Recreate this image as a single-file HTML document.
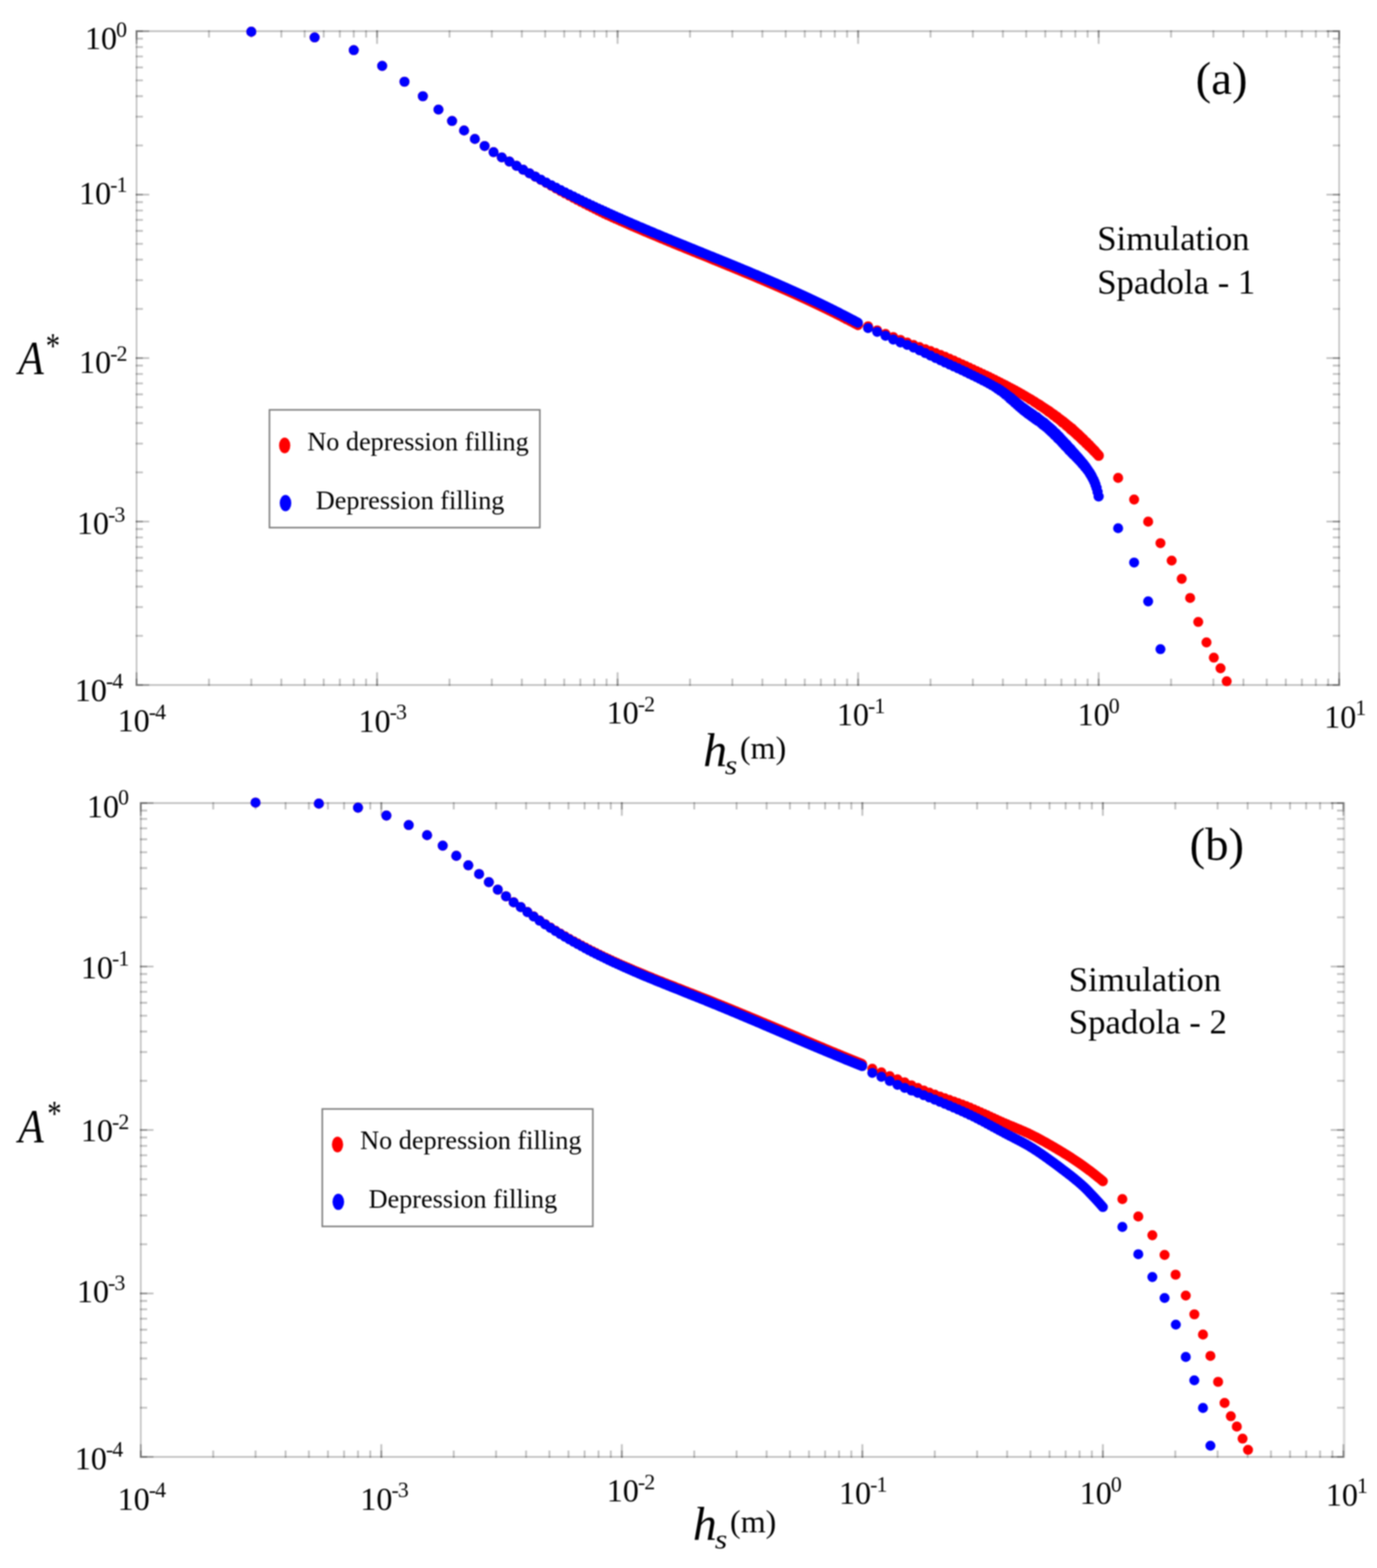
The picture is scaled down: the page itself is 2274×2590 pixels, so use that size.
<!DOCTYPE html>
<html><head><meta charset="utf-8"><title>A* vs hs</title>
<style>html,body{margin:0;padding:0;background:#fff;}svg{display:block;}</style>
</head><body>
<svg width="2274" height="2590" viewBox="0 0 2274 2590" font-family="Liberation Serif, Times New Roman, serif">
<rect width="2274" height="2590" fill="#fff"/>
<defs><filter id="soft" x="0" y="0" width="100%" height="100%" color-interpolation-filters="sRGB"><feGaussianBlur stdDeviation="0.9"/></filter></defs>
<g filter="url(#soft)">
<path d="M225.5,51.5H2211.5V1131.5H225.5Z" fill="none" stroke="#000" stroke-opacity="0.235" stroke-width="2.8"/>
<path d="M225.5,1132.9v-22.4M225.5,50.1v22.4M622.7,1132.9v-22.4M622.7,50.1v22.4M1019.9,1132.9v-22.4M1019.9,50.1v22.4M1417.1,1132.9v-22.4M1417.1,50.1v22.4M1814.3,1132.9v-22.4M1814.3,50.1v22.4M2211.5,1132.9v-22.4M2211.5,50.1v22.4M224.1,1131.5h22.4M2212.9,1131.5h-22.4M224.1,861.5h22.4M2212.9,861.5h-22.4M224.1,591.5h22.4M2212.9,591.5h-22.4M224.1,321.5h22.4M2212.9,321.5h-22.4M224.1,51.5h22.4M2212.9,51.5h-22.4" fill="none" stroke="#000" stroke-opacity="0.235" stroke-width="3.1"/>
<path d="M225.5,1132.9v-11.9M225.5,50.1v11.9M345.1,1132.9v-11.9M345.1,50.1v11.9M415.0,1132.9v-11.9M415.0,50.1v11.9M464.6,1132.9v-11.9M464.6,50.1v11.9M503.1,1132.9v-11.9M503.1,50.1v11.9M534.6,1132.9v-11.9M534.6,50.1v11.9M561.2,1132.9v-11.9M561.2,50.1v11.9M584.2,1132.9v-11.9M584.2,50.1v11.9M604.5,1132.9v-11.9M604.5,50.1v11.9M622.7,1132.9v-11.9M622.7,50.1v11.9M742.3,1132.9v-11.9M742.3,50.1v11.9M812.2,1132.9v-11.9M812.2,50.1v11.9M861.8,1132.9v-11.9M861.8,50.1v11.9M900.3,1132.9v-11.9M900.3,50.1v11.9M931.8,1132.9v-11.9M931.8,50.1v11.9M958.4,1132.9v-11.9M958.4,50.1v11.9M981.4,1132.9v-11.9M981.4,50.1v11.9M1001.7,1132.9v-11.9M1001.7,50.1v11.9M1019.9,1132.9v-11.9M1019.9,50.1v11.9M1139.5,1132.9v-11.9M1139.5,50.1v11.9M1209.4,1132.9v-11.9M1209.4,50.1v11.9M1259.0,1132.9v-11.9M1259.0,50.1v11.9M1297.5,1132.9v-11.9M1297.5,50.1v11.9M1329.0,1132.9v-11.9M1329.0,50.1v11.9M1355.6,1132.9v-11.9M1355.6,50.1v11.9M1378.6,1132.9v-11.9M1378.6,50.1v11.9M1398.9,1132.9v-11.9M1398.9,50.1v11.9M1417.1,1132.9v-11.9M1417.1,50.1v11.9M1536.7,1132.9v-11.9M1536.7,50.1v11.9M1606.6,1132.9v-11.9M1606.6,50.1v11.9M1656.2,1132.9v-11.9M1656.2,50.1v11.9M1694.7,1132.9v-11.9M1694.7,50.1v11.9M1726.2,1132.9v-11.9M1726.2,50.1v11.9M1752.8,1132.9v-11.9M1752.8,50.1v11.9M1775.8,1132.9v-11.9M1775.8,50.1v11.9M1796.1,1132.9v-11.9M1796.1,50.1v11.9M1814.3,1132.9v-11.9M1814.3,50.1v11.9M1933.9,1132.9v-11.9M1933.9,50.1v11.9M2003.8,1132.9v-11.9M2003.8,50.1v11.9M2053.4,1132.9v-11.9M2053.4,50.1v11.9M2091.9,1132.9v-11.9M2091.9,50.1v11.9M2123.4,1132.9v-11.9M2123.4,50.1v11.9M2150.0,1132.9v-11.9M2150.0,50.1v11.9M2173.0,1132.9v-11.9M2173.0,50.1v11.9M2193.3,1132.9v-11.9M2193.3,50.1v11.9M2211.5,1132.9v-11.9M2211.5,50.1v11.9M224.1,1131.5h11.9M2212.9,1131.5h-11.9M224.1,1050.2h11.9M2212.9,1050.2h-11.9M224.1,1002.7h11.9M2212.9,1002.7h-11.9M224.1,968.9h11.9M2212.9,968.9h-11.9M224.1,942.8h11.9M2212.9,942.8h-11.9M224.1,921.4h11.9M2212.9,921.4h-11.9M224.1,903.3h11.9M2212.9,903.3h-11.9M224.1,887.7h11.9M2212.9,887.7h-11.9M224.1,873.9h11.9M2212.9,873.9h-11.9M224.1,861.5h11.9M2212.9,861.5h-11.9M224.1,780.2h11.9M2212.9,780.2h-11.9M224.1,732.7h11.9M2212.9,732.7h-11.9M224.1,698.9h11.9M2212.9,698.9h-11.9M224.1,672.8h11.9M2212.9,672.8h-11.9M224.1,651.4h11.9M2212.9,651.4h-11.9M224.1,633.3h11.9M2212.9,633.3h-11.9M224.1,617.7h11.9M2212.9,617.7h-11.9M224.1,603.9h11.9M2212.9,603.9h-11.9M224.1,591.5h11.9M2212.9,591.5h-11.9M224.1,510.2h11.9M2212.9,510.2h-11.9M224.1,462.7h11.9M2212.9,462.7h-11.9M224.1,428.9h11.9M2212.9,428.9h-11.9M224.1,402.8h11.9M2212.9,402.8h-11.9M224.1,381.4h11.9M2212.9,381.4h-11.9M224.1,363.3h11.9M2212.9,363.3h-11.9M224.1,347.7h11.9M2212.9,347.7h-11.9M224.1,333.9h11.9M2212.9,333.9h-11.9M224.1,321.5h11.9M2212.9,321.5h-11.9M224.1,240.2h11.9M2212.9,240.2h-11.9M224.1,192.7h11.9M2212.9,192.7h-11.9M224.1,158.9h11.9M2212.9,158.9h-11.9M224.1,132.8h11.9M2212.9,132.8h-11.9M224.1,111.4h11.9M2212.9,111.4h-11.9M224.1,93.3h11.9M2212.9,93.3h-11.9M224.1,77.7h11.9M2212.9,77.7h-11.9M224.1,63.9h11.9M2212.9,63.9h-11.9M224.1,51.5h11.9M2212.9,51.5h-11.9" fill="none" stroke="#000" stroke-opacity="0.235" stroke-width="3.1"/>
<path d="M2219.7,1325.1V2407.9" fill="none" stroke="#000" stroke-opacity="0.14" stroke-width="4.2"/>
<path d="M2218.5,1326.5H232.5V2406.5H2218.5" fill="none" stroke="#000" stroke-opacity="0.235" stroke-width="2.8"/>
<path d="M232.5,2407.9v-22.4M232.5,1325.1v22.4M629.7,2407.9v-22.4M629.7,1325.1v22.4M1026.9,2407.9v-22.4M1026.9,1325.1v22.4M1424.1,2407.9v-22.4M1424.1,1325.1v22.4M1821.3,2407.9v-22.4M1821.3,1325.1v22.4M2218.5,2407.9v-22.4M2218.5,1325.1v22.4M231.1,2406.5h22.4M2219.9,2406.5h-22.4M231.1,2136.5h22.4M2219.9,2136.5h-22.4M231.1,1866.5h22.4M2219.9,1866.5h-22.4M231.1,1596.5h22.4M2219.9,1596.5h-22.4M231.1,1326.5h22.4M2219.9,1326.5h-22.4" fill="none" stroke="#000" stroke-opacity="0.235" stroke-width="3.1"/>
<path d="M232.5,2407.9v-11.9M232.5,1325.1v11.9M352.1,2407.9v-11.9M352.1,1325.1v11.9M422.0,2407.9v-11.9M422.0,1325.1v11.9M471.6,2407.9v-11.9M471.6,1325.1v11.9M510.1,2407.9v-11.9M510.1,1325.1v11.9M541.6,2407.9v-11.9M541.6,1325.1v11.9M568.2,2407.9v-11.9M568.2,1325.1v11.9M591.2,2407.9v-11.9M591.2,1325.1v11.9M611.5,2407.9v-11.9M611.5,1325.1v11.9M629.7,2407.9v-11.9M629.7,1325.1v11.9M749.3,2407.9v-11.9M749.3,1325.1v11.9M819.2,2407.9v-11.9M819.2,1325.1v11.9M868.8,2407.9v-11.9M868.8,1325.1v11.9M907.3,2407.9v-11.9M907.3,1325.1v11.9M938.8,2407.9v-11.9M938.8,1325.1v11.9M965.4,2407.9v-11.9M965.4,1325.1v11.9M988.4,2407.9v-11.9M988.4,1325.1v11.9M1008.7,2407.9v-11.9M1008.7,1325.1v11.9M1026.9,2407.9v-11.9M1026.9,1325.1v11.9M1146.5,2407.9v-11.9M1146.5,1325.1v11.9M1216.4,2407.9v-11.9M1216.4,1325.1v11.9M1266.0,2407.9v-11.9M1266.0,1325.1v11.9M1304.5,2407.9v-11.9M1304.5,1325.1v11.9M1336.0,2407.9v-11.9M1336.0,1325.1v11.9M1362.6,2407.9v-11.9M1362.6,1325.1v11.9M1385.6,2407.9v-11.9M1385.6,1325.1v11.9M1405.9,2407.9v-11.9M1405.9,1325.1v11.9M1424.1,2407.9v-11.9M1424.1,1325.1v11.9M1543.7,2407.9v-11.9M1543.7,1325.1v11.9M1613.6,2407.9v-11.9M1613.6,1325.1v11.9M1663.2,2407.9v-11.9M1663.2,1325.1v11.9M1701.7,2407.9v-11.9M1701.7,1325.1v11.9M1733.2,2407.9v-11.9M1733.2,1325.1v11.9M1759.8,2407.9v-11.9M1759.8,1325.1v11.9M1782.8,2407.9v-11.9M1782.8,1325.1v11.9M1803.1,2407.9v-11.9M1803.1,1325.1v11.9M1821.3,2407.9v-11.9M1821.3,1325.1v11.9M1940.9,2407.9v-11.9M1940.9,1325.1v11.9M2010.8,2407.9v-11.9M2010.8,1325.1v11.9M2060.4,2407.9v-11.9M2060.4,1325.1v11.9M2098.9,2407.9v-11.9M2098.9,1325.1v11.9M2130.4,2407.9v-11.9M2130.4,1325.1v11.9M2157.0,2407.9v-11.9M2157.0,1325.1v11.9M2180.0,2407.9v-11.9M2180.0,1325.1v11.9M2200.3,2407.9v-11.9M2200.3,1325.1v11.9M2218.5,2407.9v-11.9M2218.5,1325.1v11.9M231.1,2406.5h11.9M2219.9,2406.5h-11.9M231.1,2325.2h11.9M2219.9,2325.2h-11.9M231.1,2277.7h11.9M2219.9,2277.7h-11.9M231.1,2243.9h11.9M2219.9,2243.9h-11.9M231.1,2217.8h11.9M2219.9,2217.8h-11.9M231.1,2196.4h11.9M2219.9,2196.4h-11.9M231.1,2178.3h11.9M2219.9,2178.3h-11.9M231.1,2162.7h11.9M2219.9,2162.7h-11.9M231.1,2148.9h11.9M2219.9,2148.9h-11.9M231.1,2136.5h11.9M2219.9,2136.5h-11.9M231.1,2055.2h11.9M2219.9,2055.2h-11.9M231.1,2007.7h11.9M2219.9,2007.7h-11.9M231.1,1973.9h11.9M2219.9,1973.9h-11.9M231.1,1947.8h11.9M2219.9,1947.8h-11.9M231.1,1926.4h11.9M2219.9,1926.4h-11.9M231.1,1908.3h11.9M2219.9,1908.3h-11.9M231.1,1892.7h11.9M2219.9,1892.7h-11.9M231.1,1878.9h11.9M2219.9,1878.9h-11.9M231.1,1866.5h11.9M2219.9,1866.5h-11.9M231.1,1785.2h11.9M2219.9,1785.2h-11.9M231.1,1737.7h11.9M2219.9,1737.7h-11.9M231.1,1703.9h11.9M2219.9,1703.9h-11.9M231.1,1677.8h11.9M2219.9,1677.8h-11.9M231.1,1656.4h11.9M2219.9,1656.4h-11.9M231.1,1638.3h11.9M2219.9,1638.3h-11.9M231.1,1622.7h11.9M2219.9,1622.7h-11.9M231.1,1608.9h11.9M2219.9,1608.9h-11.9M231.1,1596.5h11.9M2219.9,1596.5h-11.9M231.1,1515.2h11.9M2219.9,1515.2h-11.9M231.1,1467.7h11.9M2219.9,1467.7h-11.9M231.1,1433.9h11.9M2219.9,1433.9h-11.9M231.1,1407.8h11.9M2219.9,1407.8h-11.9M231.1,1386.4h11.9M2219.9,1386.4h-11.9M231.1,1368.3h11.9M2219.9,1368.3h-11.9M231.1,1352.7h11.9M2219.9,1352.7h-11.9M231.1,1338.9h11.9M2219.9,1338.9h-11.9M231.1,1326.5h11.9M2219.9,1326.5h-11.9" fill="none" stroke="#000" stroke-opacity="0.235" stroke-width="3.1"/>
<path d="M406.71,52.40a8.30,8.30 0 1,0 16.60,0a8.30,8.30 0 1,0 -16.60,0M511.27,61.80a8.30,8.30 0 1,0 16.60,0a8.30,8.30 0 1,0 -16.60,0M575.91,82.80a8.30,8.30 0 1,0 16.60,0a8.30,8.30 0 1,0 -16.60,0M622.82,108.90a8.30,8.30 0 1,0 16.60,0a8.30,8.30 0 1,0 -16.60,0M659.66,135.00a8.30,8.30 0 1,0 16.60,0a8.30,8.30 0 1,0 -16.60,0M690.00,159.00a8.30,8.30 0 1,0 16.60,0a8.30,8.30 0 1,0 -16.60,0M715.79,181.00a8.30,8.30 0 1,0 16.60,0a8.30,8.30 0 1,0 -16.60,0M738.23,199.80a8.30,8.30 0 1,0 16.60,0a8.30,8.30 0 1,0 -16.60,0M758.08,215.50a8.30,8.30 0 1,0 16.60,0a8.30,8.30 0 1,0 -16.60,0M775.88,229.50a8.30,8.30 0 1,0 16.60,0a8.30,8.30 0 1,0 -16.60,0M792.01,241.20a8.30,8.30 0 1,0 16.60,0a8.30,8.30 0 1,0 -16.60,0M806.76,251.30a8.30,8.30 0 1,0 16.60,0a8.30,8.30 0 1,0 -16.60,0M820.35,260.00a8.30,8.30 0 1,0 16.60,0a8.30,8.30 0 1,0 -16.60,0M832.95,266.83a8.30,8.30 0 1,0 16.60,0a8.30,8.30 0 1,0 -16.60,0M844.69,273.86a8.30,8.30 0 1,0 16.60,0a8.30,8.30 0 1,0 -16.60,0M855.68,280.29a8.30,8.30 0 1,0 16.60,0a8.30,8.30 0 1,0 -16.60,0M866.01,286.21a8.30,8.30 0 1,0 16.60,0a8.30,8.30 0 1,0 -16.60,0M875.76,291.82a8.30,8.30 0 1,0 16.60,0a8.30,8.30 0 1,0 -16.60,0M884.99,297.21a8.30,8.30 0 1,0 16.60,0a8.30,8.30 0 1,0 -16.60,0M893.75,302.25a8.30,8.30 0 1,0 16.60,0a8.30,8.30 0 1,0 -16.60,0M902.08,306.97a8.30,8.30 0 1,0 16.60,0a8.30,8.30 0 1,0 -16.60,0M910.03,311.41a8.30,8.30 0 1,0 16.60,0a8.30,8.30 0 1,0 -16.60,0M917.63,315.60a8.30,8.30 0 1,0 16.60,0a8.30,8.30 0 1,0 -16.60,0M924.91,319.56a8.30,8.30 0 1,0 16.60,0a8.30,8.30 0 1,0 -16.60,0M931.90,323.31a8.30,8.30 0 1,0 16.60,0a8.30,8.30 0 1,0 -16.60,0M938.61,326.88a8.30,8.30 0 1,0 16.60,0a8.30,8.30 0 1,0 -16.60,0M945.07,330.29a8.30,8.30 0 1,0 16.60,0a8.30,8.30 0 1,0 -16.60,0M951.30,333.53a8.30,8.30 0 1,0 16.60,0a8.30,8.30 0 1,0 -16.60,0M957.31,336.64a8.30,8.30 0 1,0 16.60,0a8.30,8.30 0 1,0 -16.60,0M963.12,339.61a8.30,8.30 0 1,0 16.60,0a8.30,8.30 0 1,0 -16.60,0M968.74,342.46a8.30,8.30 0 1,0 16.60,0a8.30,8.30 0 1,0 -16.60,0M974.18,345.20a8.30,8.30 0 1,0 16.60,0a8.30,8.30 0 1,0 -16.60,0M979.46,347.84a8.30,8.30 0 1,0 16.60,0a8.30,8.30 0 1,0 -16.60,0M984.58,350.38a8.30,8.30 0 1,0 16.60,0a8.30,8.30 0 1,0 -16.60,0M989.55,352.83a8.30,8.30 0 1,0 16.60,0a8.30,8.30 0 1,0 -16.60,0M994.38,355.11a8.30,8.30 0 1,0 16.60,0a8.30,8.30 0 1,0 -16.60,0M999.08,357.24a8.30,8.30 0 1,0 16.60,0a8.30,8.30 0 1,0 -16.60,0M1003.66,359.31a8.30,8.30 0 1,0 16.60,0a8.30,8.30 0 1,0 -16.60,0M1008.11,361.31a8.30,8.30 0 1,0 16.60,0a8.30,8.30 0 1,0 -16.60,0M1012.46,363.24a8.30,8.30 0 1,0 16.60,0a8.30,8.30 0 1,0 -16.60,0M1016.70,365.12a8.30,8.30 0 1,0 16.60,0a8.30,8.30 0 1,0 -16.60,0M1020.84,366.95a8.30,8.30 0 1,0 16.60,0a8.30,8.30 0 1,0 -16.60,0M1024.88,368.72a8.30,8.30 0 1,0 16.60,0a8.30,8.30 0 1,0 -16.60,0M1028.82,370.45a8.30,8.30 0 1,0 16.60,0a8.30,8.30 0 1,0 -16.60,0M1032.68,372.13a8.30,8.30 0 1,0 16.60,0a8.30,8.30 0 1,0 -16.60,0M1036.46,373.77a8.30,8.30 0 1,0 16.60,0a8.30,8.30 0 1,0 -16.60,0M1040.15,375.36a8.30,8.30 0 1,0 16.60,0a8.30,8.30 0 1,0 -16.60,0M1043.77,376.92a8.30,8.30 0 1,0 16.60,0a8.30,8.30 0 1,0 -16.60,0M1047.31,378.44a8.30,8.30 0 1,0 16.60,0a8.30,8.30 0 1,0 -16.60,0M1050.78,379.92a8.30,8.30 0 1,0 16.60,0a8.30,8.30 0 1,0 -16.60,0M1054.18,381.37a8.30,8.30 0 1,0 16.60,0a8.30,8.30 0 1,0 -16.60,0M1057.52,382.78a8.30,8.30 0 1,0 16.60,0a8.30,8.30 0 1,0 -16.60,0M1060.79,384.17a8.30,8.30 0 1,0 16.60,0a8.30,8.30 0 1,0 -16.60,0M1064.01,385.53a8.30,8.30 0 1,0 16.60,0a8.30,8.30 0 1,0 -16.60,0M1067.16,386.85a8.30,8.30 0 1,0 16.60,0a8.30,8.30 0 1,0 -16.60,0M1070.26,388.16a8.30,8.30 0 1,0 16.60,0a8.30,8.30 0 1,0 -16.60,0M1073.30,389.43a8.30,8.30 0 1,0 16.60,0a8.30,8.30 0 1,0 -16.60,0M1076.29,390.68a8.30,8.30 0 1,0 16.60,0a8.30,8.30 0 1,0 -16.60,0M1079.23,391.91a8.30,8.30 0 1,0 16.60,0a8.30,8.30 0 1,0 -16.60,0M1082.12,393.11a8.30,8.30 0 1,0 16.60,0a8.30,8.30 0 1,0 -16.60,0M1084.96,394.29a8.30,8.30 0 1,0 16.60,0a8.30,8.30 0 1,0 -16.60,0M1087.76,395.45a8.30,8.30 0 1,0 16.60,0a8.30,8.30 0 1,0 -16.60,0M1090.51,396.59a8.30,8.30 0 1,0 16.60,0a8.30,8.30 0 1,0 -16.60,0M1093.21,397.71a8.30,8.30 0 1,0 16.60,0a8.30,8.30 0 1,0 -16.60,0M1095.88,398.81a8.30,8.30 0 1,0 16.60,0a8.30,8.30 0 1,0 -16.60,0M1098.51,399.90a8.30,8.30 0 1,0 16.60,0a8.30,8.30 0 1,0 -16.60,0M1101.09,400.96a8.30,8.30 0 1,0 16.60,0a8.30,8.30 0 1,0 -16.60,0M1103.64,402.01a8.30,8.30 0 1,0 16.60,0a8.30,8.30 0 1,0 -16.60,0M1106.15,403.04a8.30,8.30 0 1,0 16.60,0a8.30,8.30 0 1,0 -16.60,0M1108.63,404.06a8.30,8.30 0 1,0 16.60,0a8.30,8.30 0 1,0 -16.60,0M1111.07,405.06a8.30,8.30 0 1,0 16.60,0a8.30,8.30 0 1,0 -16.60,0M1113.47,406.04a8.30,8.30 0 1,0 16.60,0a8.30,8.30 0 1,0 -16.60,0M1115.85,407.01a8.30,8.30 0 1,0 16.60,0a8.30,8.30 0 1,0 -16.60,0M1118.19,407.97a8.30,8.30 0 1,0 16.60,0a8.30,8.30 0 1,0 -16.60,0M1120.50,408.92a8.30,8.30 0 1,0 16.60,0a8.30,8.30 0 1,0 -16.60,0M1122.77,409.85a8.30,8.30 0 1,0 16.60,0a8.30,8.30 0 1,0 -16.60,0M1125.02,410.76a8.30,8.30 0 1,0 16.60,0a8.30,8.30 0 1,0 -16.60,0M1127.24,411.67a8.30,8.30 0 1,0 16.60,0a8.30,8.30 0 1,0 -16.60,0M1129.44,412.56a8.30,8.30 0 1,0 16.60,0a8.30,8.30 0 1,0 -16.60,0M1131.60,413.45a8.30,8.30 0 1,0 16.60,0a8.30,8.30 0 1,0 -16.60,0M1133.74,414.32a8.30,8.30 0 1,0 16.60,0a8.30,8.30 0 1,0 -16.60,0M1135.85,415.18a8.30,8.30 0 1,0 16.60,0a8.30,8.30 0 1,0 -16.60,0M1137.93,416.02a8.30,8.30 0 1,0 16.60,0a8.30,8.30 0 1,0 -16.60,0M1140.00,416.86a8.30,8.30 0 1,0 16.60,0a8.30,8.30 0 1,0 -16.60,0M1142.03,417.69a8.30,8.30 0 1,0 16.60,0a8.30,8.30 0 1,0 -16.60,0M1144.05,418.51a8.30,8.30 0 1,0 16.60,0a8.30,8.30 0 1,0 -16.60,0M1146.03,419.32a8.30,8.30 0 1,0 16.60,0a8.30,8.30 0 1,0 -16.60,0M1148.00,420.12a8.30,8.30 0 1,0 16.60,0a8.30,8.30 0 1,0 -16.60,0M1149.95,420.91a8.30,8.30 0 1,0 16.60,0a8.30,8.30 0 1,0 -16.60,0M1151.87,421.69a8.30,8.30 0 1,0 16.60,0a8.30,8.30 0 1,0 -16.60,0M1153.77,422.47a8.30,8.30 0 1,0 16.60,0a8.30,8.30 0 1,0 -16.60,0M1155.65,423.23a8.30,8.30 0 1,0 16.60,0a8.30,8.30 0 1,0 -16.60,0M1157.51,423.99a8.30,8.30 0 1,0 16.60,0a8.30,8.30 0 1,0 -16.60,0M1159.35,424.74a8.30,8.30 0 1,0 16.60,0a8.30,8.30 0 1,0 -16.60,0M1161.18,425.48a8.30,8.30 0 1,0 16.60,0a8.30,8.30 0 1,0 -16.60,0M1162.98,426.21a8.30,8.30 0 1,0 16.60,0a8.30,8.30 0 1,0 -16.60,0M1164.76,426.94a8.30,8.30 0 1,0 16.60,0a8.30,8.30 0 1,0 -16.60,0M1166.53,427.66a8.30,8.30 0 1,0 16.60,0a8.30,8.30 0 1,0 -16.60,0M1168.28,428.37a8.30,8.30 0 1,0 16.60,0a8.30,8.30 0 1,0 -16.60,0M1170.01,429.07a8.30,8.30 0 1,0 16.60,0a8.30,8.30 0 1,0 -16.60,0M1171.72,429.77a8.30,8.30 0 1,0 16.60,0a8.30,8.30 0 1,0 -16.60,0M1173.42,430.46a8.30,8.30 0 1,0 16.60,0a8.30,8.30 0 1,0 -16.60,0M1175.10,431.15a8.30,8.30 0 1,0 16.60,0a8.30,8.30 0 1,0 -16.60,0M1176.76,431.82a8.30,8.30 0 1,0 16.60,0a8.30,8.30 0 1,0 -16.60,0M1178.41,432.50a8.30,8.30 0 1,0 16.60,0a8.30,8.30 0 1,0 -16.60,0M1180.04,433.16a8.30,8.30 0 1,0 16.60,0a8.30,8.30 0 1,0 -16.60,0M1181.66,433.82a8.30,8.30 0 1,0 16.60,0a8.30,8.30 0 1,0 -16.60,0M1183.26,434.48a8.30,8.30 0 1,0 16.60,0a8.30,8.30 0 1,0 -16.60,0M1184.84,435.13a8.30,8.30 0 1,0 16.60,0a8.30,8.30 0 1,0 -16.60,0M1186.42,435.77a8.30,8.30 0 1,0 16.60,0a8.30,8.30 0 1,0 -16.60,0M1187.97,436.41a8.30,8.30 0 1,0 16.60,0a8.30,8.30 0 1,0 -16.60,0M1189.52,437.04a8.30,8.30 0 1,0 16.60,0a8.30,8.30 0 1,0 -16.60,0M1191.05,437.66a8.30,8.30 0 1,0 16.60,0a8.30,8.30 0 1,0 -16.60,0M1192.57,438.29a8.30,8.30 0 1,0 16.60,0a8.30,8.30 0 1,0 -16.60,0M1194.07,438.90a8.30,8.30 0 1,0 16.60,0a8.30,8.30 0 1,0 -16.60,0M1195.56,439.52a8.30,8.30 0 1,0 16.60,0a8.30,8.30 0 1,0 -16.60,0M1197.04,440.12a8.30,8.30 0 1,0 16.60,0a8.30,8.30 0 1,0 -16.60,0M1198.51,440.72a8.30,8.30 0 1,0 16.60,0a8.30,8.30 0 1,0 -16.60,0M1199.96,441.32a8.30,8.30 0 1,0 16.60,0a8.30,8.30 0 1,0 -16.60,0M1201.40,441.91a8.30,8.30 0 1,0 16.60,0a8.30,8.30 0 1,0 -16.60,0M1202.83,442.50a8.30,8.30 0 1,0 16.60,0a8.30,8.30 0 1,0 -16.60,0M1204.25,443.09a8.30,8.30 0 1,0 16.60,0a8.30,8.30 0 1,0 -16.60,0M1205.65,443.67a8.30,8.30 0 1,0 16.60,0a8.30,8.30 0 1,0 -16.60,0M1207.05,444.24a8.30,8.30 0 1,0 16.60,0a8.30,8.30 0 1,0 -16.60,0M1208.43,444.81a8.30,8.30 0 1,0 16.60,0a8.30,8.30 0 1,0 -16.60,0M1209.80,445.38a8.30,8.30 0 1,0 16.60,0a8.30,8.30 0 1,0 -16.60,0M1211.16,445.94a8.30,8.30 0 1,0 16.60,0a8.30,8.30 0 1,0 -16.60,0M1212.51,446.50a8.30,8.30 0 1,0 16.60,0a8.30,8.30 0 1,0 -16.60,0M1213.86,447.06a8.30,8.30 0 1,0 16.60,0a8.30,8.30 0 1,0 -16.60,0M1215.19,447.61a8.30,8.30 0 1,0 16.60,0a8.30,8.30 0 1,0 -16.60,0M1216.51,448.16a8.30,8.30 0 1,0 16.60,0a8.30,8.30 0 1,0 -16.60,0M1217.81,448.70a8.30,8.30 0 1,0 16.60,0a8.30,8.30 0 1,0 -16.60,0M1219.11,449.24a8.30,8.30 0 1,0 16.60,0a8.30,8.30 0 1,0 -16.60,0M1220.41,449.78a8.30,8.30 0 1,0 16.60,0a8.30,8.30 0 1,0 -16.60,0M1221.69,450.31a8.30,8.30 0 1,0 16.60,0a8.30,8.30 0 1,0 -16.60,0M1222.96,450.84a8.30,8.30 0 1,0 16.60,0a8.30,8.30 0 1,0 -16.60,0M1224.22,451.36a8.30,8.30 0 1,0 16.60,0a8.30,8.30 0 1,0 -16.60,0M1225.47,451.89a8.30,8.30 0 1,0 16.60,0a8.30,8.30 0 1,0 -16.60,0M1226.72,452.41a8.30,8.30 0 1,0 16.60,0a8.30,8.30 0 1,0 -16.60,0M1227.95,452.92a8.30,8.30 0 1,0 16.60,0a8.30,8.30 0 1,0 -16.60,0M1229.18,453.43a8.30,8.30 0 1,0 16.60,0a8.30,8.30 0 1,0 -16.60,0M1230.39,453.94a8.30,8.30 0 1,0 16.60,0a8.30,8.30 0 1,0 -16.60,0M1231.60,454.45a8.30,8.30 0 1,0 16.60,0a8.30,8.30 0 1,0 -16.60,0M1232.80,454.95a8.30,8.30 0 1,0 16.60,0a8.30,8.30 0 1,0 -16.60,0M1233.99,455.46a8.30,8.30 0 1,0 16.60,0a8.30,8.30 0 1,0 -16.60,0M1235.18,455.95a8.30,8.30 0 1,0 16.60,0a8.30,8.30 0 1,0 -16.60,0M1236.35,456.45a8.30,8.30 0 1,0 16.60,0a8.30,8.30 0 1,0 -16.60,0M1237.52,456.94a8.30,8.30 0 1,0 16.60,0a8.30,8.30 0 1,0 -16.60,0M1238.68,457.43a8.30,8.30 0 1,0 16.60,0a8.30,8.30 0 1,0 -16.60,0M1239.84,457.91a8.30,8.30 0 1,0 16.60,0a8.30,8.30 0 1,0 -16.60,0M1240.98,458.40a8.30,8.30 0 1,0 16.60,0a8.30,8.30 0 1,0 -16.60,0M1242.12,458.88a8.30,8.30 0 1,0 16.60,0a8.30,8.30 0 1,0 -16.60,0M1243.25,459.36a8.30,8.30 0 1,0 16.60,0a8.30,8.30 0 1,0 -16.60,0M1244.37,459.83a8.30,8.30 0 1,0 16.60,0a8.30,8.30 0 1,0 -16.60,0M1245.48,460.30a8.30,8.30 0 1,0 16.60,0a8.30,8.30 0 1,0 -16.60,0M1246.59,460.77a8.30,8.30 0 1,0 16.60,0a8.30,8.30 0 1,0 -16.60,0M1247.69,461.24a8.30,8.30 0 1,0 16.60,0a8.30,8.30 0 1,0 -16.60,0M1248.79,461.71a8.30,8.30 0 1,0 16.60,0a8.30,8.30 0 1,0 -16.60,0M1249.87,462.17a8.30,8.30 0 1,0 16.60,0a8.30,8.30 0 1,0 -16.60,0M1250.95,462.63a8.30,8.30 0 1,0 16.60,0a8.30,8.30 0 1,0 -16.60,0M1252.03,463.09a8.30,8.30 0 1,0 16.60,0a8.30,8.30 0 1,0 -16.60,0M1253.09,463.54a8.30,8.30 0 1,0 16.60,0a8.30,8.30 0 1,0 -16.60,0M1254.15,463.99a8.30,8.30 0 1,0 16.60,0a8.30,8.30 0 1,0 -16.60,0M1255.21,464.44a8.30,8.30 0 1,0 16.60,0a8.30,8.30 0 1,0 -16.60,0M1256.26,464.89a8.30,8.30 0 1,0 16.60,0a8.30,8.30 0 1,0 -16.60,0M1257.30,465.34a8.30,8.30 0 1,0 16.60,0a8.30,8.30 0 1,0 -16.60,0M1258.33,465.78a8.30,8.30 0 1,0 16.60,0a8.30,8.30 0 1,0 -16.60,0M1259.36,466.22a8.30,8.30 0 1,0 16.60,0a8.30,8.30 0 1,0 -16.60,0M1260.38,466.66a8.30,8.30 0 1,0 16.60,0a8.30,8.30 0 1,0 -16.60,0M1261.40,467.10a8.30,8.30 0 1,0 16.60,0a8.30,8.30 0 1,0 -16.60,0M1262.41,467.54a8.30,8.30 0 1,0 16.60,0a8.30,8.30 0 1,0 -16.60,0M1263.41,467.97a8.30,8.30 0 1,0 16.60,0a8.30,8.30 0 1,0 -16.60,0M1264.41,468.40a8.30,8.30 0 1,0 16.60,0a8.30,8.30 0 1,0 -16.60,0M1265.41,468.83a8.30,8.30 0 1,0 16.60,0a8.30,8.30 0 1,0 -16.60,0M1266.39,469.26a8.30,8.30 0 1,0 16.60,0a8.30,8.30 0 1,0 -16.60,0M1267.38,469.68a8.30,8.30 0 1,0 16.60,0a8.30,8.30 0 1,0 -16.60,0M1268.35,470.10a8.30,8.30 0 1,0 16.60,0a8.30,8.30 0 1,0 -16.60,0M1269.32,470.52a8.30,8.30 0 1,0 16.60,0a8.30,8.30 0 1,0 -16.60,0M1270.29,470.94a8.30,8.30 0 1,0 16.60,0a8.30,8.30 0 1,0 -16.60,0M1271.25,471.36a8.30,8.30 0 1,0 16.60,0a8.30,8.30 0 1,0 -16.60,0M1272.20,471.78a8.30,8.30 0 1,0 16.60,0a8.30,8.30 0 1,0 -16.60,0M1273.15,472.19a8.30,8.30 0 1,0 16.60,0a8.30,8.30 0 1,0 -16.60,0M1274.10,472.60a8.30,8.30 0 1,0 16.60,0a8.30,8.30 0 1,0 -16.60,0M1275.03,473.01a8.30,8.30 0 1,0 16.60,0a8.30,8.30 0 1,0 -16.60,0M1275.97,473.42a8.30,8.30 0 1,0 16.60,0a8.30,8.30 0 1,0 -16.60,0M1276.90,473.82a8.30,8.30 0 1,0 16.60,0a8.30,8.30 0 1,0 -16.60,0M1277.82,474.23a8.30,8.30 0 1,0 16.60,0a8.30,8.30 0 1,0 -16.60,0M1278.74,474.63a8.30,8.30 0 1,0 16.60,0a8.30,8.30 0 1,0 -16.60,0M1279.65,475.03a8.30,8.30 0 1,0 16.60,0a8.30,8.30 0 1,0 -16.60,0M1280.56,475.43a8.30,8.30 0 1,0 16.60,0a8.30,8.30 0 1,0 -16.60,0M1281.47,475.83a8.30,8.30 0 1,0 16.60,0a8.30,8.30 0 1,0 -16.60,0M1282.37,476.23a8.30,8.30 0 1,0 16.60,0a8.30,8.30 0 1,0 -16.60,0M1283.26,476.62a8.30,8.30 0 1,0 16.60,0a8.30,8.30 0 1,0 -16.60,0M1284.15,477.01a8.30,8.30 0 1,0 16.60,0a8.30,8.30 0 1,0 -16.60,0M1285.04,477.40a8.30,8.30 0 1,0 16.60,0a8.30,8.30 0 1,0 -16.60,0M1285.92,477.79a8.30,8.30 0 1,0 16.60,0a8.30,8.30 0 1,0 -16.60,0M1286.80,478.18a8.30,8.30 0 1,0 16.60,0a8.30,8.30 0 1,0 -16.60,0M1287.67,478.57a8.30,8.30 0 1,0 16.60,0a8.30,8.30 0 1,0 -16.60,0M1288.54,478.95a8.30,8.30 0 1,0 16.60,0a8.30,8.30 0 1,0 -16.60,0M1289.40,479.34a8.30,8.30 0 1,0 16.60,0a8.30,8.30 0 1,0 -16.60,0M1290.26,479.72a8.30,8.30 0 1,0 16.60,0a8.30,8.30 0 1,0 -16.60,0M1291.12,480.10a8.30,8.30 0 1,0 16.60,0a8.30,8.30 0 1,0 -16.60,0M1291.97,480.48a8.30,8.30 0 1,0 16.60,0a8.30,8.30 0 1,0 -16.60,0M1292.82,480.85a8.30,8.30 0 1,0 16.60,0a8.30,8.30 0 1,0 -16.60,0M1293.66,481.23a8.30,8.30 0 1,0 16.60,0a8.30,8.30 0 1,0 -16.60,0M1294.50,481.60a8.30,8.30 0 1,0 16.60,0a8.30,8.30 0 1,0 -16.60,0M1295.33,481.98a8.30,8.30 0 1,0 16.60,0a8.30,8.30 0 1,0 -16.60,0M1296.16,482.35a8.30,8.30 0 1,0 16.60,0a8.30,8.30 0 1,0 -16.60,0M1296.99,482.72a8.30,8.30 0 1,0 16.60,0a8.30,8.30 0 1,0 -16.60,0M1297.81,483.09a8.30,8.30 0 1,0 16.60,0a8.30,8.30 0 1,0 -16.60,0M1298.63,483.46a8.30,8.30 0 1,0 16.60,0a8.30,8.30 0 1,0 -16.60,0M1299.45,483.82a8.30,8.30 0 1,0 16.60,0a8.30,8.30 0 1,0 -16.60,0M1300.26,484.19a8.30,8.30 0 1,0 16.60,0a8.30,8.30 0 1,0 -16.60,0M1301.06,484.55a8.30,8.30 0 1,0 16.60,0a8.30,8.30 0 1,0 -16.60,0M1301.87,484.91a8.30,8.30 0 1,0 16.60,0a8.30,8.30 0 1,0 -16.60,0M1302.67,485.27a8.30,8.30 0 1,0 16.60,0a8.30,8.30 0 1,0 -16.60,0M1303.46,485.63a8.30,8.30 0 1,0 16.60,0a8.30,8.30 0 1,0 -16.60,0M1304.25,485.99a8.30,8.30 0 1,0 16.60,0a8.30,8.30 0 1,0 -16.60,0M1305.04,486.35a8.30,8.30 0 1,0 16.60,0a8.30,8.30 0 1,0 -16.60,0M1305.83,486.71a8.30,8.30 0 1,0 16.60,0a8.30,8.30 0 1,0 -16.60,0M1306.61,487.06a8.30,8.30 0 1,0 16.60,0a8.30,8.30 0 1,0 -16.60,0M1307.39,487.41a8.30,8.30 0 1,0 16.60,0a8.30,8.30 0 1,0 -16.60,0M1308.16,487.77a8.30,8.30 0 1,0 16.60,0a8.30,8.30 0 1,0 -16.60,0M1308.93,488.12a8.30,8.30 0 1,0 16.60,0a8.30,8.30 0 1,0 -16.60,0M1309.70,488.47a8.30,8.30 0 1,0 16.60,0a8.30,8.30 0 1,0 -16.60,0M1310.47,488.81a8.30,8.30 0 1,0 16.60,0a8.30,8.30 0 1,0 -16.60,0M1311.23,489.16a8.30,8.30 0 1,0 16.60,0a8.30,8.30 0 1,0 -16.60,0M1311.98,489.51a8.30,8.30 0 1,0 16.60,0a8.30,8.30 0 1,0 -16.60,0M1312.74,489.85a8.30,8.30 0 1,0 16.60,0a8.30,8.30 0 1,0 -16.60,0M1313.49,490.20a8.30,8.30 0 1,0 16.60,0a8.30,8.30 0 1,0 -16.60,0M1314.24,490.54a8.30,8.30 0 1,0 16.60,0a8.30,8.30 0 1,0 -16.60,0M1314.98,490.88a8.30,8.30 0 1,0 16.60,0a8.30,8.30 0 1,0 -16.60,0M1315.72,491.22a8.30,8.30 0 1,0 16.60,0a8.30,8.30 0 1,0 -16.60,0M1316.46,491.56a8.30,8.30 0 1,0 16.60,0a8.30,8.30 0 1,0 -16.60,0M1317.20,491.90a8.30,8.30 0 1,0 16.60,0a8.30,8.30 0 1,0 -16.60,0M1317.93,492.24a8.30,8.30 0 1,0 16.60,0a8.30,8.30 0 1,0 -16.60,0M1318.66,492.57a8.30,8.30 0 1,0 16.60,0a8.30,8.30 0 1,0 -16.60,0M1319.38,492.91a8.30,8.30 0 1,0 16.60,0a8.30,8.30 0 1,0 -16.60,0M1320.11,493.24a8.30,8.30 0 1,0 16.60,0a8.30,8.30 0 1,0 -16.60,0M1320.83,493.58a8.30,8.30 0 1,0 16.60,0a8.30,8.30 0 1,0 -16.60,0M1321.54,493.91a8.30,8.30 0 1,0 16.60,0a8.30,8.30 0 1,0 -16.60,0M1322.26,494.24a8.30,8.30 0 1,0 16.60,0a8.30,8.30 0 1,0 -16.60,0M1322.97,494.57a8.30,8.30 0 1,0 16.60,0a8.30,8.30 0 1,0 -16.60,0M1323.67,494.90a8.30,8.30 0 1,0 16.60,0a8.30,8.30 0 1,0 -16.60,0M1324.38,495.23a8.30,8.30 0 1,0 16.60,0a8.30,8.30 0 1,0 -16.60,0M1325.08,495.55a8.30,8.30 0 1,0 16.60,0a8.30,8.30 0 1,0 -16.60,0M1325.78,495.88a8.30,8.30 0 1,0 16.60,0a8.30,8.30 0 1,0 -16.60,0M1326.48,496.20a8.30,8.30 0 1,0 16.60,0a8.30,8.30 0 1,0 -16.60,0M1327.17,496.53a8.30,8.30 0 1,0 16.60,0a8.30,8.30 0 1,0 -16.60,0M1327.86,496.85a8.30,8.30 0 1,0 16.60,0a8.30,8.30 0 1,0 -16.60,0M1328.55,497.17a8.30,8.30 0 1,0 16.60,0a8.30,8.30 0 1,0 -16.60,0M1329.23,497.49a8.30,8.30 0 1,0 16.60,0a8.30,8.30 0 1,0 -16.60,0M1329.92,497.81a8.30,8.30 0 1,0 16.60,0a8.30,8.30 0 1,0 -16.60,0M1330.60,498.13a8.30,8.30 0 1,0 16.60,0a8.30,8.30 0 1,0 -16.60,0M1331.27,498.45a8.30,8.30 0 1,0 16.60,0a8.30,8.30 0 1,0 -16.60,0M1331.95,498.77a8.30,8.30 0 1,0 16.60,0a8.30,8.30 0 1,0 -16.60,0M1332.62,499.08a8.30,8.30 0 1,0 16.60,0a8.30,8.30 0 1,0 -16.60,0M1333.29,499.40a8.30,8.30 0 1,0 16.60,0a8.30,8.30 0 1,0 -16.60,0M1333.96,499.71a8.30,8.30 0 1,0 16.60,0a8.30,8.30 0 1,0 -16.60,0M1334.62,500.03a8.30,8.30 0 1,0 16.60,0a8.30,8.30 0 1,0 -16.60,0M1335.28,500.34a8.30,8.30 0 1,0 16.60,0a8.30,8.30 0 1,0 -16.60,0M1335.94,500.65a8.30,8.30 0 1,0 16.60,0a8.30,8.30 0 1,0 -16.60,0M1336.60,500.96a8.30,8.30 0 1,0 16.60,0a8.30,8.30 0 1,0 -16.60,0M1337.25,501.27a8.30,8.30 0 1,0 16.60,0a8.30,8.30 0 1,0 -16.60,0M1337.91,501.58a8.30,8.30 0 1,0 16.60,0a8.30,8.30 0 1,0 -16.60,0M1338.55,501.89a8.30,8.30 0 1,0 16.60,0a8.30,8.30 0 1,0 -16.60,0M1339.20,502.20a8.30,8.30 0 1,0 16.60,0a8.30,8.30 0 1,0 -16.60,0M1339.85,502.51a8.30,8.30 0 1,0 16.60,0a8.30,8.30 0 1,0 -16.60,0M1340.49,502.81a8.30,8.30 0 1,0 16.60,0a8.30,8.30 0 1,0 -16.60,0M1341.13,503.12a8.30,8.30 0 1,0 16.60,0a8.30,8.30 0 1,0 -16.60,0M1341.76,503.42a8.30,8.30 0 1,0 16.60,0a8.30,8.30 0 1,0 -16.60,0M1342.40,503.73a8.30,8.30 0 1,0 16.60,0a8.30,8.30 0 1,0 -16.60,0M1343.03,504.03a8.30,8.30 0 1,0 16.60,0a8.30,8.30 0 1,0 -16.60,0M1343.66,504.33a8.30,8.30 0 1,0 16.60,0a8.30,8.30 0 1,0 -16.60,0M1344.29,504.63a8.30,8.30 0 1,0 16.60,0a8.30,8.30 0 1,0 -16.60,0M1344.92,504.93a8.30,8.30 0 1,0 16.60,0a8.30,8.30 0 1,0 -16.60,0M1345.54,505.23a8.30,8.30 0 1,0 16.60,0a8.30,8.30 0 1,0 -16.60,0M1346.16,505.53a8.30,8.30 0 1,0 16.60,0a8.30,8.30 0 1,0 -16.60,0M1346.78,505.83a8.30,8.30 0 1,0 16.60,0a8.30,8.30 0 1,0 -16.60,0M1347.40,506.12a8.30,8.30 0 1,0 16.60,0a8.30,8.30 0 1,0 -16.60,0M1348.01,506.42a8.30,8.30 0 1,0 16.60,0a8.30,8.30 0 1,0 -16.60,0M1348.62,506.72a8.30,8.30 0 1,0 16.60,0a8.30,8.30 0 1,0 -16.60,0M1349.23,507.01a8.30,8.30 0 1,0 16.60,0a8.30,8.30 0 1,0 -16.60,0M1349.84,507.31a8.30,8.30 0 1,0 16.60,0a8.30,8.30 0 1,0 -16.60,0M1350.45,507.60a8.30,8.30 0 1,0 16.60,0a8.30,8.30 0 1,0 -16.60,0M1351.05,507.89a8.30,8.30 0 1,0 16.60,0a8.30,8.30 0 1,0 -16.60,0M1351.65,508.18a8.30,8.30 0 1,0 16.60,0a8.30,8.30 0 1,0 -16.60,0M1352.25,508.47a8.30,8.30 0 1,0 16.60,0a8.30,8.30 0 1,0 -16.60,0M1352.85,508.77a8.30,8.30 0 1,0 16.60,0a8.30,8.30 0 1,0 -16.60,0M1353.45,509.06a8.30,8.30 0 1,0 16.60,0a8.30,8.30 0 1,0 -16.60,0M1354.04,509.34a8.30,8.30 0 1,0 16.60,0a8.30,8.30 0 1,0 -16.60,0M1354.63,509.63a8.30,8.30 0 1,0 16.60,0a8.30,8.30 0 1,0 -16.60,0M1355.22,509.92a8.30,8.30 0 1,0 16.60,0a8.30,8.30 0 1,0 -16.60,0M1355.81,510.21a8.30,8.30 0 1,0 16.60,0a8.30,8.30 0 1,0 -16.60,0M1356.39,510.49a8.30,8.30 0 1,0 16.60,0a8.30,8.30 0 1,0 -16.60,0M1356.98,510.78a8.30,8.30 0 1,0 16.60,0a8.30,8.30 0 1,0 -16.60,0M1357.56,511.06a8.30,8.30 0 1,0 16.60,0a8.30,8.30 0 1,0 -16.60,0M1358.14,511.35a8.30,8.30 0 1,0 16.60,0a8.30,8.30 0 1,0 -16.60,0M1358.71,511.63a8.30,8.30 0 1,0 16.60,0a8.30,8.30 0 1,0 -16.60,0M1359.29,511.91a8.30,8.30 0 1,0 16.60,0a8.30,8.30 0 1,0 -16.60,0M1359.86,512.20a8.30,8.30 0 1,0 16.60,0a8.30,8.30 0 1,0 -16.60,0M1360.43,512.48a8.30,8.30 0 1,0 16.60,0a8.30,8.30 0 1,0 -16.60,0M1361.00,512.76a8.30,8.30 0 1,0 16.60,0a8.30,8.30 0 1,0 -16.60,0M1361.57,513.04a8.30,8.30 0 1,0 16.60,0a8.30,8.30 0 1,0 -16.60,0M1362.14,513.32a8.30,8.30 0 1,0 16.60,0a8.30,8.30 0 1,0 -16.60,0M1362.70,513.60a8.30,8.30 0 1,0 16.60,0a8.30,8.30 0 1,0 -16.60,0M1363.27,513.87a8.30,8.30 0 1,0 16.60,0a8.30,8.30 0 1,0 -16.60,0M1363.83,514.15a8.30,8.30 0 1,0 16.60,0a8.30,8.30 0 1,0 -16.60,0M1364.38,514.43a8.30,8.30 0 1,0 16.60,0a8.30,8.30 0 1,0 -16.60,0M1364.94,514.70a8.30,8.30 0 1,0 16.60,0a8.30,8.30 0 1,0 -16.60,0M1365.50,514.98a8.30,8.30 0 1,0 16.60,0a8.30,8.30 0 1,0 -16.60,0M1366.05,515.26a8.30,8.30 0 1,0 16.60,0a8.30,8.30 0 1,0 -16.60,0M1366.60,515.53a8.30,8.30 0 1,0 16.60,0a8.30,8.30 0 1,0 -16.60,0M1367.15,515.80a8.30,8.30 0 1,0 16.60,0a8.30,8.30 0 1,0 -16.60,0M1367.70,516.08a8.30,8.30 0 1,0 16.60,0a8.30,8.30 0 1,0 -16.60,0M1368.25,516.35a8.30,8.30 0 1,0 16.60,0a8.30,8.30 0 1,0 -16.60,0M1368.79,516.62a8.30,8.30 0 1,0 16.60,0a8.30,8.30 0 1,0 -16.60,0M1369.33,516.89a8.30,8.30 0 1,0 16.60,0a8.30,8.30 0 1,0 -16.60,0M1369.88,517.16a8.30,8.30 0 1,0 16.60,0a8.30,8.30 0 1,0 -16.60,0M1370.42,517.43a8.30,8.30 0 1,0 16.60,0a8.30,8.30 0 1,0 -16.60,0M1370.95,517.70a8.30,8.30 0 1,0 16.60,0a8.30,8.30 0 1,0 -16.60,0M1371.49,517.97a8.30,8.30 0 1,0 16.60,0a8.30,8.30 0 1,0 -16.60,0M1372.02,518.24a8.30,8.30 0 1,0 16.60,0a8.30,8.30 0 1,0 -16.60,0M1372.56,518.51a8.30,8.30 0 1,0 16.60,0a8.30,8.30 0 1,0 -16.60,0M1373.09,518.78a8.30,8.30 0 1,0 16.60,0a8.30,8.30 0 1,0 -16.60,0M1373.62,519.04a8.30,8.30 0 1,0 16.60,0a8.30,8.30 0 1,0 -16.60,0M1374.15,519.31a8.30,8.30 0 1,0 16.60,0a8.30,8.30 0 1,0 -16.60,0M1374.67,519.57a8.30,8.30 0 1,0 16.60,0a8.30,8.30 0 1,0 -16.60,0M1375.20,519.84a8.30,8.30 0 1,0 16.60,0a8.30,8.30 0 1,0 -16.60,0M1375.72,520.10a8.30,8.30 0 1,0 16.60,0a8.30,8.30 0 1,0 -16.60,0M1376.24,520.37a8.30,8.30 0 1,0 16.60,0a8.30,8.30 0 1,0 -16.60,0M1376.76,520.63a8.30,8.30 0 1,0 16.60,0a8.30,8.30 0 1,0 -16.60,0M1377.28,520.89a8.30,8.30 0 1,0 16.60,0a8.30,8.30 0 1,0 -16.60,0M1377.80,521.15a8.30,8.30 0 1,0 16.60,0a8.30,8.30 0 1,0 -16.60,0M1378.31,521.42a8.30,8.30 0 1,0 16.60,0a8.30,8.30 0 1,0 -16.60,0M1378.83,521.68a8.30,8.30 0 1,0 16.60,0a8.30,8.30 0 1,0 -16.60,0M1379.34,521.94a8.30,8.30 0 1,0 16.60,0a8.30,8.30 0 1,0 -16.60,0M1379.85,522.20a8.30,8.30 0 1,0 16.60,0a8.30,8.30 0 1,0 -16.60,0M1380.36,522.46a8.30,8.30 0 1,0 16.60,0a8.30,8.30 0 1,0 -16.60,0M1380.87,522.72a8.30,8.30 0 1,0 16.60,0a8.30,8.30 0 1,0 -16.60,0M1381.37,522.97a8.30,8.30 0 1,0 16.60,0a8.30,8.30 0 1,0 -16.60,0M1381.88,523.23a8.30,8.30 0 1,0 16.60,0a8.30,8.30 0 1,0 -16.60,0M1382.38,523.49a8.30,8.30 0 1,0 16.60,0a8.30,8.30 0 1,0 -16.60,0M1382.88,523.75a8.30,8.30 0 1,0 16.60,0a8.30,8.30 0 1,0 -16.60,0M1383.38,524.00a8.30,8.30 0 1,0 16.60,0a8.30,8.30 0 1,0 -16.60,0M1383.88,524.26a8.30,8.30 0 1,0 16.60,0a8.30,8.30 0 1,0 -16.60,0M1384.38,524.51a8.30,8.30 0 1,0 16.60,0a8.30,8.30 0 1,0 -16.60,0M1384.88,524.77a8.30,8.30 0 1,0 16.60,0a8.30,8.30 0 1,0 -16.60,0M1385.37,525.02a8.30,8.30 0 1,0 16.60,0a8.30,8.30 0 1,0 -16.60,0M1385.86,525.28a8.30,8.30 0 1,0 16.60,0a8.30,8.30 0 1,0 -16.60,0M1386.36,525.53a8.30,8.30 0 1,0 16.60,0a8.30,8.30 0 1,0 -16.60,0M1386.85,525.78a8.30,8.30 0 1,0 16.60,0a8.30,8.30 0 1,0 -16.60,0M1387.34,526.03a8.30,8.30 0 1,0 16.60,0a8.30,8.30 0 1,0 -16.60,0M1387.82,526.29a8.30,8.30 0 1,0 16.60,0a8.30,8.30 0 1,0 -16.60,0M1388.31,526.54a8.30,8.30 0 1,0 16.60,0a8.30,8.30 0 1,0 -16.60,0M1388.79,526.79a8.30,8.30 0 1,0 16.60,0a8.30,8.30 0 1,0 -16.60,0M1389.28,527.04a8.30,8.30 0 1,0 16.60,0a8.30,8.30 0 1,0 -16.60,0M1389.76,527.29a8.30,8.30 0 1,0 16.60,0a8.30,8.30 0 1,0 -16.60,0M1390.24,527.54a8.30,8.30 0 1,0 16.60,0a8.30,8.30 0 1,0 -16.60,0M1390.72,527.79a8.30,8.30 0 1,0 16.60,0a8.30,8.30 0 1,0 -16.60,0M1391.20,528.03a8.30,8.30 0 1,0 16.60,0a8.30,8.30 0 1,0 -16.60,0M1391.68,528.28a8.30,8.30 0 1,0 16.60,0a8.30,8.30 0 1,0 -16.60,0M1392.15,528.53a8.30,8.30 0 1,0 16.60,0a8.30,8.30 0 1,0 -16.60,0M1392.63,528.78a8.30,8.30 0 1,0 16.60,0a8.30,8.30 0 1,0 -16.60,0M1393.10,529.02a8.30,8.30 0 1,0 16.60,0a8.30,8.30 0 1,0 -16.60,0M1393.57,529.27a8.30,8.30 0 1,0 16.60,0a8.30,8.30 0 1,0 -16.60,0M1394.04,529.51a8.30,8.30 0 1,0 16.60,0a8.30,8.30 0 1,0 -16.60,0M1394.51,529.76a8.30,8.30 0 1,0 16.60,0a8.30,8.30 0 1,0 -16.60,0M1394.98,530.00a8.30,8.30 0 1,0 16.60,0a8.30,8.30 0 1,0 -16.60,0M1395.44,530.25a8.30,8.30 0 1,0 16.60,0a8.30,8.30 0 1,0 -16.60,0M1395.91,530.49a8.30,8.30 0 1,0 16.60,0a8.30,8.30 0 1,0 -16.60,0M1396.37,530.74a8.30,8.30 0 1,0 16.60,0a8.30,8.30 0 1,0 -16.60,0M1396.84,530.98a8.30,8.30 0 1,0 16.60,0a8.30,8.30 0 1,0 -16.60,0M1397.30,531.22a8.30,8.30 0 1,0 16.60,0a8.30,8.30 0 1,0 -16.60,0M1397.76,531.46a8.30,8.30 0 1,0 16.60,0a8.30,8.30 0 1,0 -16.60,0M1398.22,531.70a8.30,8.30 0 1,0 16.60,0a8.30,8.30 0 1,0 -16.60,0M1398.68,531.95a8.30,8.30 0 1,0 16.60,0a8.30,8.30 0 1,0 -16.60,0M1399.13,532.19a8.30,8.30 0 1,0 16.60,0a8.30,8.30 0 1,0 -16.60,0M1399.59,532.43a8.30,8.30 0 1,0 16.60,0a8.30,8.30 0 1,0 -16.60,0M1400.04,532.67a8.30,8.30 0 1,0 16.60,0a8.30,8.30 0 1,0 -16.60,0M1400.50,532.91a8.30,8.30 0 1,0 16.60,0a8.30,8.30 0 1,0 -16.60,0M1400.95,533.14a8.30,8.30 0 1,0 16.60,0a8.30,8.30 0 1,0 -16.60,0M1401.40,533.38a8.30,8.30 0 1,0 16.60,0a8.30,8.30 0 1,0 -16.60,0M1401.85,533.62a8.30,8.30 0 1,0 16.60,0a8.30,8.30 0 1,0 -16.60,0M1402.30,533.86a8.30,8.30 0 1,0 16.60,0a8.30,8.30 0 1,0 -16.60,0M1402.74,534.10a8.30,8.30 0 1,0 16.60,0a8.30,8.30 0 1,0 -16.60,0M1403.19,534.33a8.30,8.30 0 1,0 16.60,0a8.30,8.30 0 1,0 -16.60,0M1403.63,534.57a8.30,8.30 0 1,0 16.60,0a8.30,8.30 0 1,0 -16.60,0M1404.08,534.81a8.30,8.30 0 1,0 16.60,0a8.30,8.30 0 1,0 -16.60,0M1404.52,535.04a8.30,8.30 0 1,0 16.60,0a8.30,8.30 0 1,0 -16.60,0M1404.96,535.28a8.30,8.30 0 1,0 16.60,0a8.30,8.30 0 1,0 -16.60,0M1405.40,535.51a8.30,8.30 0 1,0 16.60,0a8.30,8.30 0 1,0 -16.60,0M1405.84,535.75a8.30,8.30 0 1,0 16.60,0a8.30,8.30 0 1,0 -16.60,0M1406.28,535.98a8.30,8.30 0 1,0 16.60,0a8.30,8.30 0 1,0 -16.60,0M1406.72,536.21a8.30,8.30 0 1,0 16.60,0a8.30,8.30 0 1,0 -16.60,0M1407.15,536.45a8.30,8.30 0 1,0 16.60,0a8.30,8.30 0 1,0 -16.60,0M1407.59,536.68a8.30,8.30 0 1,0 16.60,0a8.30,8.30 0 1,0 -16.60,0M1408.02,536.91a8.30,8.30 0 1,0 16.60,0a8.30,8.30 0 1,0 -16.60,0M1408.45,537.14a8.30,8.30 0 1,0 16.60,0a8.30,8.30 0 1,0 -16.60,0M1425.24,538.97a8.30,8.30 0 1,0 16.60,0a8.30,8.30 0 1,0 -16.60,0M1440.25,545.72a8.30,8.30 0 1,0 16.60,0a8.30,8.30 0 1,0 -16.60,0M1454.06,551.54a8.30,8.30 0 1,0 16.60,0a8.30,8.30 0 1,0 -16.60,0M1466.84,556.74a8.30,8.30 0 1,0 16.60,0a8.30,8.30 0 1,0 -16.60,0M1478.74,561.46a8.30,8.30 0 1,0 16.60,0a8.30,8.30 0 1,0 -16.60,0M1489.88,565.79a8.30,8.30 0 1,0 16.60,0a8.30,8.30 0 1,0 -16.60,0M1500.33,569.76a8.30,8.30 0 1,0 16.60,0a8.30,8.30 0 1,0 -16.60,0M1510.19,573.34a8.30,8.30 0 1,0 16.60,0a8.30,8.30 0 1,0 -16.60,0M1519.52,576.68a8.30,8.30 0 1,0 16.60,0a8.30,8.30 0 1,0 -16.60,0M1528.37,579.89a8.30,8.30 0 1,0 16.60,0a8.30,8.30 0 1,0 -16.60,0M1536.79,583.04a8.30,8.30 0 1,0 16.60,0a8.30,8.30 0 1,0 -16.60,0M1544.81,586.21a8.30,8.30 0 1,0 16.60,0a8.30,8.30 0 1,0 -16.60,0M1552.48,589.39a8.30,8.30 0 1,0 16.60,0a8.30,8.30 0 1,0 -16.60,0M1559.82,592.54a8.30,8.30 0 1,0 16.60,0a8.30,8.30 0 1,0 -16.60,0M1566.86,595.66a8.30,8.30 0 1,0 16.60,0a8.30,8.30 0 1,0 -16.60,0M1573.63,598.71a8.30,8.30 0 1,0 16.60,0a8.30,8.30 0 1,0 -16.60,0M1580.14,601.68a8.30,8.30 0 1,0 16.60,0a8.30,8.30 0 1,0 -16.60,0M1586.41,604.56a8.30,8.30 0 1,0 16.60,0a8.30,8.30 0 1,0 -16.60,0M1592.46,607.35a8.30,8.30 0 1,0 16.60,0a8.30,8.30 0 1,0 -16.60,0M1598.31,610.06a8.30,8.30 0 1,0 16.60,0a8.30,8.30 0 1,0 -16.60,0M1603.97,612.69a8.30,8.30 0 1,0 16.60,0a8.30,8.30 0 1,0 -16.60,0M1609.45,615.26a8.30,8.30 0 1,0 16.60,0a8.30,8.30 0 1,0 -16.60,0M1614.75,617.77a8.30,8.30 0 1,0 16.60,0a8.30,8.30 0 1,0 -16.60,0M1619.90,620.24a8.30,8.30 0 1,0 16.60,0a8.30,8.30 0 1,0 -16.60,0M1624.90,622.66a8.30,8.30 0 1,0 16.60,0a8.30,8.30 0 1,0 -16.60,0M1629.76,625.03a8.30,8.30 0 1,0 16.60,0a8.30,8.30 0 1,0 -16.60,0M1634.49,627.37a8.30,8.30 0 1,0 16.60,0a8.30,8.30 0 1,0 -16.60,0M1639.09,629.68a8.30,8.30 0 1,0 16.60,0a8.30,8.30 0 1,0 -16.60,0M1643.57,631.95a8.30,8.30 0 1,0 16.60,0a8.30,8.30 0 1,0 -16.60,0M1647.94,634.19a8.30,8.30 0 1,0 16.60,0a8.30,8.30 0 1,0 -16.60,0M1652.20,636.38a8.30,8.30 0 1,0 16.60,0a8.30,8.30 0 1,0 -16.60,0M1656.35,638.55a8.30,8.30 0 1,0 16.60,0a8.30,8.30 0 1,0 -16.60,0M1660.41,640.69a8.30,8.30 0 1,0 16.60,0a8.30,8.30 0 1,0 -16.60,0M1664.38,642.81a8.30,8.30 0 1,0 16.60,0a8.30,8.30 0 1,0 -16.60,0M1668.26,644.91a8.30,8.30 0 1,0 16.60,0a8.30,8.30 0 1,0 -16.60,0M1672.05,647.01a8.30,8.30 0 1,0 16.60,0a8.30,8.30 0 1,0 -16.60,0M1675.76,649.09a8.30,8.30 0 1,0 16.60,0a8.30,8.30 0 1,0 -16.60,0M1679.39,651.16a8.30,8.30 0 1,0 16.60,0a8.30,8.30 0 1,0 -16.60,0M1682.95,653.23a8.30,8.30 0 1,0 16.60,0a8.30,8.30 0 1,0 -16.60,0M1686.43,655.28a8.30,8.30 0 1,0 16.60,0a8.30,8.30 0 1,0 -16.60,0M1689.85,657.33a8.30,8.30 0 1,0 16.60,0a8.30,8.30 0 1,0 -16.60,0M1693.17,659.36a8.33,8.33 0 1,0 16.65,0a8.33,8.33 0 1,0 -16.65,0M1696.40,661.38a8.38,8.38 0 1,0 16.76,0a8.38,8.38 0 1,0 -16.76,0M1699.57,663.40a8.44,8.44 0 1,0 16.87,0a8.44,8.44 0 1,0 -16.87,0M1702.68,665.40a8.49,8.49 0 1,0 16.98,0a8.49,8.49 0 1,0 -16.98,0M1705.74,667.40a8.54,8.54 0 1,0 17.09,0a8.54,8.54 0 1,0 -17.09,0M1708.74,669.40a8.60,8.60 0 1,0 17.19,0a8.60,8.60 0 1,0 -17.19,0M1711.69,671.39a8.65,8.65 0 1,0 17.30,0a8.65,8.65 0 1,0 -17.30,0M1714.58,673.37a8.70,8.70 0 1,0 17.40,0a8.70,8.70 0 1,0 -17.40,0M1717.43,675.35a8.75,8.75 0 1,0 17.50,0a8.75,8.75 0 1,0 -17.50,0M1720.24,677.32a8.80,8.80 0 1,0 17.60,0a8.80,8.80 0 1,0 -17.60,0M1722.99,679.30a8.85,8.85 0 1,0 17.69,0a8.85,8.85 0 1,0 -17.69,0M1725.70,681.27a8.89,8.89 0 1,0 17.79,0a8.89,8.89 0 1,0 -17.79,0M1728.38,683.24a8.94,8.94 0 1,0 17.88,0a8.94,8.94 0 1,0 -17.88,0M1731.00,685.21a8.99,8.99 0 1,0 17.97,0a8.99,8.99 0 1,0 -17.97,0M1733.59,687.18a9.03,9.03 0 1,0 18.06,0a9.03,9.03 0 1,0 -18.06,0M1736.14,689.14a9.08,9.08 0 1,0 18.15,0a9.08,9.08 0 1,0 -18.15,0M1738.65,691.10a9.12,9.12 0 1,0 18.24,0a9.12,9.12 0 1,0 -18.24,0M1741.13,693.06a9.16,9.16 0 1,0 18.32,0a9.16,9.16 0 1,0 -18.32,0M1743.57,695.01a9.20,9.20 0 1,0 18.41,0a9.20,9.20 0 1,0 -18.41,0M1745.97,696.96a9.25,9.25 0 1,0 18.49,0a9.25,9.25 0 1,0 -18.49,0M1748.34,698.90a9.29,9.29 0 1,0 18.58,0a9.29,9.29 0 1,0 -18.58,0M1750.68,700.84a9.33,9.33 0 1,0 18.66,0a9.33,9.33 0 1,0 -18.66,0M1752.99,702.77a9.37,9.37 0 1,0 18.74,0a9.37,9.37 0 1,0 -18.74,0M1755.27,704.69a9.41,9.41 0 1,0 18.82,0a9.41,9.41 0 1,0 -18.82,0M1757.51,706.61a9.45,9.45 0 1,0 18.90,0a9.45,9.45 0 1,0 -18.90,0M1759.73,708.53a9.49,9.49 0 1,0 18.97,0a9.49,9.49 0 1,0 -18.97,0M1761.96,710.44a9.48,9.48 0 1,0 18.96,0a9.48,9.48 0 1,0 -18.96,0M1764.19,712.37a9.45,9.45 0 1,0 18.90,0a9.45,9.45 0 1,0 -18.90,0M1766.38,714.31a9.42,9.42 0 1,0 18.85,0a9.42,9.42 0 1,0 -18.85,0M1768.56,716.27a9.39,9.39 0 1,0 18.79,0a9.39,9.39 0 1,0 -18.79,0M1770.70,718.22a9.37,9.37 0 1,0 18.73,0a9.37,9.37 0 1,0 -18.73,0M1772.82,720.18a9.34,9.34 0 1,0 18.68,0a9.34,9.34 0 1,0 -18.68,0M1774.91,722.13a9.31,9.31 0 1,0 18.62,0a9.31,9.31 0 1,0 -18.62,0M1776.98,724.08a9.28,9.28 0 1,0 18.57,0a9.28,9.28 0 1,0 -18.57,0M1779.03,726.02a9.26,9.26 0 1,0 18.51,0a9.26,9.26 0 1,0 -18.51,0M1781.05,727.95a9.23,9.23 0 1,0 18.46,0a9.23,9.23 0 1,0 -18.46,0M1783.05,729.86a9.20,9.20 0 1,0 18.41,0a9.20,9.20 0 1,0 -18.41,0M1785.02,731.75a9.18,9.18 0 1,0 18.35,0a9.18,9.18 0 1,0 -18.35,0M1786.97,733.62a9.15,9.15 0 1,0 18.30,0a9.15,9.15 0 1,0 -18.30,0M1788.90,735.48a9.13,9.13 0 1,0 18.25,0a9.13,9.13 0 1,0 -18.25,0M1790.82,737.34a9.10,9.10 0 1,0 18.20,0a9.10,9.10 0 1,0 -18.20,0M1792.73,739.20a9.05,9.05 0 1,0 18.10,0a9.05,9.05 0 1,0 -18.10,0M1794.62,741.07a9.00,9.00 0 1,0 18.01,0a9.00,9.00 0 1,0 -18.01,0M1796.50,742.95a8.95,8.95 0 1,0 17.91,0a8.95,8.95 0 1,0 -17.91,0M1798.35,744.84a8.91,8.91 0 1,0 17.81,0a8.91,8.91 0 1,0 -17.81,0M1800.19,746.74a8.86,8.86 0 1,0 17.72,0a8.86,8.86 0 1,0 -17.72,0M1802.00,748.66a8.81,8.81 0 1,0 17.62,0a8.81,8.81 0 1,0 -17.62,0M1803.80,750.57a8.76,8.76 0 1,0 17.53,0a8.76,8.76 0 1,0 -17.53,0M1805.58,752.50a8.72,8.72 0 1,0 17.44,0a8.72,8.72 0 1,0 -17.44,0M1838.20,789.40a8.30,8.30 0 1,0 16.60,0a8.30,8.30 0 1,0 -16.60,0M1864.60,825.10a8.30,8.30 0 1,0 16.60,0a8.30,8.30 0 1,0 -16.60,0M1887.80,861.70a8.30,8.30 0 1,0 16.60,0a8.30,8.30 0 1,0 -16.60,0M1908.10,897.20a8.30,8.30 0 1,0 16.60,0a8.30,8.30 0 1,0 -16.60,0M1926.60,926.00a8.30,8.30 0 1,0 16.60,0a8.30,8.30 0 1,0 -16.60,0M1943.20,956.10a8.30,8.30 0 1,0 16.60,0a8.30,8.30 0 1,0 -16.60,0M1957.10,987.70a8.30,8.30 0 1,0 16.60,0a8.30,8.30 0 1,0 -16.60,0M1970.50,1027.30a8.30,8.30 0 1,0 16.60,0a8.30,8.30 0 1,0 -16.60,0M1984.10,1061.20a8.30,8.30 0 1,0 16.60,0a8.30,8.30 0 1,0 -16.60,0M1996.20,1086.30a8.30,8.30 0 1,0 16.60,0a8.30,8.30 0 1,0 -16.60,0M2007.30,1103.90a8.30,8.30 0 1,0 16.60,0a8.30,8.30 0 1,0 -16.60,0M2017.50,1125.30a8.30,8.30 0 1,0 16.60,0a8.30,8.30 0 1,0 -16.60,0" fill="#ff0000"/>
<path d="M406.71,52.40a8.30,8.30 0 1,0 16.60,0a8.30,8.30 0 1,0 -16.60,0M511.27,61.80a8.30,8.30 0 1,0 16.60,0a8.30,8.30 0 1,0 -16.60,0M575.91,82.80a8.30,8.30 0 1,0 16.60,0a8.30,8.30 0 1,0 -16.60,0M622.82,108.90a8.30,8.30 0 1,0 16.60,0a8.30,8.30 0 1,0 -16.60,0M659.66,135.00a8.30,8.30 0 1,0 16.60,0a8.30,8.30 0 1,0 -16.60,0M690.00,159.00a8.30,8.30 0 1,0 16.60,0a8.30,8.30 0 1,0 -16.60,0M715.79,181.00a8.30,8.30 0 1,0 16.60,0a8.30,8.30 0 1,0 -16.60,0M738.23,199.80a8.30,8.30 0 1,0 16.60,0a8.30,8.30 0 1,0 -16.60,0M758.08,215.50a8.30,8.30 0 1,0 16.60,0a8.30,8.30 0 1,0 -16.60,0M775.88,229.50a8.30,8.30 0 1,0 16.60,0a8.30,8.30 0 1,0 -16.60,0M792.01,241.20a8.30,8.30 0 1,0 16.60,0a8.30,8.30 0 1,0 -16.60,0M806.76,251.30a8.30,8.30 0 1,0 16.60,0a8.30,8.30 0 1,0 -16.60,0M820.35,260.00a8.30,8.30 0 1,0 16.60,0a8.30,8.30 0 1,0 -16.60,0M832.95,266.83a8.30,8.30 0 1,0 16.60,0a8.30,8.30 0 1,0 -16.60,0M844.69,273.86a8.30,8.30 0 1,0 16.60,0a8.30,8.30 0 1,0 -16.60,0M855.68,280.29a8.30,8.30 0 1,0 16.60,0a8.30,8.30 0 1,0 -16.60,0M866.01,286.21a8.30,8.30 0 1,0 16.60,0a8.30,8.30 0 1,0 -16.60,0M875.76,291.68a8.30,8.30 0 1,0 16.60,0a8.30,8.30 0 1,0 -16.60,0M884.99,296.77a8.30,8.30 0 1,0 16.60,0a8.30,8.30 0 1,0 -16.60,0M893.75,301.51a8.30,8.30 0 1,0 16.60,0a8.30,8.30 0 1,0 -16.60,0M902.08,305.96a8.30,8.30 0 1,0 16.60,0a8.30,8.30 0 1,0 -16.60,0M910.03,310.13a8.30,8.30 0 1,0 16.60,0a8.30,8.30 0 1,0 -16.60,0M917.63,314.07a8.30,8.30 0 1,0 16.60,0a8.30,8.30 0 1,0 -16.60,0M924.91,317.78a8.30,8.30 0 1,0 16.60,0a8.30,8.30 0 1,0 -16.60,0M931.90,321.31a8.30,8.30 0 1,0 16.60,0a8.30,8.30 0 1,0 -16.60,0M938.61,324.65a8.30,8.30 0 1,0 16.60,0a8.30,8.30 0 1,0 -16.60,0M945.07,327.84a8.30,8.30 0 1,0 16.60,0a8.30,8.30 0 1,0 -16.60,0M951.30,330.88a8.30,8.30 0 1,0 16.60,0a8.30,8.30 0 1,0 -16.60,0M957.31,333.78a8.30,8.30 0 1,0 16.60,0a8.30,8.30 0 1,0 -16.60,0M963.12,336.56a8.30,8.30 0 1,0 16.60,0a8.30,8.30 0 1,0 -16.60,0M968.74,339.23a8.30,8.30 0 1,0 16.60,0a8.30,8.30 0 1,0 -16.60,0M974.18,341.79a8.30,8.30 0 1,0 16.60,0a8.30,8.30 0 1,0 -16.60,0M979.46,344.25a8.30,8.30 0 1,0 16.60,0a8.30,8.30 0 1,0 -16.60,0M984.58,346.62a8.30,8.30 0 1,0 16.60,0a8.30,8.30 0 1,0 -16.60,0M989.55,348.91a8.30,8.30 0 1,0 16.60,0a8.30,8.30 0 1,0 -16.60,0M994.38,351.11a8.30,8.30 0 1,0 16.60,0a8.30,8.30 0 1,0 -16.60,0M999.08,353.24a8.30,8.30 0 1,0 16.60,0a8.30,8.30 0 1,0 -16.60,0M1003.66,355.31a8.30,8.30 0 1,0 16.60,0a8.30,8.30 0 1,0 -16.60,0M1008.11,357.31a8.30,8.30 0 1,0 16.60,0a8.30,8.30 0 1,0 -16.60,0M1012.46,359.24a8.30,8.30 0 1,0 16.60,0a8.30,8.30 0 1,0 -16.60,0M1016.70,361.12a8.30,8.30 0 1,0 16.60,0a8.30,8.30 0 1,0 -16.60,0M1020.84,362.95a8.30,8.30 0 1,0 16.60,0a8.30,8.30 0 1,0 -16.60,0M1024.88,364.72a8.30,8.30 0 1,0 16.60,0a8.30,8.30 0 1,0 -16.60,0M1028.82,366.45a8.30,8.30 0 1,0 16.60,0a8.30,8.30 0 1,0 -16.60,0M1032.68,368.13a8.30,8.30 0 1,0 16.60,0a8.30,8.30 0 1,0 -16.60,0M1036.46,369.77a8.30,8.30 0 1,0 16.60,0a8.30,8.30 0 1,0 -16.60,0M1040.15,371.36a8.30,8.30 0 1,0 16.60,0a8.30,8.30 0 1,0 -16.60,0M1043.77,372.92a8.30,8.30 0 1,0 16.60,0a8.30,8.30 0 1,0 -16.60,0M1047.31,374.44a8.30,8.30 0 1,0 16.60,0a8.30,8.30 0 1,0 -16.60,0M1050.78,375.92a8.30,8.30 0 1,0 16.60,0a8.30,8.30 0 1,0 -16.60,0M1054.18,377.37a8.30,8.30 0 1,0 16.60,0a8.30,8.30 0 1,0 -16.60,0M1057.52,378.78a8.30,8.30 0 1,0 16.60,0a8.30,8.30 0 1,0 -16.60,0M1060.79,380.17a8.30,8.30 0 1,0 16.60,0a8.30,8.30 0 1,0 -16.60,0M1064.01,381.53a8.30,8.30 0 1,0 16.60,0a8.30,8.30 0 1,0 -16.60,0M1067.16,382.85a8.30,8.30 0 1,0 16.60,0a8.30,8.30 0 1,0 -16.60,0M1070.26,384.16a8.30,8.30 0 1,0 16.60,0a8.30,8.30 0 1,0 -16.60,0M1073.30,385.43a8.30,8.30 0 1,0 16.60,0a8.30,8.30 0 1,0 -16.60,0M1076.29,386.68a8.30,8.30 0 1,0 16.60,0a8.30,8.30 0 1,0 -16.60,0M1079.23,387.91a8.30,8.30 0 1,0 16.60,0a8.30,8.30 0 1,0 -16.60,0M1082.12,389.11a8.30,8.30 0 1,0 16.60,0a8.30,8.30 0 1,0 -16.60,0M1084.96,390.29a8.30,8.30 0 1,0 16.60,0a8.30,8.30 0 1,0 -16.60,0M1087.76,391.45a8.30,8.30 0 1,0 16.60,0a8.30,8.30 0 1,0 -16.60,0M1090.51,392.59a8.30,8.30 0 1,0 16.60,0a8.30,8.30 0 1,0 -16.60,0M1093.21,393.71a8.30,8.30 0 1,0 16.60,0a8.30,8.30 0 1,0 -16.60,0M1095.88,394.81a8.30,8.30 0 1,0 16.60,0a8.30,8.30 0 1,0 -16.60,0M1098.51,395.90a8.30,8.30 0 1,0 16.60,0a8.30,8.30 0 1,0 -16.60,0M1101.09,396.96a8.30,8.30 0 1,0 16.60,0a8.30,8.30 0 1,0 -16.60,0M1103.64,398.01a8.30,8.30 0 1,0 16.60,0a8.30,8.30 0 1,0 -16.60,0M1106.15,399.04a8.30,8.30 0 1,0 16.60,0a8.30,8.30 0 1,0 -16.60,0M1108.63,400.06a8.30,8.30 0 1,0 16.60,0a8.30,8.30 0 1,0 -16.60,0M1111.07,401.06a8.30,8.30 0 1,0 16.60,0a8.30,8.30 0 1,0 -16.60,0M1113.47,402.04a8.30,8.30 0 1,0 16.60,0a8.30,8.30 0 1,0 -16.60,0M1115.85,403.01a8.30,8.30 0 1,0 16.60,0a8.30,8.30 0 1,0 -16.60,0M1118.19,403.97a8.30,8.30 0 1,0 16.60,0a8.30,8.30 0 1,0 -16.60,0M1120.50,404.92a8.30,8.30 0 1,0 16.60,0a8.30,8.30 0 1,0 -16.60,0M1122.77,405.85a8.30,8.30 0 1,0 16.60,0a8.30,8.30 0 1,0 -16.60,0M1125.02,406.76a8.30,8.30 0 1,0 16.60,0a8.30,8.30 0 1,0 -16.60,0M1127.24,407.67a8.30,8.30 0 1,0 16.60,0a8.30,8.30 0 1,0 -16.60,0M1129.44,408.56a8.30,8.30 0 1,0 16.60,0a8.30,8.30 0 1,0 -16.60,0M1131.60,409.45a8.30,8.30 0 1,0 16.60,0a8.30,8.30 0 1,0 -16.60,0M1133.74,410.32a8.30,8.30 0 1,0 16.60,0a8.30,8.30 0 1,0 -16.60,0M1135.85,411.18a8.30,8.30 0 1,0 16.60,0a8.30,8.30 0 1,0 -16.60,0M1137.93,412.02a8.30,8.30 0 1,0 16.60,0a8.30,8.30 0 1,0 -16.60,0M1140.00,412.86a8.30,8.30 0 1,0 16.60,0a8.30,8.30 0 1,0 -16.60,0M1142.03,413.69a8.30,8.30 0 1,0 16.60,0a8.30,8.30 0 1,0 -16.60,0M1144.05,414.51a8.30,8.30 0 1,0 16.60,0a8.30,8.30 0 1,0 -16.60,0M1146.03,415.32a8.30,8.30 0 1,0 16.60,0a8.30,8.30 0 1,0 -16.60,0M1148.00,416.12a8.30,8.30 0 1,0 16.60,0a8.30,8.30 0 1,0 -16.60,0M1149.95,416.91a8.30,8.30 0 1,0 16.60,0a8.30,8.30 0 1,0 -16.60,0M1151.87,417.69a8.30,8.30 0 1,0 16.60,0a8.30,8.30 0 1,0 -16.60,0M1153.77,418.47a8.30,8.30 0 1,0 16.60,0a8.30,8.30 0 1,0 -16.60,0M1155.65,419.23a8.30,8.30 0 1,0 16.60,0a8.30,8.30 0 1,0 -16.60,0M1157.51,419.99a8.30,8.30 0 1,0 16.60,0a8.30,8.30 0 1,0 -16.60,0M1159.35,420.74a8.30,8.30 0 1,0 16.60,0a8.30,8.30 0 1,0 -16.60,0M1161.18,421.48a8.30,8.30 0 1,0 16.60,0a8.30,8.30 0 1,0 -16.60,0M1162.98,422.21a8.30,8.30 0 1,0 16.60,0a8.30,8.30 0 1,0 -16.60,0M1164.76,422.94a8.30,8.30 0 1,0 16.60,0a8.30,8.30 0 1,0 -16.60,0M1166.53,423.66a8.30,8.30 0 1,0 16.60,0a8.30,8.30 0 1,0 -16.60,0M1168.28,424.37a8.30,8.30 0 1,0 16.60,0a8.30,8.30 0 1,0 -16.60,0M1170.01,425.07a8.30,8.30 0 1,0 16.60,0a8.30,8.30 0 1,0 -16.60,0M1171.72,425.77a8.30,8.30 0 1,0 16.60,0a8.30,8.30 0 1,0 -16.60,0M1173.42,426.46a8.30,8.30 0 1,0 16.60,0a8.30,8.30 0 1,0 -16.60,0M1175.10,427.15a8.30,8.30 0 1,0 16.60,0a8.30,8.30 0 1,0 -16.60,0M1176.76,427.82a8.30,8.30 0 1,0 16.60,0a8.30,8.30 0 1,0 -16.60,0M1178.41,428.50a8.30,8.30 0 1,0 16.60,0a8.30,8.30 0 1,0 -16.60,0M1180.04,429.16a8.30,8.30 0 1,0 16.60,0a8.30,8.30 0 1,0 -16.60,0M1181.66,429.82a8.30,8.30 0 1,0 16.60,0a8.30,8.30 0 1,0 -16.60,0M1183.26,430.48a8.30,8.30 0 1,0 16.60,0a8.30,8.30 0 1,0 -16.60,0M1184.84,431.13a8.30,8.30 0 1,0 16.60,0a8.30,8.30 0 1,0 -16.60,0M1186.42,431.77a8.30,8.30 0 1,0 16.60,0a8.30,8.30 0 1,0 -16.60,0M1187.97,432.41a8.30,8.30 0 1,0 16.60,0a8.30,8.30 0 1,0 -16.60,0M1189.52,433.04a8.30,8.30 0 1,0 16.60,0a8.30,8.30 0 1,0 -16.60,0M1191.05,433.66a8.30,8.30 0 1,0 16.60,0a8.30,8.30 0 1,0 -16.60,0M1192.57,434.29a8.30,8.30 0 1,0 16.60,0a8.30,8.30 0 1,0 -16.60,0M1194.07,434.90a8.30,8.30 0 1,0 16.60,0a8.30,8.30 0 1,0 -16.60,0M1195.56,435.52a8.30,8.30 0 1,0 16.60,0a8.30,8.30 0 1,0 -16.60,0M1197.04,436.12a8.30,8.30 0 1,0 16.60,0a8.30,8.30 0 1,0 -16.60,0M1198.51,436.72a8.30,8.30 0 1,0 16.60,0a8.30,8.30 0 1,0 -16.60,0M1199.96,437.32a8.30,8.30 0 1,0 16.60,0a8.30,8.30 0 1,0 -16.60,0M1201.40,437.91a8.30,8.30 0 1,0 16.60,0a8.30,8.30 0 1,0 -16.60,0M1202.83,438.50a8.30,8.30 0 1,0 16.60,0a8.30,8.30 0 1,0 -16.60,0M1204.25,439.09a8.30,8.30 0 1,0 16.60,0a8.30,8.30 0 1,0 -16.60,0M1205.65,439.67a8.30,8.30 0 1,0 16.60,0a8.30,8.30 0 1,0 -16.60,0M1207.05,440.24a8.30,8.30 0 1,0 16.60,0a8.30,8.30 0 1,0 -16.60,0M1208.43,440.81a8.30,8.30 0 1,0 16.60,0a8.30,8.30 0 1,0 -16.60,0M1209.80,441.38a8.30,8.30 0 1,0 16.60,0a8.30,8.30 0 1,0 -16.60,0M1211.16,441.94a8.30,8.30 0 1,0 16.60,0a8.30,8.30 0 1,0 -16.60,0M1212.51,442.50a8.30,8.30 0 1,0 16.60,0a8.30,8.30 0 1,0 -16.60,0M1213.86,443.06a8.30,8.30 0 1,0 16.60,0a8.30,8.30 0 1,0 -16.60,0M1215.19,443.61a8.30,8.30 0 1,0 16.60,0a8.30,8.30 0 1,0 -16.60,0M1216.51,444.16a8.30,8.30 0 1,0 16.60,0a8.30,8.30 0 1,0 -16.60,0M1217.81,444.70a8.30,8.30 0 1,0 16.60,0a8.30,8.30 0 1,0 -16.60,0M1219.11,445.24a8.30,8.30 0 1,0 16.60,0a8.30,8.30 0 1,0 -16.60,0M1220.41,445.78a8.30,8.30 0 1,0 16.60,0a8.30,8.30 0 1,0 -16.60,0M1221.69,446.31a8.30,8.30 0 1,0 16.60,0a8.30,8.30 0 1,0 -16.60,0M1222.96,446.84a8.30,8.30 0 1,0 16.60,0a8.30,8.30 0 1,0 -16.60,0M1224.22,447.36a8.30,8.30 0 1,0 16.60,0a8.30,8.30 0 1,0 -16.60,0M1225.47,447.89a8.30,8.30 0 1,0 16.60,0a8.30,8.30 0 1,0 -16.60,0M1226.72,448.41a8.30,8.30 0 1,0 16.60,0a8.30,8.30 0 1,0 -16.60,0M1227.95,448.92a8.30,8.30 0 1,0 16.60,0a8.30,8.30 0 1,0 -16.60,0M1229.18,449.43a8.30,8.30 0 1,0 16.60,0a8.30,8.30 0 1,0 -16.60,0M1230.39,449.94a8.30,8.30 0 1,0 16.60,0a8.30,8.30 0 1,0 -16.60,0M1231.60,450.45a8.30,8.30 0 1,0 16.60,0a8.30,8.30 0 1,0 -16.60,0M1232.80,450.95a8.30,8.30 0 1,0 16.60,0a8.30,8.30 0 1,0 -16.60,0M1233.99,451.46a8.30,8.30 0 1,0 16.60,0a8.30,8.30 0 1,0 -16.60,0M1235.18,451.95a8.30,8.30 0 1,0 16.60,0a8.30,8.30 0 1,0 -16.60,0M1236.35,452.45a8.30,8.30 0 1,0 16.60,0a8.30,8.30 0 1,0 -16.60,0M1237.52,452.94a8.30,8.30 0 1,0 16.60,0a8.30,8.30 0 1,0 -16.60,0M1238.68,453.43a8.30,8.30 0 1,0 16.60,0a8.30,8.30 0 1,0 -16.60,0M1239.84,453.91a8.30,8.30 0 1,0 16.60,0a8.30,8.30 0 1,0 -16.60,0M1240.98,454.40a8.30,8.30 0 1,0 16.60,0a8.30,8.30 0 1,0 -16.60,0M1242.12,454.88a8.30,8.30 0 1,0 16.60,0a8.30,8.30 0 1,0 -16.60,0M1243.25,455.36a8.30,8.30 0 1,0 16.60,0a8.30,8.30 0 1,0 -16.60,0M1244.37,455.83a8.30,8.30 0 1,0 16.60,0a8.30,8.30 0 1,0 -16.60,0M1245.48,456.30a8.30,8.30 0 1,0 16.60,0a8.30,8.30 0 1,0 -16.60,0M1246.59,456.77a8.30,8.30 0 1,0 16.60,0a8.30,8.30 0 1,0 -16.60,0M1247.69,457.24a8.30,8.30 0 1,0 16.60,0a8.30,8.30 0 1,0 -16.60,0M1248.79,457.71a8.30,8.30 0 1,0 16.60,0a8.30,8.30 0 1,0 -16.60,0M1249.87,458.17a8.30,8.30 0 1,0 16.60,0a8.30,8.30 0 1,0 -16.60,0M1250.95,458.63a8.30,8.30 0 1,0 16.60,0a8.30,8.30 0 1,0 -16.60,0M1252.03,459.09a8.30,8.30 0 1,0 16.60,0a8.30,8.30 0 1,0 -16.60,0M1253.09,459.54a8.30,8.30 0 1,0 16.60,0a8.30,8.30 0 1,0 -16.60,0M1254.15,459.99a8.30,8.30 0 1,0 16.60,0a8.30,8.30 0 1,0 -16.60,0M1255.21,460.44a8.30,8.30 0 1,0 16.60,0a8.30,8.30 0 1,0 -16.60,0M1256.26,460.89a8.30,8.30 0 1,0 16.60,0a8.30,8.30 0 1,0 -16.60,0M1257.30,461.34a8.30,8.30 0 1,0 16.60,0a8.30,8.30 0 1,0 -16.60,0M1258.33,461.78a8.30,8.30 0 1,0 16.60,0a8.30,8.30 0 1,0 -16.60,0M1259.36,462.22a8.30,8.30 0 1,0 16.60,0a8.30,8.30 0 1,0 -16.60,0M1260.38,462.66a8.30,8.30 0 1,0 16.60,0a8.30,8.30 0 1,0 -16.60,0M1261.40,463.10a8.30,8.30 0 1,0 16.60,0a8.30,8.30 0 1,0 -16.60,0M1262.41,463.54a8.30,8.30 0 1,0 16.60,0a8.30,8.30 0 1,0 -16.60,0M1263.41,463.97a8.30,8.30 0 1,0 16.60,0a8.30,8.30 0 1,0 -16.60,0M1264.41,464.40a8.30,8.30 0 1,0 16.60,0a8.30,8.30 0 1,0 -16.60,0M1265.41,464.83a8.30,8.30 0 1,0 16.60,0a8.30,8.30 0 1,0 -16.60,0M1266.39,465.26a8.30,8.30 0 1,0 16.60,0a8.30,8.30 0 1,0 -16.60,0M1267.38,465.68a8.30,8.30 0 1,0 16.60,0a8.30,8.30 0 1,0 -16.60,0M1268.35,466.10a8.30,8.30 0 1,0 16.60,0a8.30,8.30 0 1,0 -16.60,0M1269.32,466.52a8.30,8.30 0 1,0 16.60,0a8.30,8.30 0 1,0 -16.60,0M1270.29,466.94a8.30,8.30 0 1,0 16.60,0a8.30,8.30 0 1,0 -16.60,0M1271.25,467.36a8.30,8.30 0 1,0 16.60,0a8.30,8.30 0 1,0 -16.60,0M1272.20,467.78a8.30,8.30 0 1,0 16.60,0a8.30,8.30 0 1,0 -16.60,0M1273.15,468.19a8.30,8.30 0 1,0 16.60,0a8.30,8.30 0 1,0 -16.60,0M1274.10,468.60a8.30,8.30 0 1,0 16.60,0a8.30,8.30 0 1,0 -16.60,0M1275.03,469.01a8.30,8.30 0 1,0 16.60,0a8.30,8.30 0 1,0 -16.60,0M1275.97,469.42a8.30,8.30 0 1,0 16.60,0a8.30,8.30 0 1,0 -16.60,0M1276.90,469.82a8.30,8.30 0 1,0 16.60,0a8.30,8.30 0 1,0 -16.60,0M1277.82,470.23a8.30,8.30 0 1,0 16.60,0a8.30,8.30 0 1,0 -16.60,0M1278.74,470.63a8.30,8.30 0 1,0 16.60,0a8.30,8.30 0 1,0 -16.60,0M1279.65,471.03a8.30,8.30 0 1,0 16.60,0a8.30,8.30 0 1,0 -16.60,0M1280.56,471.43a8.30,8.30 0 1,0 16.60,0a8.30,8.30 0 1,0 -16.60,0M1281.47,471.83a8.30,8.30 0 1,0 16.60,0a8.30,8.30 0 1,0 -16.60,0M1282.37,472.23a8.30,8.30 0 1,0 16.60,0a8.30,8.30 0 1,0 -16.60,0M1283.26,472.62a8.30,8.30 0 1,0 16.60,0a8.30,8.30 0 1,0 -16.60,0M1284.15,473.01a8.30,8.30 0 1,0 16.60,0a8.30,8.30 0 1,0 -16.60,0M1285.04,473.40a8.30,8.30 0 1,0 16.60,0a8.30,8.30 0 1,0 -16.60,0M1285.92,473.79a8.30,8.30 0 1,0 16.60,0a8.30,8.30 0 1,0 -16.60,0M1286.80,474.18a8.30,8.30 0 1,0 16.60,0a8.30,8.30 0 1,0 -16.60,0M1287.67,474.57a8.30,8.30 0 1,0 16.60,0a8.30,8.30 0 1,0 -16.60,0M1288.54,474.95a8.30,8.30 0 1,0 16.60,0a8.30,8.30 0 1,0 -16.60,0M1289.40,475.34a8.30,8.30 0 1,0 16.60,0a8.30,8.30 0 1,0 -16.60,0M1290.26,475.72a8.30,8.30 0 1,0 16.60,0a8.30,8.30 0 1,0 -16.60,0M1291.12,476.10a8.30,8.30 0 1,0 16.60,0a8.30,8.30 0 1,0 -16.60,0M1291.97,476.48a8.30,8.30 0 1,0 16.60,0a8.30,8.30 0 1,0 -16.60,0M1292.82,476.85a8.30,8.30 0 1,0 16.60,0a8.30,8.30 0 1,0 -16.60,0M1293.66,477.23a8.30,8.30 0 1,0 16.60,0a8.30,8.30 0 1,0 -16.60,0M1294.50,477.60a8.30,8.30 0 1,0 16.60,0a8.30,8.30 0 1,0 -16.60,0M1295.33,477.98a8.30,8.30 0 1,0 16.60,0a8.30,8.30 0 1,0 -16.60,0M1296.16,478.35a8.30,8.30 0 1,0 16.60,0a8.30,8.30 0 1,0 -16.60,0M1296.99,478.72a8.30,8.30 0 1,0 16.60,0a8.30,8.30 0 1,0 -16.60,0M1297.81,479.09a8.30,8.30 0 1,0 16.60,0a8.30,8.30 0 1,0 -16.60,0M1298.63,479.46a8.30,8.30 0 1,0 16.60,0a8.30,8.30 0 1,0 -16.60,0M1299.45,479.82a8.30,8.30 0 1,0 16.60,0a8.30,8.30 0 1,0 -16.60,0M1300.26,480.19a8.30,8.30 0 1,0 16.60,0a8.30,8.30 0 1,0 -16.60,0M1301.06,480.55a8.30,8.30 0 1,0 16.60,0a8.30,8.30 0 1,0 -16.60,0M1301.87,480.91a8.30,8.30 0 1,0 16.60,0a8.30,8.30 0 1,0 -16.60,0M1302.67,481.27a8.30,8.30 0 1,0 16.60,0a8.30,8.30 0 1,0 -16.60,0M1303.46,481.63a8.30,8.30 0 1,0 16.60,0a8.30,8.30 0 1,0 -16.60,0M1304.25,481.99a8.30,8.30 0 1,0 16.60,0a8.30,8.30 0 1,0 -16.60,0M1305.04,482.35a8.30,8.30 0 1,0 16.60,0a8.30,8.30 0 1,0 -16.60,0M1305.83,482.71a8.30,8.30 0 1,0 16.60,0a8.30,8.30 0 1,0 -16.60,0M1306.61,483.06a8.30,8.30 0 1,0 16.60,0a8.30,8.30 0 1,0 -16.60,0M1307.39,483.41a8.30,8.30 0 1,0 16.60,0a8.30,8.30 0 1,0 -16.60,0M1308.16,483.77a8.30,8.30 0 1,0 16.60,0a8.30,8.30 0 1,0 -16.60,0M1308.93,484.12a8.30,8.30 0 1,0 16.60,0a8.30,8.30 0 1,0 -16.60,0M1309.70,484.47a8.30,8.30 0 1,0 16.60,0a8.30,8.30 0 1,0 -16.60,0M1310.47,484.81a8.30,8.30 0 1,0 16.60,0a8.30,8.30 0 1,0 -16.60,0M1311.23,485.16a8.30,8.30 0 1,0 16.60,0a8.30,8.30 0 1,0 -16.60,0M1311.98,485.51a8.30,8.30 0 1,0 16.60,0a8.30,8.30 0 1,0 -16.60,0M1312.74,485.85a8.30,8.30 0 1,0 16.60,0a8.30,8.30 0 1,0 -16.60,0M1313.49,486.20a8.30,8.30 0 1,0 16.60,0a8.30,8.30 0 1,0 -16.60,0M1314.24,486.54a8.30,8.30 0 1,0 16.60,0a8.30,8.30 0 1,0 -16.60,0M1314.98,486.88a8.30,8.30 0 1,0 16.60,0a8.30,8.30 0 1,0 -16.60,0M1315.72,487.22a8.30,8.30 0 1,0 16.60,0a8.30,8.30 0 1,0 -16.60,0M1316.46,487.56a8.30,8.30 0 1,0 16.60,0a8.30,8.30 0 1,0 -16.60,0M1317.20,487.90a8.30,8.30 0 1,0 16.60,0a8.30,8.30 0 1,0 -16.60,0M1317.93,488.24a8.30,8.30 0 1,0 16.60,0a8.30,8.30 0 1,0 -16.60,0M1318.66,488.57a8.30,8.30 0 1,0 16.60,0a8.30,8.30 0 1,0 -16.60,0M1319.38,488.91a8.30,8.30 0 1,0 16.60,0a8.30,8.30 0 1,0 -16.60,0M1320.11,489.24a8.30,8.30 0 1,0 16.60,0a8.30,8.30 0 1,0 -16.60,0M1320.83,489.58a8.30,8.30 0 1,0 16.60,0a8.30,8.30 0 1,0 -16.60,0M1321.54,489.91a8.30,8.30 0 1,0 16.60,0a8.30,8.30 0 1,0 -16.60,0M1322.26,490.24a8.30,8.30 0 1,0 16.60,0a8.30,8.30 0 1,0 -16.60,0M1322.97,490.57a8.30,8.30 0 1,0 16.60,0a8.30,8.30 0 1,0 -16.60,0M1323.67,490.90a8.30,8.30 0 1,0 16.60,0a8.30,8.30 0 1,0 -16.60,0M1324.38,491.23a8.30,8.30 0 1,0 16.60,0a8.30,8.30 0 1,0 -16.60,0M1325.08,491.55a8.30,8.30 0 1,0 16.60,0a8.30,8.30 0 1,0 -16.60,0M1325.78,491.88a8.30,8.30 0 1,0 16.60,0a8.30,8.30 0 1,0 -16.60,0M1326.48,492.20a8.30,8.30 0 1,0 16.60,0a8.30,8.30 0 1,0 -16.60,0M1327.17,492.53a8.30,8.30 0 1,0 16.60,0a8.30,8.30 0 1,0 -16.60,0M1327.86,492.85a8.30,8.30 0 1,0 16.60,0a8.30,8.30 0 1,0 -16.60,0M1328.55,493.17a8.30,8.30 0 1,0 16.60,0a8.30,8.30 0 1,0 -16.60,0M1329.23,493.49a8.30,8.30 0 1,0 16.60,0a8.30,8.30 0 1,0 -16.60,0M1329.92,493.81a8.30,8.30 0 1,0 16.60,0a8.30,8.30 0 1,0 -16.60,0M1330.60,494.13a8.30,8.30 0 1,0 16.60,0a8.30,8.30 0 1,0 -16.60,0M1331.27,494.45a8.30,8.30 0 1,0 16.60,0a8.30,8.30 0 1,0 -16.60,0M1331.95,494.77a8.30,8.30 0 1,0 16.60,0a8.30,8.30 0 1,0 -16.60,0M1332.62,495.08a8.30,8.30 0 1,0 16.60,0a8.30,8.30 0 1,0 -16.60,0M1333.29,495.40a8.30,8.30 0 1,0 16.60,0a8.30,8.30 0 1,0 -16.60,0M1333.96,495.71a8.30,8.30 0 1,0 16.60,0a8.30,8.30 0 1,0 -16.60,0M1334.62,496.03a8.30,8.30 0 1,0 16.60,0a8.30,8.30 0 1,0 -16.60,0M1335.28,496.34a8.30,8.30 0 1,0 16.60,0a8.30,8.30 0 1,0 -16.60,0M1335.94,496.65a8.30,8.30 0 1,0 16.60,0a8.30,8.30 0 1,0 -16.60,0M1336.60,496.96a8.30,8.30 0 1,0 16.60,0a8.30,8.30 0 1,0 -16.60,0M1337.25,497.27a8.30,8.30 0 1,0 16.60,0a8.30,8.30 0 1,0 -16.60,0M1337.91,497.58a8.30,8.30 0 1,0 16.60,0a8.30,8.30 0 1,0 -16.60,0M1338.55,497.89a8.30,8.30 0 1,0 16.60,0a8.30,8.30 0 1,0 -16.60,0M1339.20,498.20a8.30,8.30 0 1,0 16.60,0a8.30,8.30 0 1,0 -16.60,0M1339.85,498.51a8.30,8.30 0 1,0 16.60,0a8.30,8.30 0 1,0 -16.60,0M1340.49,498.81a8.30,8.30 0 1,0 16.60,0a8.30,8.30 0 1,0 -16.60,0M1341.13,499.12a8.30,8.30 0 1,0 16.60,0a8.30,8.30 0 1,0 -16.60,0M1341.76,499.42a8.30,8.30 0 1,0 16.60,0a8.30,8.30 0 1,0 -16.60,0M1342.40,499.73a8.30,8.30 0 1,0 16.60,0a8.30,8.30 0 1,0 -16.60,0M1343.03,500.03a8.30,8.30 0 1,0 16.60,0a8.30,8.30 0 1,0 -16.60,0M1343.66,500.33a8.30,8.30 0 1,0 16.60,0a8.30,8.30 0 1,0 -16.60,0M1344.29,500.63a8.30,8.30 0 1,0 16.60,0a8.30,8.30 0 1,0 -16.60,0M1344.92,500.93a8.30,8.30 0 1,0 16.60,0a8.30,8.30 0 1,0 -16.60,0M1345.54,501.23a8.30,8.30 0 1,0 16.60,0a8.30,8.30 0 1,0 -16.60,0M1346.16,501.53a8.30,8.30 0 1,0 16.60,0a8.30,8.30 0 1,0 -16.60,0M1346.78,501.83a8.30,8.30 0 1,0 16.60,0a8.30,8.30 0 1,0 -16.60,0M1347.40,502.12a8.30,8.30 0 1,0 16.60,0a8.30,8.30 0 1,0 -16.60,0M1348.01,502.42a8.30,8.30 0 1,0 16.60,0a8.30,8.30 0 1,0 -16.60,0M1348.62,502.72a8.30,8.30 0 1,0 16.60,0a8.30,8.30 0 1,0 -16.60,0M1349.23,503.01a8.30,8.30 0 1,0 16.60,0a8.30,8.30 0 1,0 -16.60,0M1349.84,503.31a8.30,8.30 0 1,0 16.60,0a8.30,8.30 0 1,0 -16.60,0M1350.45,503.60a8.30,8.30 0 1,0 16.60,0a8.30,8.30 0 1,0 -16.60,0M1351.05,503.89a8.30,8.30 0 1,0 16.60,0a8.30,8.30 0 1,0 -16.60,0M1351.65,504.18a8.30,8.30 0 1,0 16.60,0a8.30,8.30 0 1,0 -16.60,0M1352.25,504.47a8.30,8.30 0 1,0 16.60,0a8.30,8.30 0 1,0 -16.60,0M1352.85,504.77a8.30,8.30 0 1,0 16.60,0a8.30,8.30 0 1,0 -16.60,0M1353.45,505.06a8.30,8.30 0 1,0 16.60,0a8.30,8.30 0 1,0 -16.60,0M1354.04,505.34a8.30,8.30 0 1,0 16.60,0a8.30,8.30 0 1,0 -16.60,0M1354.63,505.63a8.30,8.30 0 1,0 16.60,0a8.30,8.30 0 1,0 -16.60,0M1355.22,505.92a8.30,8.30 0 1,0 16.60,0a8.30,8.30 0 1,0 -16.60,0M1355.81,506.21a8.30,8.30 0 1,0 16.60,0a8.30,8.30 0 1,0 -16.60,0M1356.39,506.49a8.30,8.30 0 1,0 16.60,0a8.30,8.30 0 1,0 -16.60,0M1356.98,506.78a8.30,8.30 0 1,0 16.60,0a8.30,8.30 0 1,0 -16.60,0M1357.56,507.06a8.30,8.30 0 1,0 16.60,0a8.30,8.30 0 1,0 -16.60,0M1358.14,507.35a8.30,8.30 0 1,0 16.60,0a8.30,8.30 0 1,0 -16.60,0M1358.71,507.63a8.30,8.30 0 1,0 16.60,0a8.30,8.30 0 1,0 -16.60,0M1359.29,507.91a8.30,8.30 0 1,0 16.60,0a8.30,8.30 0 1,0 -16.60,0M1359.86,508.20a8.30,8.30 0 1,0 16.60,0a8.30,8.30 0 1,0 -16.60,0M1360.43,508.48a8.30,8.30 0 1,0 16.60,0a8.30,8.30 0 1,0 -16.60,0M1361.00,508.76a8.30,8.30 0 1,0 16.60,0a8.30,8.30 0 1,0 -16.60,0M1361.57,509.04a8.30,8.30 0 1,0 16.60,0a8.30,8.30 0 1,0 -16.60,0M1362.14,509.32a8.30,8.30 0 1,0 16.60,0a8.30,8.30 0 1,0 -16.60,0M1362.70,509.60a8.30,8.30 0 1,0 16.60,0a8.30,8.30 0 1,0 -16.60,0M1363.27,509.87a8.30,8.30 0 1,0 16.60,0a8.30,8.30 0 1,0 -16.60,0M1363.83,510.15a8.30,8.30 0 1,0 16.60,0a8.30,8.30 0 1,0 -16.60,0M1364.38,510.43a8.30,8.30 0 1,0 16.60,0a8.30,8.30 0 1,0 -16.60,0M1364.94,510.70a8.30,8.30 0 1,0 16.60,0a8.30,8.30 0 1,0 -16.60,0M1365.50,510.98a8.30,8.30 0 1,0 16.60,0a8.30,8.30 0 1,0 -16.60,0M1366.05,511.26a8.30,8.30 0 1,0 16.60,0a8.30,8.30 0 1,0 -16.60,0M1366.60,511.53a8.30,8.30 0 1,0 16.60,0a8.30,8.30 0 1,0 -16.60,0M1367.15,511.80a8.30,8.30 0 1,0 16.60,0a8.30,8.30 0 1,0 -16.60,0M1367.70,512.08a8.30,8.30 0 1,0 16.60,0a8.30,8.30 0 1,0 -16.60,0M1368.25,512.35a8.30,8.30 0 1,0 16.60,0a8.30,8.30 0 1,0 -16.60,0M1368.79,512.62a8.30,8.30 0 1,0 16.60,0a8.30,8.30 0 1,0 -16.60,0M1369.33,512.89a8.30,8.30 0 1,0 16.60,0a8.30,8.30 0 1,0 -16.60,0M1369.88,513.16a8.30,8.30 0 1,0 16.60,0a8.30,8.30 0 1,0 -16.60,0M1370.42,513.43a8.30,8.30 0 1,0 16.60,0a8.30,8.30 0 1,0 -16.60,0M1370.95,513.70a8.30,8.30 0 1,0 16.60,0a8.30,8.30 0 1,0 -16.60,0M1371.49,513.97a8.30,8.30 0 1,0 16.60,0a8.30,8.30 0 1,0 -16.60,0M1372.02,514.24a8.30,8.30 0 1,0 16.60,0a8.30,8.30 0 1,0 -16.60,0M1372.56,514.51a8.30,8.30 0 1,0 16.60,0a8.30,8.30 0 1,0 -16.60,0M1373.09,514.78a8.30,8.30 0 1,0 16.60,0a8.30,8.30 0 1,0 -16.60,0M1373.62,515.04a8.30,8.30 0 1,0 16.60,0a8.30,8.30 0 1,0 -16.60,0M1374.15,515.31a8.30,8.30 0 1,0 16.60,0a8.30,8.30 0 1,0 -16.60,0M1374.67,515.57a8.30,8.30 0 1,0 16.60,0a8.30,8.30 0 1,0 -16.60,0M1375.20,515.84a8.30,8.30 0 1,0 16.60,0a8.30,8.30 0 1,0 -16.60,0M1375.72,516.10a8.30,8.30 0 1,0 16.60,0a8.30,8.30 0 1,0 -16.60,0M1376.24,516.37a8.30,8.30 0 1,0 16.60,0a8.30,8.30 0 1,0 -16.60,0M1376.76,516.63a8.30,8.30 0 1,0 16.60,0a8.30,8.30 0 1,0 -16.60,0M1377.28,516.89a8.30,8.30 0 1,0 16.60,0a8.30,8.30 0 1,0 -16.60,0M1377.80,517.15a8.30,8.30 0 1,0 16.60,0a8.30,8.30 0 1,0 -16.60,0M1378.31,517.42a8.30,8.30 0 1,0 16.60,0a8.30,8.30 0 1,0 -16.60,0M1378.83,517.68a8.30,8.30 0 1,0 16.60,0a8.30,8.30 0 1,0 -16.60,0M1379.34,517.94a8.30,8.30 0 1,0 16.60,0a8.30,8.30 0 1,0 -16.60,0M1379.85,518.20a8.30,8.30 0 1,0 16.60,0a8.30,8.30 0 1,0 -16.60,0M1380.36,518.46a8.30,8.30 0 1,0 16.60,0a8.30,8.30 0 1,0 -16.60,0M1380.87,518.72a8.30,8.30 0 1,0 16.60,0a8.30,8.30 0 1,0 -16.60,0M1381.37,518.97a8.30,8.30 0 1,0 16.60,0a8.30,8.30 0 1,0 -16.60,0M1381.88,519.23a8.30,8.30 0 1,0 16.60,0a8.30,8.30 0 1,0 -16.60,0M1382.38,519.49a8.30,8.30 0 1,0 16.60,0a8.30,8.30 0 1,0 -16.60,0M1382.88,519.75a8.30,8.30 0 1,0 16.60,0a8.30,8.30 0 1,0 -16.60,0M1383.38,520.00a8.30,8.30 0 1,0 16.60,0a8.30,8.30 0 1,0 -16.60,0M1383.88,520.26a8.30,8.30 0 1,0 16.60,0a8.30,8.30 0 1,0 -16.60,0M1384.38,520.51a8.30,8.30 0 1,0 16.60,0a8.30,8.30 0 1,0 -16.60,0M1384.88,520.77a8.30,8.30 0 1,0 16.60,0a8.30,8.30 0 1,0 -16.60,0M1385.37,521.02a8.30,8.30 0 1,0 16.60,0a8.30,8.30 0 1,0 -16.60,0M1385.86,521.28a8.30,8.30 0 1,0 16.60,0a8.30,8.30 0 1,0 -16.60,0M1386.36,521.53a8.30,8.30 0 1,0 16.60,0a8.30,8.30 0 1,0 -16.60,0M1386.85,521.78a8.30,8.30 0 1,0 16.60,0a8.30,8.30 0 1,0 -16.60,0M1387.34,522.03a8.30,8.30 0 1,0 16.60,0a8.30,8.30 0 1,0 -16.60,0M1387.82,522.29a8.30,8.30 0 1,0 16.60,0a8.30,8.30 0 1,0 -16.60,0M1388.31,522.54a8.30,8.30 0 1,0 16.60,0a8.30,8.30 0 1,0 -16.60,0M1388.79,522.79a8.30,8.30 0 1,0 16.60,0a8.30,8.30 0 1,0 -16.60,0M1389.28,523.04a8.30,8.30 0 1,0 16.60,0a8.30,8.30 0 1,0 -16.60,0M1389.76,523.29a8.30,8.30 0 1,0 16.60,0a8.30,8.30 0 1,0 -16.60,0M1390.24,523.54a8.30,8.30 0 1,0 16.60,0a8.30,8.30 0 1,0 -16.60,0M1390.72,523.79a8.30,8.30 0 1,0 16.60,0a8.30,8.30 0 1,0 -16.60,0M1391.20,524.03a8.30,8.30 0 1,0 16.60,0a8.30,8.30 0 1,0 -16.60,0M1391.68,524.28a8.30,8.30 0 1,0 16.60,0a8.30,8.30 0 1,0 -16.60,0M1392.15,524.53a8.30,8.30 0 1,0 16.60,0a8.30,8.30 0 1,0 -16.60,0M1392.63,524.78a8.30,8.30 0 1,0 16.60,0a8.30,8.30 0 1,0 -16.60,0M1393.10,525.02a8.30,8.30 0 1,0 16.60,0a8.30,8.30 0 1,0 -16.60,0M1393.57,525.27a8.30,8.30 0 1,0 16.60,0a8.30,8.30 0 1,0 -16.60,0M1394.04,525.51a8.30,8.30 0 1,0 16.60,0a8.30,8.30 0 1,0 -16.60,0M1394.51,525.76a8.30,8.30 0 1,0 16.60,0a8.30,8.30 0 1,0 -16.60,0M1394.98,526.00a8.30,8.30 0 1,0 16.60,0a8.30,8.30 0 1,0 -16.60,0M1395.44,526.25a8.30,8.30 0 1,0 16.60,0a8.30,8.30 0 1,0 -16.60,0M1395.91,526.49a8.30,8.30 0 1,0 16.60,0a8.30,8.30 0 1,0 -16.60,0M1396.37,526.74a8.30,8.30 0 1,0 16.60,0a8.30,8.30 0 1,0 -16.60,0M1396.84,526.98a8.30,8.30 0 1,0 16.60,0a8.30,8.30 0 1,0 -16.60,0M1397.30,527.22a8.30,8.30 0 1,0 16.60,0a8.30,8.30 0 1,0 -16.60,0M1397.76,527.46a8.30,8.30 0 1,0 16.60,0a8.30,8.30 0 1,0 -16.60,0M1398.22,527.70a8.30,8.30 0 1,0 16.60,0a8.30,8.30 0 1,0 -16.60,0M1398.68,527.95a8.30,8.30 0 1,0 16.60,0a8.30,8.30 0 1,0 -16.60,0M1399.13,528.19a8.30,8.30 0 1,0 16.60,0a8.30,8.30 0 1,0 -16.60,0M1399.59,528.43a8.30,8.30 0 1,0 16.60,0a8.30,8.30 0 1,0 -16.60,0M1400.04,528.67a8.30,8.30 0 1,0 16.60,0a8.30,8.30 0 1,0 -16.60,0M1400.50,528.91a8.30,8.30 0 1,0 16.60,0a8.30,8.30 0 1,0 -16.60,0M1400.95,529.14a8.30,8.30 0 1,0 16.60,0a8.30,8.30 0 1,0 -16.60,0M1401.40,529.38a8.30,8.30 0 1,0 16.60,0a8.30,8.30 0 1,0 -16.60,0M1401.85,529.62a8.30,8.30 0 1,0 16.60,0a8.30,8.30 0 1,0 -16.60,0M1402.30,529.86a8.30,8.30 0 1,0 16.60,0a8.30,8.30 0 1,0 -16.60,0M1402.74,530.10a8.30,8.30 0 1,0 16.60,0a8.30,8.30 0 1,0 -16.60,0M1403.19,530.33a8.30,8.30 0 1,0 16.60,0a8.30,8.30 0 1,0 -16.60,0M1403.63,530.57a8.30,8.30 0 1,0 16.60,0a8.30,8.30 0 1,0 -16.60,0M1404.08,530.81a8.30,8.30 0 1,0 16.60,0a8.30,8.30 0 1,0 -16.60,0M1404.52,531.04a8.30,8.30 0 1,0 16.60,0a8.30,8.30 0 1,0 -16.60,0M1404.96,531.28a8.30,8.30 0 1,0 16.60,0a8.30,8.30 0 1,0 -16.60,0M1405.40,531.51a8.30,8.30 0 1,0 16.60,0a8.30,8.30 0 1,0 -16.60,0M1405.84,531.75a8.30,8.30 0 1,0 16.60,0a8.30,8.30 0 1,0 -16.60,0M1406.28,531.98a8.30,8.30 0 1,0 16.60,0a8.30,8.30 0 1,0 -16.60,0M1406.72,532.21a8.30,8.30 0 1,0 16.60,0a8.30,8.30 0 1,0 -16.60,0M1407.15,532.45a8.30,8.30 0 1,0 16.60,0a8.30,8.30 0 1,0 -16.60,0M1407.59,532.68a8.30,8.30 0 1,0 16.60,0a8.30,8.30 0 1,0 -16.60,0M1408.02,532.91a8.30,8.30 0 1,0 16.60,0a8.30,8.30 0 1,0 -16.60,0M1408.45,533.14a8.30,8.30 0 1,0 16.60,0a8.30,8.30 0 1,0 -16.60,0M1425.24,541.98a8.30,8.30 0 1,0 16.60,0a8.30,8.30 0 1,0 -16.60,0M1440.25,548.22a8.30,8.30 0 1,0 16.60,0a8.30,8.30 0 1,0 -16.60,0M1454.06,554.62a8.30,8.30 0 1,0 16.60,0a8.30,8.30 0 1,0 -16.60,0M1466.84,560.94a8.30,8.30 0 1,0 16.60,0a8.30,8.30 0 1,0 -16.60,0M1478.74,565.58a8.30,8.30 0 1,0 16.60,0a8.30,8.30 0 1,0 -16.60,0M1489.88,569.75a8.30,8.30 0 1,0 16.60,0a8.30,8.30 0 1,0 -16.60,0M1500.33,574.23a8.30,8.30 0 1,0 16.60,0a8.30,8.30 0 1,0 -16.60,0M1510.19,578.74a8.30,8.30 0 1,0 16.60,0a8.30,8.30 0 1,0 -16.60,0M1519.52,583.17a8.30,8.30 0 1,0 16.60,0a8.30,8.30 0 1,0 -16.60,0M1528.37,587.42a8.30,8.30 0 1,0 16.60,0a8.30,8.30 0 1,0 -16.60,0M1536.79,591.46a8.30,8.30 0 1,0 16.60,0a8.30,8.30 0 1,0 -16.60,0M1544.81,595.24a8.30,8.30 0 1,0 16.60,0a8.30,8.30 0 1,0 -16.60,0M1552.48,598.76a8.30,8.30 0 1,0 16.60,0a8.30,8.30 0 1,0 -16.60,0M1559.82,602.10a8.30,8.30 0 1,0 16.60,0a8.30,8.30 0 1,0 -16.60,0M1566.86,605.31a8.30,8.30 0 1,0 16.60,0a8.30,8.30 0 1,0 -16.60,0M1573.63,608.40a8.30,8.30 0 1,0 16.60,0a8.30,8.30 0 1,0 -16.60,0M1580.14,611.43a8.30,8.30 0 1,0 16.60,0a8.30,8.30 0 1,0 -16.60,0M1586.41,614.42a8.30,8.30 0 1,0 16.60,0a8.30,8.30 0 1,0 -16.60,0M1592.46,617.38a8.30,8.30 0 1,0 16.60,0a8.30,8.30 0 1,0 -16.60,0M1598.31,620.24a8.30,8.30 0 1,0 16.60,0a8.30,8.30 0 1,0 -16.60,0M1603.97,623.00a8.30,8.30 0 1,0 16.60,0a8.30,8.30 0 1,0 -16.60,0M1609.45,625.68a8.30,8.30 0 1,0 16.60,0a8.30,8.30 0 1,0 -16.60,0M1614.75,628.33a8.30,8.30 0 1,0 16.60,0a8.30,8.30 0 1,0 -16.60,0M1619.90,630.97a8.30,8.30 0 1,0 16.60,0a8.30,8.30 0 1,0 -16.60,0M1624.90,633.63a8.30,8.30 0 1,0 16.60,0a8.30,8.30 0 1,0 -16.60,0M1629.76,636.31a8.30,8.30 0 1,0 16.60,0a8.30,8.30 0 1,0 -16.60,0M1634.40,639.05a8.39,8.39 0 1,0 16.79,0a8.39,8.39 0 1,0 -16.79,0M1638.84,641.85a8.55,8.55 0 1,0 17.09,0a8.55,8.55 0 1,0 -17.09,0M1643.18,644.73a8.70,8.70 0 1,0 17.39,0a8.70,8.70 0 1,0 -17.39,0M1647.40,647.82a8.84,8.84 0 1,0 17.68,0a8.84,8.84 0 1,0 -17.68,0M1651.51,651.08a8.98,8.98 0 1,0 17.97,0a8.98,8.98 0 1,0 -17.97,0M1655.53,654.42a9.12,9.12 0 1,0 18.24,0a9.12,9.12 0 1,0 -18.24,0M1659.46,657.81a9.26,9.26 0 1,0 18.51,0a9.26,9.26 0 1,0 -18.51,0M1663.29,661.19a9.39,9.39 0 1,0 18.78,0a9.39,9.39 0 1,0 -18.78,0M1667.04,664.51a9.52,9.52 0 1,0 19.04,0a9.52,9.52 0 1,0 -19.04,0M1670.70,667.74a9.64,9.64 0 1,0 19.29,0a9.64,9.64 0 1,0 -19.29,0M1674.29,670.84a9.77,9.77 0 1,0 19.54,0a9.77,9.77 0 1,0 -19.54,0M1677.80,673.79a9.89,9.89 0 1,0 19.78,0a9.89,9.89 0 1,0 -19.78,0M1681.24,676.56a10.01,10.01 0 1,0 20.02,0a10.01,10.01 0 1,0 -20.02,0M1684.61,679.17a10.12,10.12 0 1,0 20.25,0a10.12,10.12 0 1,0 -20.25,0M1687.91,681.66a10.24,10.24 0 1,0 20.48,0a10.24,10.24 0 1,0 -20.48,0M1691.21,684.06a10.29,10.29 0 1,0 20.58,0a10.29,10.29 0 1,0 -20.58,0M1694.51,686.38a10.27,10.27 0 1,0 20.55,0a10.27,10.27 0 1,0 -20.55,0M1697.75,688.65a10.25,10.25 0 1,0 20.51,0a10.25,10.25 0 1,0 -20.51,0M1700.94,690.90a10.24,10.24 0 1,0 20.47,0a10.24,10.24 0 1,0 -20.47,0M1704.06,693.13a10.22,10.22 0 1,0 20.44,0a10.22,10.22 0 1,0 -20.44,0M1707.13,695.36a10.20,10.20 0 1,0 20.40,0a10.20,10.20 0 1,0 -20.40,0M1710.15,697.61a10.18,10.18 0 1,0 20.37,0a10.18,10.18 0 1,0 -20.37,0M1713.12,699.89a10.17,10.17 0 1,0 20.33,0a10.17,10.17 0 1,0 -20.33,0M1716.03,702.20a10.15,10.15 0 1,0 20.30,0a10.15,10.15 0 1,0 -20.30,0M1718.90,704.57a10.13,10.13 0 1,0 20.27,0a10.13,10.13 0 1,0 -20.27,0M1721.72,707.00a10.12,10.12 0 1,0 20.24,0a10.12,10.12 0 1,0 -20.24,0M1724.50,709.48a10.10,10.10 0 1,0 20.20,0a10.10,10.10 0 1,0 -20.20,0M1727.23,712.00a10.09,10.09 0 1,0 20.17,0a10.09,10.09 0 1,0 -20.17,0M1729.92,714.55a10.07,10.07 0 1,0 20.14,0a10.07,10.07 0 1,0 -20.14,0M1732.57,717.13a10.06,10.06 0 1,0 20.11,0a10.06,10.06 0 1,0 -20.11,0M1735.18,719.72a10.04,10.04 0 1,0 20.08,0a10.04,10.04 0 1,0 -20.08,0M1737.75,722.33a10.03,10.03 0 1,0 20.05,0a10.03,10.03 0 1,0 -20.05,0M1740.28,724.93a10.01,10.01 0 1,0 20.03,0a10.01,10.01 0 1,0 -20.03,0M1742.77,727.53a10.00,10.00 0 1,0 20.00,0a10.00,10.00 0 1,0 -20.00,0M1745.24,730.13a9.98,9.98 0 1,0 19.97,0a9.98,9.98 0 1,0 -19.97,0M1747.66,732.71a9.97,9.97 0 1,0 19.94,0a9.97,9.97 0 1,0 -19.94,0M1750.05,735.27a9.96,9.96 0 1,0 19.91,0a9.96,9.96 0 1,0 -19.91,0M1752.42,737.80a9.94,9.94 0 1,0 19.89,0a9.94,9.94 0 1,0 -19.89,0M1754.74,740.32a9.93,9.93 0 1,0 19.86,0a9.93,9.93 0 1,0 -19.86,0M1757.04,742.80a9.92,9.92 0 1,0 19.83,0a9.92,9.92 0 1,0 -19.83,0M1759.31,745.25a9.90,9.90 0 1,0 19.81,0a9.90,9.90 0 1,0 -19.81,0M1761.60,747.65a9.84,9.84 0 1,0 19.68,0a9.84,9.84 0 1,0 -19.68,0M1763.89,749.99a9.74,9.74 0 1,0 19.49,0a9.74,9.74 0 1,0 -19.49,0M1766.16,752.29a9.65,9.65 0 1,0 19.30,0a9.65,9.65 0 1,0 -19.30,0M1768.39,754.56a9.56,9.56 0 1,0 19.12,0a9.56,9.56 0 1,0 -19.12,0M1770.60,756.81a9.47,9.47 0 1,0 18.94,0a9.47,9.47 0 1,0 -18.94,0M1772.78,759.07a9.38,9.38 0 1,0 18.76,0a9.38,9.38 0 1,0 -18.76,0M1774.93,761.36a9.29,9.29 0 1,0 18.58,0a9.29,9.29 0 1,0 -18.58,0M1777.06,763.67a9.20,9.20 0 1,0 18.41,0a9.20,9.20 0 1,0 -18.41,0M1779.17,766.04a9.12,9.12 0 1,0 18.23,0a9.12,9.12 0 1,0 -18.23,0M1781.25,768.46a9.03,9.03 0 1,0 18.06,0a9.03,9.03 0 1,0 -18.06,0M1783.30,770.95a8.95,8.95 0 1,0 17.89,0a8.95,8.95 0 1,0 -17.89,0M1785.33,773.52a8.86,8.86 0 1,0 17.73,0a8.86,8.86 0 1,0 -17.73,0M1787.34,776.18a8.78,8.78 0 1,0 17.56,0a8.78,8.78 0 1,0 -17.56,0M1789.33,778.94a8.70,8.70 0 1,0 17.40,0a8.70,8.70 0 1,0 -17.40,0M1791.24,781.86a8.68,8.68 0 1,0 17.35,0a8.68,8.68 0 1,0 -17.35,0M1793.13,784.96a8.66,8.66 0 1,0 17.31,0a8.66,8.66 0 1,0 -17.31,0M1794.99,788.30a8.63,8.63 0 1,0 17.27,0a8.63,8.63 0 1,0 -17.27,0M1796.84,791.90a8.61,8.61 0 1,0 17.22,0a8.61,8.61 0 1,0 -17.22,0M1798.67,795.87a8.59,8.59 0 1,0 17.18,0a8.59,8.59 0 1,0 -17.18,0M1800.48,800.42a8.57,8.57 0 1,0 17.14,0a8.57,8.57 0 1,0 -17.14,0M1802.27,805.70a8.55,8.55 0 1,0 17.10,0a8.55,8.55 0 1,0 -17.10,0M1804.04,812.28a8.53,8.53 0 1,0 17.06,0a8.53,8.53 0 1,0 -17.06,0M1805.79,820.00a8.51,8.51 0 1,0 17.02,0a8.51,8.51 0 1,0 -17.02,0M1838.20,872.50a8.30,8.30 0 1,0 16.60,0a8.30,8.30 0 1,0 -16.60,0M1864.60,929.20a8.30,8.30 0 1,0 16.60,0a8.30,8.30 0 1,0 -16.60,0M1887.80,993.30a8.30,8.30 0 1,0 16.60,0a8.30,8.30 0 1,0 -16.60,0M1908.10,1072.30a8.30,8.30 0 1,0 16.60,0a8.30,8.30 0 1,0 -16.60,0" fill="#0000ff"/>
<path d="M413.71,1325.70a8.30,8.30 0 1,0 16.60,0a8.30,8.30 0 1,0 -16.60,0M518.27,1327.40a8.30,8.30 0 1,0 16.60,0a8.30,8.30 0 1,0 -16.60,0M582.91,1334.10a8.30,8.30 0 1,0 16.60,0a8.30,8.30 0 1,0 -16.60,0M629.82,1347.10a8.30,8.30 0 1,0 16.60,0a8.30,8.30 0 1,0 -16.60,0M666.66,1362.80a8.30,8.30 0 1,0 16.60,0a8.30,8.30 0 1,0 -16.60,0M697.00,1379.50a8.30,8.30 0 1,0 16.60,0a8.30,8.30 0 1,0 -16.60,0M722.79,1396.90a8.30,8.30 0 1,0 16.60,0a8.30,8.30 0 1,0 -16.60,0M745.23,1413.60a8.30,8.30 0 1,0 16.60,0a8.30,8.30 0 1,0 -16.60,0M765.08,1429.30a8.30,8.30 0 1,0 16.60,0a8.30,8.30 0 1,0 -16.60,0M782.88,1443.70a8.30,8.30 0 1,0 16.60,0a8.30,8.30 0 1,0 -16.60,0M799.01,1457.10a8.30,8.30 0 1,0 16.60,0a8.30,8.30 0 1,0 -16.60,0M813.76,1469.50a8.30,8.30 0 1,0 16.60,0a8.30,8.30 0 1,0 -16.60,0M827.35,1480.50a8.30,8.30 0 1,0 16.60,0a8.30,8.30 0 1,0 -16.60,0M839.95,1490.42a8.30,8.30 0 1,0 16.60,0a8.30,8.30 0 1,0 -16.60,0M851.69,1498.22a8.30,8.30 0 1,0 16.60,0a8.30,8.30 0 1,0 -16.60,0M862.68,1506.27a8.30,8.30 0 1,0 16.60,0a8.30,8.30 0 1,0 -16.60,0M873.01,1513.61a8.30,8.30 0 1,0 16.60,0a8.30,8.30 0 1,0 -16.60,0M882.76,1520.31a8.30,8.30 0 1,0 16.60,0a8.30,8.30 0 1,0 -16.60,0M891.99,1526.43a8.30,8.30 0 1,0 16.60,0a8.30,8.30 0 1,0 -16.60,0M900.75,1532.07a8.30,8.30 0 1,0 16.60,0a8.30,8.30 0 1,0 -16.60,0M909.08,1537.27a8.30,8.30 0 1,0 16.60,0a8.30,8.30 0 1,0 -16.60,0M917.03,1542.09a8.30,8.30 0 1,0 16.60,0a8.30,8.30 0 1,0 -16.60,0M924.63,1546.58a8.30,8.30 0 1,0 16.60,0a8.30,8.30 0 1,0 -16.60,0M931.91,1550.78a8.30,8.30 0 1,0 16.60,0a8.30,8.30 0 1,0 -16.60,0M938.90,1554.70a8.30,8.30 0 1,0 16.60,0a8.30,8.30 0 1,0 -16.60,0M945.61,1558.40a8.30,8.30 0 1,0 16.60,0a8.30,8.30 0 1,0 -16.60,0M952.07,1561.87a8.30,8.30 0 1,0 16.60,0a8.30,8.30 0 1,0 -16.60,0M958.30,1565.16a8.30,8.30 0 1,0 16.60,0a8.30,8.30 0 1,0 -16.60,0M964.31,1568.27a8.30,8.30 0 1,0 16.60,0a8.30,8.30 0 1,0 -16.60,0M970.12,1571.22a8.30,8.30 0 1,0 16.60,0a8.30,8.30 0 1,0 -16.60,0M975.74,1574.03a8.30,8.30 0 1,0 16.60,0a8.30,8.30 0 1,0 -16.60,0M981.18,1576.70a8.30,8.30 0 1,0 16.60,0a8.30,8.30 0 1,0 -16.60,0M986.46,1579.25a8.30,8.30 0 1,0 16.60,0a8.30,8.30 0 1,0 -16.60,0M991.58,1581.69a8.30,8.30 0 1,0 16.60,0a8.30,8.30 0 1,0 -16.60,0M996.55,1584.04a8.30,8.30 0 1,0 16.60,0a8.30,8.30 0 1,0 -16.60,0M1001.38,1586.30a8.30,8.30 0 1,0 16.60,0a8.30,8.30 0 1,0 -16.60,0M1006.08,1588.46a8.30,8.30 0 1,0 16.60,0a8.30,8.30 0 1,0 -16.60,0M1010.66,1590.55a8.30,8.30 0 1,0 16.60,0a8.30,8.30 0 1,0 -16.60,0M1015.11,1592.55a8.30,8.30 0 1,0 16.60,0a8.30,8.30 0 1,0 -16.60,0M1019.46,1594.49a8.30,8.30 0 1,0 16.60,0a8.30,8.30 0 1,0 -16.60,0M1023.70,1596.36a8.30,8.30 0 1,0 16.60,0a8.30,8.30 0 1,0 -16.60,0M1027.84,1598.17a8.30,8.30 0 1,0 16.60,0a8.30,8.30 0 1,0 -16.60,0M1031.88,1599.92a8.30,8.30 0 1,0 16.60,0a8.30,8.30 0 1,0 -16.60,0M1035.82,1601.62a8.30,8.30 0 1,0 16.60,0a8.30,8.30 0 1,0 -16.60,0M1039.68,1603.26a8.30,8.30 0 1,0 16.60,0a8.30,8.30 0 1,0 -16.60,0M1043.46,1604.86a8.30,8.30 0 1,0 16.60,0a8.30,8.30 0 1,0 -16.60,0M1047.15,1606.41a8.30,8.30 0 1,0 16.60,0a8.30,8.30 0 1,0 -16.60,0M1050.77,1607.92a8.30,8.30 0 1,0 16.60,0a8.30,8.30 0 1,0 -16.60,0M1054.31,1609.39a8.30,8.30 0 1,0 16.60,0a8.30,8.30 0 1,0 -16.60,0M1057.78,1610.83a8.30,8.30 0 1,0 16.60,0a8.30,8.30 0 1,0 -16.60,0M1061.18,1612.22a8.30,8.30 0 1,0 16.60,0a8.30,8.30 0 1,0 -16.60,0M1064.52,1613.59a8.30,8.30 0 1,0 16.60,0a8.30,8.30 0 1,0 -16.60,0M1067.79,1614.92a8.30,8.30 0 1,0 16.60,0a8.30,8.30 0 1,0 -16.60,0M1071.01,1616.22a8.30,8.30 0 1,0 16.60,0a8.30,8.30 0 1,0 -16.60,0M1074.16,1617.49a8.30,8.30 0 1,0 16.60,0a8.30,8.30 0 1,0 -16.60,0M1077.26,1618.73a8.30,8.30 0 1,0 16.60,0a8.30,8.30 0 1,0 -16.60,0M1080.30,1619.95a8.30,8.30 0 1,0 16.60,0a8.30,8.30 0 1,0 -16.60,0M1083.29,1621.14a8.30,8.30 0 1,0 16.60,0a8.30,8.30 0 1,0 -16.60,0M1086.23,1622.31a8.30,8.30 0 1,0 16.60,0a8.30,8.30 0 1,0 -16.60,0M1089.12,1623.46a8.30,8.30 0 1,0 16.60,0a8.30,8.30 0 1,0 -16.60,0M1091.96,1624.59a8.30,8.30 0 1,0 16.60,0a8.30,8.30 0 1,0 -16.60,0M1094.76,1625.69a8.30,8.30 0 1,0 16.60,0a8.30,8.30 0 1,0 -16.60,0M1097.51,1626.78a8.30,8.30 0 1,0 16.60,0a8.30,8.30 0 1,0 -16.60,0M1100.21,1627.84a8.30,8.30 0 1,0 16.60,0a8.30,8.30 0 1,0 -16.60,0M1102.88,1628.89a8.30,8.30 0 1,0 16.60,0a8.30,8.30 0 1,0 -16.60,0M1105.51,1629.92a8.30,8.30 0 1,0 16.60,0a8.30,8.30 0 1,0 -16.60,0M1108.09,1630.94a8.30,8.30 0 1,0 16.60,0a8.30,8.30 0 1,0 -16.60,0M1110.64,1631.94a8.30,8.30 0 1,0 16.60,0a8.30,8.30 0 1,0 -16.60,0M1113.15,1632.92a8.30,8.30 0 1,0 16.60,0a8.30,8.30 0 1,0 -16.60,0M1115.63,1633.89a8.30,8.30 0 1,0 16.60,0a8.30,8.30 0 1,0 -16.60,0M1118.07,1634.84a8.30,8.30 0 1,0 16.60,0a8.30,8.30 0 1,0 -16.60,0M1120.47,1635.78a8.30,8.30 0 1,0 16.60,0a8.30,8.30 0 1,0 -16.60,0M1122.85,1636.71a8.30,8.30 0 1,0 16.60,0a8.30,8.30 0 1,0 -16.60,0M1125.19,1637.63a8.30,8.30 0 1,0 16.60,0a8.30,8.30 0 1,0 -16.60,0M1127.50,1638.53a8.30,8.30 0 1,0 16.60,0a8.30,8.30 0 1,0 -16.60,0M1129.77,1639.42a8.30,8.30 0 1,0 16.60,0a8.30,8.30 0 1,0 -16.60,0M1132.02,1640.30a8.30,8.30 0 1,0 16.60,0a8.30,8.30 0 1,0 -16.60,0M1134.24,1641.17a8.30,8.30 0 1,0 16.60,0a8.30,8.30 0 1,0 -16.60,0M1136.44,1642.03a8.30,8.30 0 1,0 16.60,0a8.30,8.30 0 1,0 -16.60,0M1138.60,1642.88a8.30,8.30 0 1,0 16.60,0a8.30,8.30 0 1,0 -16.60,0M1140.74,1643.72a8.30,8.30 0 1,0 16.60,0a8.30,8.30 0 1,0 -16.60,0M1142.85,1644.55a8.30,8.30 0 1,0 16.60,0a8.30,8.30 0 1,0 -16.60,0M1144.93,1645.38a8.30,8.30 0 1,0 16.60,0a8.30,8.30 0 1,0 -16.60,0M1147.00,1646.19a8.30,8.30 0 1,0 16.60,0a8.30,8.30 0 1,0 -16.60,0M1149.03,1646.99a8.30,8.30 0 1,0 16.60,0a8.30,8.30 0 1,0 -16.60,0M1151.05,1647.79a8.30,8.30 0 1,0 16.60,0a8.30,8.30 0 1,0 -16.60,0M1153.03,1648.58a8.30,8.30 0 1,0 16.60,0a8.30,8.30 0 1,0 -16.60,0M1155.00,1649.36a8.30,8.30 0 1,0 16.60,0a8.30,8.30 0 1,0 -16.60,0M1156.95,1650.13a8.30,8.30 0 1,0 16.60,0a8.30,8.30 0 1,0 -16.60,0M1158.87,1650.89a8.30,8.30 0 1,0 16.60,0a8.30,8.30 0 1,0 -16.60,0M1160.77,1651.65a8.30,8.30 0 1,0 16.60,0a8.30,8.30 0 1,0 -16.60,0M1162.65,1652.40a8.30,8.30 0 1,0 16.60,0a8.30,8.30 0 1,0 -16.60,0M1164.51,1653.15a8.30,8.30 0 1,0 16.60,0a8.30,8.30 0 1,0 -16.60,0M1166.35,1653.88a8.30,8.30 0 1,0 16.60,0a8.30,8.30 0 1,0 -16.60,0M1168.18,1654.62a8.30,8.30 0 1,0 16.60,0a8.30,8.30 0 1,0 -16.60,0M1169.98,1655.34a8.30,8.30 0 1,0 16.60,0a8.30,8.30 0 1,0 -16.60,0M1171.76,1656.06a8.30,8.30 0 1,0 16.60,0a8.30,8.30 0 1,0 -16.60,0M1173.53,1656.77a8.30,8.30 0 1,0 16.60,0a8.30,8.30 0 1,0 -16.60,0M1175.28,1657.48a8.30,8.30 0 1,0 16.60,0a8.30,8.30 0 1,0 -16.60,0M1177.01,1658.18a8.30,8.30 0 1,0 16.60,0a8.30,8.30 0 1,0 -16.60,0M1178.72,1658.87a8.30,8.30 0 1,0 16.60,0a8.30,8.30 0 1,0 -16.60,0M1180.42,1659.56a8.30,8.30 0 1,0 16.60,0a8.30,8.30 0 1,0 -16.60,0M1182.10,1660.24a8.30,8.30 0 1,0 16.60,0a8.30,8.30 0 1,0 -16.60,0M1183.76,1660.91a8.30,8.30 0 1,0 16.60,0a8.30,8.30 0 1,0 -16.60,0M1185.41,1661.59a8.30,8.30 0 1,0 16.60,0a8.30,8.30 0 1,0 -16.60,0M1187.04,1662.25a8.30,8.30 0 1,0 16.60,0a8.30,8.30 0 1,0 -16.60,0M1188.66,1662.91a8.30,8.30 0 1,0 16.60,0a8.30,8.30 0 1,0 -16.60,0M1190.26,1663.56a8.30,8.30 0 1,0 16.60,0a8.30,8.30 0 1,0 -16.60,0M1191.84,1664.21a8.30,8.30 0 1,0 16.60,0a8.30,8.30 0 1,0 -16.60,0M1193.42,1664.86a8.30,8.30 0 1,0 16.60,0a8.30,8.30 0 1,0 -16.60,0M1194.97,1665.49a8.30,8.30 0 1,0 16.60,0a8.30,8.30 0 1,0 -16.60,0M1196.52,1666.13a8.30,8.30 0 1,0 16.60,0a8.30,8.30 0 1,0 -16.60,0M1198.05,1666.76a8.30,8.30 0 1,0 16.60,0a8.30,8.30 0 1,0 -16.60,0M1199.57,1667.38a8.30,8.30 0 1,0 16.60,0a8.30,8.30 0 1,0 -16.60,0M1201.07,1668.00a8.30,8.30 0 1,0 16.60,0a8.30,8.30 0 1,0 -16.60,0M1202.56,1668.61a8.30,8.30 0 1,0 16.60,0a8.30,8.30 0 1,0 -16.60,0M1204.04,1669.22a8.30,8.30 0 1,0 16.60,0a8.30,8.30 0 1,0 -16.60,0M1205.51,1669.83a8.30,8.30 0 1,0 16.60,0a8.30,8.30 0 1,0 -16.60,0M1206.96,1670.42a8.30,8.30 0 1,0 16.60,0a8.30,8.30 0 1,0 -16.60,0M1208.40,1671.02a8.30,8.30 0 1,0 16.60,0a8.30,8.30 0 1,0 -16.60,0M1209.83,1671.61a8.30,8.30 0 1,0 16.60,0a8.30,8.30 0 1,0 -16.60,0M1211.25,1672.20a8.30,8.30 0 1,0 16.60,0a8.30,8.30 0 1,0 -16.60,0M1212.65,1672.78a8.30,8.30 0 1,0 16.60,0a8.30,8.30 0 1,0 -16.60,0M1214.05,1673.36a8.30,8.30 0 1,0 16.60,0a8.30,8.30 0 1,0 -16.60,0M1215.43,1673.93a8.30,8.30 0 1,0 16.60,0a8.30,8.30 0 1,0 -16.60,0M1216.80,1674.50a8.30,8.30 0 1,0 16.60,0a8.30,8.30 0 1,0 -16.60,0M1218.16,1675.06a8.30,8.30 0 1,0 16.60,0a8.30,8.30 0 1,0 -16.60,0M1219.51,1675.63a8.30,8.30 0 1,0 16.60,0a8.30,8.30 0 1,0 -16.60,0M1220.86,1676.18a8.30,8.30 0 1,0 16.60,0a8.30,8.30 0 1,0 -16.60,0M1222.19,1676.74a8.30,8.30 0 1,0 16.60,0a8.30,8.30 0 1,0 -16.60,0M1223.51,1677.28a8.30,8.30 0 1,0 16.60,0a8.30,8.30 0 1,0 -16.60,0M1224.81,1677.83a8.30,8.30 0 1,0 16.60,0a8.30,8.30 0 1,0 -16.60,0M1226.11,1678.37a8.30,8.30 0 1,0 16.60,0a8.30,8.30 0 1,0 -16.60,0M1227.41,1678.91a8.30,8.30 0 1,0 16.60,0a8.30,8.30 0 1,0 -16.60,0M1228.69,1679.44a8.30,8.30 0 1,0 16.60,0a8.30,8.30 0 1,0 -16.60,0M1229.96,1679.97a8.30,8.30 0 1,0 16.60,0a8.30,8.30 0 1,0 -16.60,0M1231.22,1680.50a8.30,8.30 0 1,0 16.60,0a8.30,8.30 0 1,0 -16.60,0M1232.47,1681.02a8.30,8.30 0 1,0 16.60,0a8.30,8.30 0 1,0 -16.60,0M1233.72,1681.54a8.30,8.30 0 1,0 16.60,0a8.30,8.30 0 1,0 -16.60,0M1234.95,1682.06a8.30,8.30 0 1,0 16.60,0a8.30,8.30 0 1,0 -16.60,0M1236.18,1682.57a8.30,8.30 0 1,0 16.60,0a8.30,8.30 0 1,0 -16.60,0M1237.39,1683.08a8.30,8.30 0 1,0 16.60,0a8.30,8.30 0 1,0 -16.60,0M1238.60,1683.59a8.30,8.30 0 1,0 16.60,0a8.30,8.30 0 1,0 -16.60,0M1239.80,1684.09a8.30,8.30 0 1,0 16.60,0a8.30,8.30 0 1,0 -16.60,0M1240.99,1684.59a8.30,8.30 0 1,0 16.60,0a8.30,8.30 0 1,0 -16.60,0M1242.18,1685.08a8.30,8.30 0 1,0 16.60,0a8.30,8.30 0 1,0 -16.60,0M1243.35,1685.58a8.30,8.30 0 1,0 16.60,0a8.30,8.30 0 1,0 -16.60,0M1244.52,1686.07a8.30,8.30 0 1,0 16.60,0a8.30,8.30 0 1,0 -16.60,0M1245.68,1686.55a8.30,8.30 0 1,0 16.60,0a8.30,8.30 0 1,0 -16.60,0M1246.84,1687.04a8.30,8.30 0 1,0 16.60,0a8.30,8.30 0 1,0 -16.60,0M1247.98,1687.52a8.30,8.30 0 1,0 16.60,0a8.30,8.30 0 1,0 -16.60,0M1249.12,1687.99a8.30,8.30 0 1,0 16.60,0a8.30,8.30 0 1,0 -16.60,0M1250.25,1688.47a8.30,8.30 0 1,0 16.60,0a8.30,8.30 0 1,0 -16.60,0M1251.37,1688.94a8.30,8.30 0 1,0 16.60,0a8.30,8.30 0 1,0 -16.60,0M1252.48,1689.41a8.30,8.30 0 1,0 16.60,0a8.30,8.30 0 1,0 -16.60,0M1253.59,1689.87a8.30,8.30 0 1,0 16.60,0a8.30,8.30 0 1,0 -16.60,0M1254.69,1690.33a8.30,8.30 0 1,0 16.60,0a8.30,8.30 0 1,0 -16.60,0M1255.79,1690.79a8.30,8.30 0 1,0 16.60,0a8.30,8.30 0 1,0 -16.60,0M1256.87,1691.25a8.30,8.30 0 1,0 16.60,0a8.30,8.30 0 1,0 -16.60,0M1257.95,1691.70a8.30,8.30 0 1,0 16.60,0a8.30,8.30 0 1,0 -16.60,0M1259.03,1692.16a8.30,8.30 0 1,0 16.60,0a8.30,8.30 0 1,0 -16.60,0M1260.09,1692.60a8.30,8.30 0 1,0 16.60,0a8.30,8.30 0 1,0 -16.60,0M1261.15,1693.05a8.30,8.30 0 1,0 16.60,0a8.30,8.30 0 1,0 -16.60,0M1262.21,1693.49a8.30,8.30 0 1,0 16.60,0a8.30,8.30 0 1,0 -16.60,0M1263.26,1693.93a8.30,8.30 0 1,0 16.60,0a8.30,8.30 0 1,0 -16.60,0M1264.30,1694.37a8.30,8.30 0 1,0 16.60,0a8.30,8.30 0 1,0 -16.60,0M1265.33,1694.81a8.30,8.30 0 1,0 16.60,0a8.30,8.30 0 1,0 -16.60,0M1266.36,1695.24a8.30,8.30 0 1,0 16.60,0a8.30,8.30 0 1,0 -16.60,0M1267.38,1695.67a8.30,8.30 0 1,0 16.60,0a8.30,8.30 0 1,0 -16.60,0M1268.40,1696.10a8.30,8.30 0 1,0 16.60,0a8.30,8.30 0 1,0 -16.60,0M1269.41,1696.52a8.30,8.30 0 1,0 16.60,0a8.30,8.30 0 1,0 -16.60,0M1270.41,1696.95a8.30,8.30 0 1,0 16.60,0a8.30,8.30 0 1,0 -16.60,0M1271.41,1697.37a8.30,8.30 0 1,0 16.60,0a8.30,8.30 0 1,0 -16.60,0M1272.41,1697.79a8.30,8.30 0 1,0 16.60,0a8.30,8.30 0 1,0 -16.60,0M1273.39,1698.20a8.30,8.30 0 1,0 16.60,0a8.30,8.30 0 1,0 -16.60,0M1274.38,1698.61a8.30,8.30 0 1,0 16.60,0a8.30,8.30 0 1,0 -16.60,0M1275.35,1699.03a8.30,8.30 0 1,0 16.60,0a8.30,8.30 0 1,0 -16.60,0M1276.32,1699.43a8.30,8.30 0 1,0 16.60,0a8.30,8.30 0 1,0 -16.60,0M1277.29,1699.84a8.30,8.30 0 1,0 16.60,0a8.30,8.30 0 1,0 -16.60,0M1278.25,1700.24a8.30,8.30 0 1,0 16.60,0a8.30,8.30 0 1,0 -16.60,0M1279.20,1700.65a8.30,8.30 0 1,0 16.60,0a8.30,8.30 0 1,0 -16.60,0M1280.15,1701.05a8.30,8.30 0 1,0 16.60,0a8.30,8.30 0 1,0 -16.60,0M1281.10,1701.44a8.30,8.30 0 1,0 16.60,0a8.30,8.30 0 1,0 -16.60,0M1282.03,1701.84a8.30,8.30 0 1,0 16.60,0a8.30,8.30 0 1,0 -16.60,0M1282.97,1702.23a8.30,8.30 0 1,0 16.60,0a8.30,8.30 0 1,0 -16.60,0M1283.90,1702.62a8.30,8.30 0 1,0 16.60,0a8.30,8.30 0 1,0 -16.60,0M1284.82,1703.01a8.30,8.30 0 1,0 16.60,0a8.30,8.30 0 1,0 -16.60,0M1285.74,1703.40a8.30,8.30 0 1,0 16.60,0a8.30,8.30 0 1,0 -16.60,0M1286.65,1703.78a8.30,8.30 0 1,0 16.60,0a8.30,8.30 0 1,0 -16.60,0M1287.56,1704.17a8.30,8.30 0 1,0 16.60,0a8.30,8.30 0 1,0 -16.60,0M1288.47,1704.55a8.30,8.30 0 1,0 16.60,0a8.30,8.30 0 1,0 -16.60,0M1289.37,1704.93a8.30,8.30 0 1,0 16.60,0a8.30,8.30 0 1,0 -16.60,0M1290.26,1705.30a8.30,8.30 0 1,0 16.60,0a8.30,8.30 0 1,0 -16.60,0M1291.15,1705.68a8.30,8.30 0 1,0 16.60,0a8.30,8.30 0 1,0 -16.60,0M1292.04,1706.05a8.30,8.30 0 1,0 16.60,0a8.30,8.30 0 1,0 -16.60,0M1292.92,1706.43a8.30,8.30 0 1,0 16.60,0a8.30,8.30 0 1,0 -16.60,0M1293.80,1706.80a8.30,8.30 0 1,0 16.60,0a8.30,8.30 0 1,0 -16.60,0M1294.67,1707.18a8.30,8.30 0 1,0 16.60,0a8.30,8.30 0 1,0 -16.60,0M1295.54,1707.55a8.30,8.30 0 1,0 16.60,0a8.30,8.30 0 1,0 -16.60,0M1296.40,1707.92a8.30,8.30 0 1,0 16.60,0a8.30,8.30 0 1,0 -16.60,0M1297.26,1708.28a8.30,8.30 0 1,0 16.60,0a8.30,8.30 0 1,0 -16.60,0M1298.12,1708.65a8.30,8.30 0 1,0 16.60,0a8.30,8.30 0 1,0 -16.60,0M1298.97,1709.01a8.30,8.30 0 1,0 16.60,0a8.30,8.30 0 1,0 -16.60,0M1299.82,1709.38a8.30,8.30 0 1,0 16.60,0a8.30,8.30 0 1,0 -16.60,0M1300.66,1709.74a8.30,8.30 0 1,0 16.60,0a8.30,8.30 0 1,0 -16.60,0M1301.50,1710.09a8.30,8.30 0 1,0 16.60,0a8.30,8.30 0 1,0 -16.60,0M1302.33,1710.45a8.30,8.30 0 1,0 16.60,0a8.30,8.30 0 1,0 -16.60,0M1303.16,1710.80a8.30,8.30 0 1,0 16.60,0a8.30,8.30 0 1,0 -16.60,0M1303.99,1711.16a8.30,8.30 0 1,0 16.60,0a8.30,8.30 0 1,0 -16.60,0M1304.81,1711.51a8.30,8.30 0 1,0 16.60,0a8.30,8.30 0 1,0 -16.60,0M1305.63,1711.86a8.30,8.30 0 1,0 16.60,0a8.30,8.30 0 1,0 -16.60,0M1306.45,1712.20a8.30,8.30 0 1,0 16.60,0a8.30,8.30 0 1,0 -16.60,0M1307.26,1712.55a8.30,8.30 0 1,0 16.60,0a8.30,8.30 0 1,0 -16.60,0M1308.06,1712.89a8.30,8.30 0 1,0 16.60,0a8.30,8.30 0 1,0 -16.60,0M1308.87,1713.24a8.30,8.30 0 1,0 16.60,0a8.30,8.30 0 1,0 -16.60,0M1309.67,1713.58a8.30,8.30 0 1,0 16.60,0a8.30,8.30 0 1,0 -16.60,0M1310.46,1713.92a8.30,8.30 0 1,0 16.60,0a8.30,8.30 0 1,0 -16.60,0M1311.25,1714.26a8.30,8.30 0 1,0 16.60,0a8.30,8.30 0 1,0 -16.60,0M1312.04,1714.59a8.30,8.30 0 1,0 16.60,0a8.30,8.30 0 1,0 -16.60,0M1312.83,1714.93a8.30,8.30 0 1,0 16.60,0a8.30,8.30 0 1,0 -16.60,0M1313.61,1715.26a8.30,8.30 0 1,0 16.60,0a8.30,8.30 0 1,0 -16.60,0M1314.39,1715.59a8.30,8.30 0 1,0 16.60,0a8.30,8.30 0 1,0 -16.60,0M1315.16,1715.92a8.30,8.30 0 1,0 16.60,0a8.30,8.30 0 1,0 -16.60,0M1315.93,1716.25a8.30,8.30 0 1,0 16.60,0a8.30,8.30 0 1,0 -16.60,0M1316.70,1716.57a8.30,8.30 0 1,0 16.60,0a8.30,8.30 0 1,0 -16.60,0M1317.47,1716.90a8.30,8.30 0 1,0 16.60,0a8.30,8.30 0 1,0 -16.60,0M1318.23,1717.22a8.30,8.30 0 1,0 16.60,0a8.30,8.30 0 1,0 -16.60,0M1318.98,1717.55a8.30,8.30 0 1,0 16.60,0a8.30,8.30 0 1,0 -16.60,0M1319.74,1717.87a8.30,8.30 0 1,0 16.60,0a8.30,8.30 0 1,0 -16.60,0M1320.49,1718.19a8.30,8.30 0 1,0 16.60,0a8.30,8.30 0 1,0 -16.60,0M1321.24,1718.50a8.30,8.30 0 1,0 16.60,0a8.30,8.30 0 1,0 -16.60,0M1321.98,1718.82a8.30,8.30 0 1,0 16.60,0a8.30,8.30 0 1,0 -16.60,0M1322.72,1719.13a8.30,8.30 0 1,0 16.60,0a8.30,8.30 0 1,0 -16.60,0M1323.46,1719.45a8.30,8.30 0 1,0 16.60,0a8.30,8.30 0 1,0 -16.60,0M1324.20,1719.76a8.30,8.30 0 1,0 16.60,0a8.30,8.30 0 1,0 -16.60,0M1324.93,1720.07a8.30,8.30 0 1,0 16.60,0a8.30,8.30 0 1,0 -16.60,0M1325.66,1720.38a8.30,8.30 0 1,0 16.60,0a8.30,8.30 0 1,0 -16.60,0M1326.38,1720.69a8.30,8.30 0 1,0 16.60,0a8.30,8.30 0 1,0 -16.60,0M1327.11,1720.99a8.30,8.30 0 1,0 16.60,0a8.30,8.30 0 1,0 -16.60,0M1327.83,1721.30a8.30,8.30 0 1,0 16.60,0a8.30,8.30 0 1,0 -16.60,0M1328.54,1721.60a8.30,8.30 0 1,0 16.60,0a8.30,8.30 0 1,0 -16.60,0M1329.26,1721.91a8.30,8.30 0 1,0 16.60,0a8.30,8.30 0 1,0 -16.60,0M1329.97,1722.21a8.30,8.30 0 1,0 16.60,0a8.30,8.30 0 1,0 -16.60,0M1330.67,1722.51a8.30,8.30 0 1,0 16.60,0a8.30,8.30 0 1,0 -16.60,0M1331.38,1722.80a8.30,8.30 0 1,0 16.60,0a8.30,8.30 0 1,0 -16.60,0M1332.08,1723.10a8.30,8.30 0 1,0 16.60,0a8.30,8.30 0 1,0 -16.60,0M1332.78,1723.40a8.30,8.30 0 1,0 16.60,0a8.30,8.30 0 1,0 -16.60,0M1333.48,1723.69a8.30,8.30 0 1,0 16.60,0a8.30,8.30 0 1,0 -16.60,0M1334.17,1723.99a8.30,8.30 0 1,0 16.60,0a8.30,8.30 0 1,0 -16.60,0M1334.86,1724.28a8.30,8.30 0 1,0 16.60,0a8.30,8.30 0 1,0 -16.60,0M1335.55,1724.57a8.30,8.30 0 1,0 16.60,0a8.30,8.30 0 1,0 -16.60,0M1336.23,1724.86a8.30,8.30 0 1,0 16.60,0a8.30,8.30 0 1,0 -16.60,0M1336.92,1725.15a8.30,8.30 0 1,0 16.60,0a8.30,8.30 0 1,0 -16.60,0M1337.60,1725.43a8.30,8.30 0 1,0 16.60,0a8.30,8.30 0 1,0 -16.60,0M1338.27,1725.72a8.30,8.30 0 1,0 16.60,0a8.30,8.30 0 1,0 -16.60,0M1338.95,1726.01a8.30,8.30 0 1,0 16.60,0a8.30,8.30 0 1,0 -16.60,0M1339.62,1726.29a8.30,8.30 0 1,0 16.60,0a8.30,8.30 0 1,0 -16.60,0M1340.29,1726.57a8.30,8.30 0 1,0 16.60,0a8.30,8.30 0 1,0 -16.60,0M1340.96,1726.85a8.30,8.30 0 1,0 16.60,0a8.30,8.30 0 1,0 -16.60,0M1341.62,1727.13a8.30,8.30 0 1,0 16.60,0a8.30,8.30 0 1,0 -16.60,0M1342.28,1727.41a8.30,8.30 0 1,0 16.60,0a8.30,8.30 0 1,0 -16.60,0M1342.94,1727.69a8.30,8.30 0 1,0 16.60,0a8.30,8.30 0 1,0 -16.60,0M1343.60,1727.97a8.30,8.30 0 1,0 16.60,0a8.30,8.30 0 1,0 -16.60,0M1344.25,1728.24a8.30,8.30 0 1,0 16.60,0a8.30,8.30 0 1,0 -16.60,0M1344.91,1728.52a8.30,8.30 0 1,0 16.60,0a8.30,8.30 0 1,0 -16.60,0M1345.55,1728.79a8.30,8.30 0 1,0 16.60,0a8.30,8.30 0 1,0 -16.60,0M1346.20,1729.06a8.30,8.30 0 1,0 16.60,0a8.30,8.30 0 1,0 -16.60,0M1346.85,1729.33a8.30,8.30 0 1,0 16.60,0a8.30,8.30 0 1,0 -16.60,0M1347.49,1729.60a8.30,8.30 0 1,0 16.60,0a8.30,8.30 0 1,0 -16.60,0M1348.13,1729.87a8.30,8.30 0 1,0 16.60,0a8.30,8.30 0 1,0 -16.60,0M1348.76,1730.14a8.30,8.30 0 1,0 16.60,0a8.30,8.30 0 1,0 -16.60,0M1349.40,1730.40a8.30,8.30 0 1,0 16.60,0a8.30,8.30 0 1,0 -16.60,0M1350.03,1730.67a8.30,8.30 0 1,0 16.60,0a8.30,8.30 0 1,0 -16.60,0M1350.66,1730.93a8.30,8.30 0 1,0 16.60,0a8.30,8.30 0 1,0 -16.60,0M1351.29,1731.20a8.30,8.30 0 1,0 16.60,0a8.30,8.30 0 1,0 -16.60,0M1351.92,1731.46a8.30,8.30 0 1,0 16.60,0a8.30,8.30 0 1,0 -16.60,0M1352.54,1731.72a8.30,8.30 0 1,0 16.60,0a8.30,8.30 0 1,0 -16.60,0M1353.16,1731.98a8.30,8.30 0 1,0 16.60,0a8.30,8.30 0 1,0 -16.60,0M1353.78,1732.24a8.30,8.30 0 1,0 16.60,0a8.30,8.30 0 1,0 -16.60,0M1354.40,1732.50a8.30,8.30 0 1,0 16.60,0a8.30,8.30 0 1,0 -16.60,0M1355.01,1732.76a8.30,8.30 0 1,0 16.60,0a8.30,8.30 0 1,0 -16.60,0M1355.62,1733.01a8.30,8.30 0 1,0 16.60,0a8.30,8.30 0 1,0 -16.60,0M1356.23,1733.27a8.30,8.30 0 1,0 16.60,0a8.30,8.30 0 1,0 -16.60,0M1356.84,1733.52a8.30,8.30 0 1,0 16.60,0a8.30,8.30 0 1,0 -16.60,0M1357.45,1733.78a8.30,8.30 0 1,0 16.60,0a8.30,8.30 0 1,0 -16.60,0M1358.05,1734.03a8.30,8.30 0 1,0 16.60,0a8.30,8.30 0 1,0 -16.60,0M1358.65,1734.28a8.30,8.30 0 1,0 16.60,0a8.30,8.30 0 1,0 -16.60,0M1359.25,1734.53a8.30,8.30 0 1,0 16.60,0a8.30,8.30 0 1,0 -16.60,0M1359.85,1734.78a8.30,8.30 0 1,0 16.60,0a8.30,8.30 0 1,0 -16.60,0M1360.45,1735.03a8.30,8.30 0 1,0 16.60,0a8.30,8.30 0 1,0 -16.60,0M1361.04,1735.28a8.30,8.30 0 1,0 16.60,0a8.30,8.30 0 1,0 -16.60,0M1361.63,1735.52a8.30,8.30 0 1,0 16.60,0a8.30,8.30 0 1,0 -16.60,0M1362.22,1735.77a8.30,8.30 0 1,0 16.60,0a8.30,8.30 0 1,0 -16.60,0M1362.81,1736.01a8.30,8.30 0 1,0 16.60,0a8.30,8.30 0 1,0 -16.60,0M1363.39,1736.26a8.30,8.30 0 1,0 16.60,0a8.30,8.30 0 1,0 -16.60,0M1363.98,1736.50a8.30,8.30 0 1,0 16.60,0a8.30,8.30 0 1,0 -16.60,0M1364.56,1736.74a8.30,8.30 0 1,0 16.60,0a8.30,8.30 0 1,0 -16.60,0M1365.14,1736.98a8.30,8.30 0 1,0 16.60,0a8.30,8.30 0 1,0 -16.60,0M1365.71,1737.22a8.30,8.30 0 1,0 16.60,0a8.30,8.30 0 1,0 -16.60,0M1366.29,1737.46a8.30,8.30 0 1,0 16.60,0a8.30,8.30 0 1,0 -16.60,0M1366.86,1737.70a8.30,8.30 0 1,0 16.60,0a8.30,8.30 0 1,0 -16.60,0M1367.43,1737.94a8.30,8.30 0 1,0 16.60,0a8.30,8.30 0 1,0 -16.60,0M1368.00,1738.18a8.30,8.30 0 1,0 16.60,0a8.30,8.30 0 1,0 -16.60,0M1368.57,1738.41a8.30,8.30 0 1,0 16.60,0a8.30,8.30 0 1,0 -16.60,0M1369.14,1738.65a8.30,8.30 0 1,0 16.60,0a8.30,8.30 0 1,0 -16.60,0M1369.70,1738.88a8.30,8.30 0 1,0 16.60,0a8.30,8.30 0 1,0 -16.60,0M1370.27,1739.11a8.30,8.30 0 1,0 16.60,0a8.30,8.30 0 1,0 -16.60,0M1370.83,1739.35a8.30,8.30 0 1,0 16.60,0a8.30,8.30 0 1,0 -16.60,0M1371.38,1739.58a8.30,8.30 0 1,0 16.60,0a8.30,8.30 0 1,0 -16.60,0M1371.94,1739.81a8.30,8.30 0 1,0 16.60,0a8.30,8.30 0 1,0 -16.60,0M1372.50,1740.04a8.30,8.30 0 1,0 16.60,0a8.30,8.30 0 1,0 -16.60,0M1373.05,1740.27a8.30,8.30 0 1,0 16.60,0a8.30,8.30 0 1,0 -16.60,0M1373.60,1740.49a8.30,8.30 0 1,0 16.60,0a8.30,8.30 0 1,0 -16.60,0M1374.15,1740.72a8.30,8.30 0 1,0 16.60,0a8.30,8.30 0 1,0 -16.60,0M1374.70,1740.95a8.30,8.30 0 1,0 16.60,0a8.30,8.30 0 1,0 -16.60,0M1375.25,1741.17a8.30,8.30 0 1,0 16.60,0a8.30,8.30 0 1,0 -16.60,0M1375.79,1741.40a8.30,8.30 0 1,0 16.60,0a8.30,8.30 0 1,0 -16.60,0M1376.33,1741.62a8.30,8.30 0 1,0 16.60,0a8.30,8.30 0 1,0 -16.60,0M1376.88,1741.85a8.30,8.30 0 1,0 16.60,0a8.30,8.30 0 1,0 -16.60,0M1377.42,1742.07a8.30,8.30 0 1,0 16.60,0a8.30,8.30 0 1,0 -16.60,0M1377.95,1742.29a8.30,8.30 0 1,0 16.60,0a8.30,8.30 0 1,0 -16.60,0M1378.49,1742.51a8.30,8.30 0 1,0 16.60,0a8.30,8.30 0 1,0 -16.60,0M1379.02,1742.73a8.30,8.30 0 1,0 16.60,0a8.30,8.30 0 1,0 -16.60,0M1379.56,1742.95a8.30,8.30 0 1,0 16.60,0a8.30,8.30 0 1,0 -16.60,0M1380.09,1743.17a8.30,8.30 0 1,0 16.60,0a8.30,8.30 0 1,0 -16.60,0M1380.62,1743.39a8.30,8.30 0 1,0 16.60,0a8.30,8.30 0 1,0 -16.60,0M1381.15,1743.61a8.30,8.30 0 1,0 16.60,0a8.30,8.30 0 1,0 -16.60,0M1381.67,1743.82a8.30,8.30 0 1,0 16.60,0a8.30,8.30 0 1,0 -16.60,0M1382.20,1744.04a8.30,8.30 0 1,0 16.60,0a8.30,8.30 0 1,0 -16.60,0M1382.72,1744.25a8.30,8.30 0 1,0 16.60,0a8.30,8.30 0 1,0 -16.60,0M1383.24,1744.47a8.30,8.30 0 1,0 16.60,0a8.30,8.30 0 1,0 -16.60,0M1383.76,1744.68a8.30,8.30 0 1,0 16.60,0a8.30,8.30 0 1,0 -16.60,0M1384.28,1744.89a8.30,8.30 0 1,0 16.60,0a8.30,8.30 0 1,0 -16.60,0M1384.80,1745.11a8.30,8.30 0 1,0 16.60,0a8.30,8.30 0 1,0 -16.60,0M1385.31,1745.32a8.30,8.30 0 1,0 16.60,0a8.30,8.30 0 1,0 -16.60,0M1385.83,1745.53a8.30,8.30 0 1,0 16.60,0a8.30,8.30 0 1,0 -16.60,0M1386.34,1745.74a8.30,8.30 0 1,0 16.60,0a8.30,8.30 0 1,0 -16.60,0M1386.85,1745.95a8.30,8.30 0 1,0 16.60,0a8.30,8.30 0 1,0 -16.60,0M1387.36,1746.16a8.30,8.30 0 1,0 16.60,0a8.30,8.30 0 1,0 -16.60,0M1387.87,1746.36a8.30,8.30 0 1,0 16.60,0a8.30,8.30 0 1,0 -16.60,0M1388.37,1746.57a8.30,8.30 0 1,0 16.60,0a8.30,8.30 0 1,0 -16.60,0M1388.88,1746.78a8.30,8.30 0 1,0 16.60,0a8.30,8.30 0 1,0 -16.60,0M1389.38,1746.98a8.30,8.30 0 1,0 16.60,0a8.30,8.30 0 1,0 -16.60,0M1389.88,1747.19a8.30,8.30 0 1,0 16.60,0a8.30,8.30 0 1,0 -16.60,0M1390.38,1747.39a8.30,8.30 0 1,0 16.60,0a8.30,8.30 0 1,0 -16.60,0M1390.88,1747.59a8.30,8.30 0 1,0 16.60,0a8.30,8.30 0 1,0 -16.60,0M1391.38,1747.80a8.30,8.30 0 1,0 16.60,0a8.30,8.30 0 1,0 -16.60,0M1391.88,1748.00a8.30,8.30 0 1,0 16.60,0a8.30,8.30 0 1,0 -16.60,0M1392.37,1748.20a8.30,8.30 0 1,0 16.60,0a8.30,8.30 0 1,0 -16.60,0M1392.86,1748.40a8.30,8.30 0 1,0 16.60,0a8.30,8.30 0 1,0 -16.60,0M1393.36,1748.60a8.30,8.30 0 1,0 16.60,0a8.30,8.30 0 1,0 -16.60,0M1393.85,1748.80a8.30,8.30 0 1,0 16.60,0a8.30,8.30 0 1,0 -16.60,0M1394.34,1749.00a8.30,8.30 0 1,0 16.60,0a8.30,8.30 0 1,0 -16.60,0M1394.82,1749.20a8.30,8.30 0 1,0 16.60,0a8.30,8.30 0 1,0 -16.60,0M1395.31,1749.40a8.30,8.30 0 1,0 16.60,0a8.30,8.30 0 1,0 -16.60,0M1395.79,1749.59a8.30,8.30 0 1,0 16.60,0a8.30,8.30 0 1,0 -16.60,0M1396.28,1749.79a8.30,8.30 0 1,0 16.60,0a8.30,8.30 0 1,0 -16.60,0M1396.76,1749.99a8.30,8.30 0 1,0 16.60,0a8.30,8.30 0 1,0 -16.60,0M1397.24,1750.18a8.30,8.30 0 1,0 16.60,0a8.30,8.30 0 1,0 -16.60,0M1397.72,1750.38a8.30,8.30 0 1,0 16.60,0a8.30,8.30 0 1,0 -16.60,0M1398.20,1750.57a8.30,8.30 0 1,0 16.60,0a8.30,8.30 0 1,0 -16.60,0M1398.68,1750.76a8.30,8.30 0 1,0 16.60,0a8.30,8.30 0 1,0 -16.60,0M1399.15,1750.96a8.30,8.30 0 1,0 16.60,0a8.30,8.30 0 1,0 -16.60,0M1399.63,1751.15a8.30,8.30 0 1,0 16.60,0a8.30,8.30 0 1,0 -16.60,0M1400.10,1751.34a8.30,8.30 0 1,0 16.60,0a8.30,8.30 0 1,0 -16.60,0M1400.57,1751.53a8.30,8.30 0 1,0 16.60,0a8.30,8.30 0 1,0 -16.60,0M1401.04,1751.72a8.30,8.30 0 1,0 16.60,0a8.30,8.30 0 1,0 -16.60,0M1401.51,1751.91a8.30,8.30 0 1,0 16.60,0a8.30,8.30 0 1,0 -16.60,0M1401.98,1752.10a8.30,8.30 0 1,0 16.60,0a8.30,8.30 0 1,0 -16.60,0M1402.44,1752.29a8.30,8.30 0 1,0 16.60,0a8.30,8.30 0 1,0 -16.60,0M1402.91,1752.48a8.30,8.30 0 1,0 16.60,0a8.30,8.30 0 1,0 -16.60,0M1403.37,1752.66a8.30,8.30 0 1,0 16.60,0a8.30,8.30 0 1,0 -16.60,0M1403.84,1752.85a8.30,8.30 0 1,0 16.60,0a8.30,8.30 0 1,0 -16.60,0M1404.30,1753.04a8.30,8.30 0 1,0 16.60,0a8.30,8.30 0 1,0 -16.60,0M1404.76,1753.22a8.30,8.30 0 1,0 16.60,0a8.30,8.30 0 1,0 -16.60,0M1405.22,1753.41a8.30,8.30 0 1,0 16.60,0a8.30,8.30 0 1,0 -16.60,0M1405.68,1753.59a8.30,8.30 0 1,0 16.60,0a8.30,8.30 0 1,0 -16.60,0M1406.13,1753.77a8.30,8.30 0 1,0 16.60,0a8.30,8.30 0 1,0 -16.60,0M1406.59,1753.96a8.30,8.30 0 1,0 16.60,0a8.30,8.30 0 1,0 -16.60,0M1407.04,1754.14a8.30,8.30 0 1,0 16.60,0a8.30,8.30 0 1,0 -16.60,0M1407.50,1754.32a8.30,8.30 0 1,0 16.60,0a8.30,8.30 0 1,0 -16.60,0M1407.95,1754.50a8.30,8.30 0 1,0 16.60,0a8.30,8.30 0 1,0 -16.60,0M1408.40,1754.68a8.30,8.30 0 1,0 16.60,0a8.30,8.30 0 1,0 -16.60,0M1408.85,1754.86a8.30,8.30 0 1,0 16.60,0a8.30,8.30 0 1,0 -16.60,0M1409.30,1755.04a8.30,8.30 0 1,0 16.60,0a8.30,8.30 0 1,0 -16.60,0M1409.74,1755.22a8.30,8.30 0 1,0 16.60,0a8.30,8.30 0 1,0 -16.60,0M1410.19,1755.40a8.30,8.30 0 1,0 16.60,0a8.30,8.30 0 1,0 -16.60,0M1410.63,1755.58a8.30,8.30 0 1,0 16.60,0a8.30,8.30 0 1,0 -16.60,0M1411.08,1755.76a8.30,8.30 0 1,0 16.60,0a8.30,8.30 0 1,0 -16.60,0M1411.52,1755.93a8.30,8.30 0 1,0 16.60,0a8.30,8.30 0 1,0 -16.60,0M1411.96,1756.11a8.30,8.30 0 1,0 16.60,0a8.30,8.30 0 1,0 -16.60,0M1412.40,1756.29a8.30,8.30 0 1,0 16.60,0a8.30,8.30 0 1,0 -16.60,0M1412.84,1756.46a8.30,8.30 0 1,0 16.60,0a8.30,8.30 0 1,0 -16.60,0M1413.28,1756.64a8.30,8.30 0 1,0 16.60,0a8.30,8.30 0 1,0 -16.60,0M1413.72,1756.81a8.30,8.30 0 1,0 16.60,0a8.30,8.30 0 1,0 -16.60,0M1414.15,1756.99a8.30,8.30 0 1,0 16.60,0a8.30,8.30 0 1,0 -16.60,0M1414.59,1757.16a8.30,8.30 0 1,0 16.60,0a8.30,8.30 0 1,0 -16.60,0M1415.02,1757.33a8.30,8.30 0 1,0 16.60,0a8.30,8.30 0 1,0 -16.60,0M1415.45,1757.51a8.30,8.30 0 1,0 16.60,0a8.30,8.30 0 1,0 -16.60,0M1432.24,1765.25a8.30,8.30 0 1,0 16.60,0a8.30,8.30 0 1,0 -16.60,0M1447.25,1771.39a8.30,8.30 0 1,0 16.60,0a8.30,8.30 0 1,0 -16.60,0M1461.06,1777.61a8.30,8.30 0 1,0 16.60,0a8.30,8.30 0 1,0 -16.60,0M1473.84,1782.85a8.30,8.30 0 1,0 16.60,0a8.30,8.30 0 1,0 -16.60,0M1485.74,1787.90a8.30,8.30 0 1,0 16.60,0a8.30,8.30 0 1,0 -16.60,0M1496.88,1792.70a8.30,8.30 0 1,0 16.60,0a8.30,8.30 0 1,0 -16.60,0M1507.33,1797.16a8.30,8.30 0 1,0 16.60,0a8.30,8.30 0 1,0 -16.60,0M1517.19,1801.20a8.30,8.30 0 1,0 16.60,0a8.30,8.30 0 1,0 -16.60,0M1526.52,1804.82a8.30,8.30 0 1,0 16.60,0a8.30,8.30 0 1,0 -16.60,0M1535.37,1808.12a8.30,8.30 0 1,0 16.60,0a8.30,8.30 0 1,0 -16.60,0M1543.79,1811.18a8.30,8.30 0 1,0 16.60,0a8.30,8.30 0 1,0 -16.60,0M1551.81,1814.07a8.30,8.30 0 1,0 16.60,0a8.30,8.30 0 1,0 -16.60,0M1559.48,1816.82a8.30,8.30 0 1,0 16.60,0a8.30,8.30 0 1,0 -16.60,0M1566.82,1819.47a8.30,8.30 0 1,0 16.60,0a8.30,8.30 0 1,0 -16.60,0M1573.86,1822.07a8.30,8.30 0 1,0 16.60,0a8.30,8.30 0 1,0 -16.60,0M1580.63,1824.63a8.30,8.30 0 1,0 16.60,0a8.30,8.30 0 1,0 -16.60,0M1587.14,1827.17a8.30,8.30 0 1,0 16.60,0a8.30,8.30 0 1,0 -16.60,0M1593.41,1829.70a8.30,8.30 0 1,0 16.60,0a8.30,8.30 0 1,0 -16.60,0M1599.46,1832.24a8.30,8.30 0 1,0 16.60,0a8.30,8.30 0 1,0 -16.60,0M1605.31,1834.77a8.30,8.30 0 1,0 16.60,0a8.30,8.30 0 1,0 -16.60,0M1610.97,1837.28a8.30,8.30 0 1,0 16.60,0a8.30,8.30 0 1,0 -16.60,0M1616.45,1839.74a8.30,8.30 0 1,0 16.60,0a8.30,8.30 0 1,0 -16.60,0M1621.75,1842.16a8.30,8.30 0 1,0 16.60,0a8.30,8.30 0 1,0 -16.60,0M1626.90,1844.52a8.30,8.30 0 1,0 16.60,0a8.30,8.30 0 1,0 -16.60,0M1631.90,1846.81a8.30,8.30 0 1,0 16.60,0a8.30,8.30 0 1,0 -16.60,0M1636.76,1849.03a8.30,8.30 0 1,0 16.60,0a8.30,8.30 0 1,0 -16.60,0M1641.49,1851.18a8.30,8.30 0 1,0 16.60,0a8.30,8.30 0 1,0 -16.60,0M1646.09,1853.25a8.30,8.30 0 1,0 16.60,0a8.30,8.30 0 1,0 -16.60,0M1650.57,1855.24a8.30,8.30 0 1,0 16.60,0a8.30,8.30 0 1,0 -16.60,0M1654.94,1857.14a8.30,8.30 0 1,0 16.60,0a8.30,8.30 0 1,0 -16.60,0M1659.20,1858.96a8.30,8.30 0 1,0 16.60,0a8.30,8.30 0 1,0 -16.60,0M1663.35,1860.69a8.30,8.30 0 1,0 16.60,0a8.30,8.30 0 1,0 -16.60,0M1667.41,1862.38a8.30,8.30 0 1,0 16.60,0a8.30,8.30 0 1,0 -16.60,0M1671.38,1864.02a8.30,8.30 0 1,0 16.60,0a8.30,8.30 0 1,0 -16.60,0M1675.26,1865.65a8.30,8.30 0 1,0 16.60,0a8.30,8.30 0 1,0 -16.60,0M1679.05,1867.26a8.30,8.30 0 1,0 16.60,0a8.30,8.30 0 1,0 -16.60,0M1682.76,1868.88a8.30,8.30 0 1,0 16.60,0a8.30,8.30 0 1,0 -16.60,0M1686.39,1870.51a8.30,8.30 0 1,0 16.60,0a8.30,8.30 0 1,0 -16.60,0M1689.95,1872.16a8.30,8.30 0 1,0 16.60,0a8.30,8.30 0 1,0 -16.60,0M1693.43,1873.84a8.30,8.30 0 1,0 16.60,0a8.30,8.30 0 1,0 -16.60,0M1696.85,1875.53a8.30,8.30 0 1,0 16.60,0a8.30,8.30 0 1,0 -16.60,0M1700.20,1877.22a8.30,8.30 0 1,0 16.60,0a8.30,8.30 0 1,0 -16.60,0M1703.48,1878.92a8.30,8.30 0 1,0 16.60,0a8.30,8.30 0 1,0 -16.60,0M1706.71,1880.62a8.30,8.30 0 1,0 16.60,0a8.30,8.30 0 1,0 -16.60,0M1709.87,1882.31a8.30,8.30 0 1,0 16.60,0a8.30,8.30 0 1,0 -16.60,0M1712.98,1884.01a8.30,8.30 0 1,0 16.60,0a8.30,8.30 0 1,0 -16.60,0M1716.03,1885.69a8.30,8.30 0 1,0 16.60,0a8.30,8.30 0 1,0 -16.60,0M1719.03,1887.37a8.30,8.30 0 1,0 16.60,0a8.30,8.30 0 1,0 -16.60,0M1721.98,1889.04a8.30,8.30 0 1,0 16.60,0a8.30,8.30 0 1,0 -16.60,0M1724.88,1890.70a8.30,8.30 0 1,0 16.60,0a8.30,8.30 0 1,0 -16.60,0M1727.73,1892.35a8.30,8.30 0 1,0 16.60,0a8.30,8.30 0 1,0 -16.60,0M1730.54,1893.98a8.30,8.30 0 1,0 16.60,0a8.30,8.30 0 1,0 -16.60,0M1733.30,1895.60a8.30,8.30 0 1,0 16.60,0a8.30,8.30 0 1,0 -16.60,0M1736.01,1897.21a8.30,8.30 0 1,0 16.60,0a8.30,8.30 0 1,0 -16.60,0M1738.69,1898.80a8.30,8.30 0 1,0 16.60,0a8.30,8.30 0 1,0 -16.60,0M1741.32,1900.37a8.30,8.30 0 1,0 16.60,0a8.30,8.30 0 1,0 -16.60,0M1743.92,1901.94a8.30,8.30 0 1,0 16.60,0a8.30,8.30 0 1,0 -16.60,0M1746.47,1903.49a8.30,8.30 0 1,0 16.60,0a8.30,8.30 0 1,0 -16.60,0M1748.99,1905.03a8.30,8.30 0 1,0 16.60,0a8.30,8.30 0 1,0 -16.60,0M1751.47,1906.57a8.30,8.30 0 1,0 16.60,0a8.30,8.30 0 1,0 -16.60,0M1753.92,1908.11a8.30,8.30 0 1,0 16.60,0a8.30,8.30 0 1,0 -16.60,0M1756.33,1909.63a8.30,8.30 0 1,0 16.60,0a8.30,8.30 0 1,0 -16.60,0M1758.71,1911.15a8.30,8.30 0 1,0 16.60,0a8.30,8.30 0 1,0 -16.60,0M1761.06,1912.67a8.30,8.30 0 1,0 16.60,0a8.30,8.30 0 1,0 -16.60,0M1763.37,1914.18a8.30,8.30 0 1,0 16.60,0a8.30,8.30 0 1,0 -16.60,0M1765.66,1915.68a8.30,8.30 0 1,0 16.60,0a8.30,8.30 0 1,0 -16.60,0M1767.91,1917.18a8.30,8.30 0 1,0 16.60,0a8.30,8.30 0 1,0 -16.60,0M1770.14,1918.68a8.30,8.30 0 1,0 16.60,0a8.30,8.30 0 1,0 -16.60,0M1772.34,1920.17a8.30,8.30 0 1,0 16.60,0a8.30,8.30 0 1,0 -16.60,0M1774.51,1921.66a8.30,8.30 0 1,0 16.60,0a8.30,8.30 0 1,0 -16.60,0M1776.65,1923.14a8.30,8.30 0 1,0 16.60,0a8.30,8.30 0 1,0 -16.60,0M1778.77,1924.62a8.30,8.30 0 1,0 16.60,0a8.30,8.30 0 1,0 -16.60,0M1780.86,1926.10a8.30,8.30 0 1,0 16.60,0a8.30,8.30 0 1,0 -16.60,0M1782.92,1927.58a8.30,8.30 0 1,0 16.60,0a8.30,8.30 0 1,0 -16.60,0M1784.97,1929.05a8.30,8.30 0 1,0 16.60,0a8.30,8.30 0 1,0 -16.60,0M1786.98,1930.53a8.30,8.30 0 1,0 16.60,0a8.30,8.30 0 1,0 -16.60,0M1788.98,1932.01a8.30,8.30 0 1,0 16.60,0a8.30,8.30 0 1,0 -16.60,0M1790.95,1933.49a8.30,8.30 0 1,0 16.60,0a8.30,8.30 0 1,0 -16.60,0M1792.90,1934.97a8.30,8.30 0 1,0 16.60,0a8.30,8.30 0 1,0 -16.60,0M1794.83,1936.45a8.30,8.30 0 1,0 16.60,0a8.30,8.30 0 1,0 -16.60,0M1796.73,1937.93a8.30,8.30 0 1,0 16.60,0a8.30,8.30 0 1,0 -16.60,0M1798.62,1939.41a8.30,8.30 0 1,0 16.60,0a8.30,8.30 0 1,0 -16.60,0M1800.48,1940.88a8.30,8.30 0 1,0 16.60,0a8.30,8.30 0 1,0 -16.60,0M1802.33,1942.35a8.30,8.30 0 1,0 16.60,0a8.30,8.30 0 1,0 -16.60,0M1804.15,1943.81a8.30,8.30 0 1,0 16.60,0a8.30,8.30 0 1,0 -16.60,0M1805.96,1945.28a8.30,8.30 0 1,0 16.60,0a8.30,8.30 0 1,0 -16.60,0M1807.75,1946.73a8.30,8.30 0 1,0 16.60,0a8.30,8.30 0 1,0 -16.60,0M1809.51,1948.19a8.30,8.30 0 1,0 16.60,0a8.30,8.30 0 1,0 -16.60,0M1811.27,1949.64a8.30,8.30 0 1,0 16.60,0a8.30,8.30 0 1,0 -16.60,0M1813.00,1951.08a8.30,8.30 0 1,0 16.60,0a8.30,8.30 0 1,0 -16.60,0M1845.20,1980.60a8.30,8.30 0 1,0 16.60,0a8.30,8.30 0 1,0 -16.60,0M1871.50,2009.40a8.30,8.30 0 1,0 16.60,0a8.30,8.30 0 1,0 -16.60,0M1894.70,2040.30a8.30,8.30 0 1,0 16.60,0a8.30,8.30 0 1,0 -16.60,0M1914.90,2072.90a8.30,8.30 0 1,0 16.60,0a8.30,8.30 0 1,0 -16.60,0M1933.10,2105.50a8.30,8.30 0 1,0 16.60,0a8.30,8.30 0 1,0 -16.60,0M1949.90,2140.00a8.30,8.30 0 1,0 16.60,0a8.30,8.30 0 1,0 -16.60,0M1964.10,2171.00a8.30,8.30 0 1,0 16.60,0a8.30,8.30 0 1,0 -16.60,0M1978.30,2204.40a8.30,8.30 0 1,0 16.60,0a8.30,8.30 0 1,0 -16.60,0M1990.60,2239.70a8.30,8.30 0 1,0 16.60,0a8.30,8.30 0 1,0 -16.60,0M2003.30,2282.50a8.30,8.30 0 1,0 16.60,0a8.30,8.30 0 1,0 -16.60,0M2014.00,2317.40a8.30,8.30 0 1,0 16.60,0a8.30,8.30 0 1,0 -16.60,0M2024.30,2339.30a8.30,8.30 0 1,0 16.60,0a8.30,8.30 0 1,0 -16.60,0M2034.20,2356.40a8.30,8.30 0 1,0 16.60,0a8.30,8.30 0 1,0 -16.60,0M2043.70,2376.30a8.30,8.30 0 1,0 16.60,0a8.30,8.30 0 1,0 -16.60,0M2052.70,2394.80a8.30,8.30 0 1,0 16.60,0a8.30,8.30 0 1,0 -16.60,0" fill="#ff0000"/>
<path d="M413.71,1325.70a8.30,8.30 0 1,0 16.60,0a8.30,8.30 0 1,0 -16.60,0M518.27,1327.40a8.30,8.30 0 1,0 16.60,0a8.30,8.30 0 1,0 -16.60,0M582.91,1334.10a8.30,8.30 0 1,0 16.60,0a8.30,8.30 0 1,0 -16.60,0M629.82,1347.10a8.30,8.30 0 1,0 16.60,0a8.30,8.30 0 1,0 -16.60,0M666.66,1362.80a8.30,8.30 0 1,0 16.60,0a8.30,8.30 0 1,0 -16.60,0M697.00,1379.50a8.30,8.30 0 1,0 16.60,0a8.30,8.30 0 1,0 -16.60,0M722.79,1396.90a8.30,8.30 0 1,0 16.60,0a8.30,8.30 0 1,0 -16.60,0M745.23,1413.60a8.30,8.30 0 1,0 16.60,0a8.30,8.30 0 1,0 -16.60,0M765.08,1429.30a8.30,8.30 0 1,0 16.60,0a8.30,8.30 0 1,0 -16.60,0M782.88,1443.70a8.30,8.30 0 1,0 16.60,0a8.30,8.30 0 1,0 -16.60,0M799.01,1457.10a8.30,8.30 0 1,0 16.60,0a8.30,8.30 0 1,0 -16.60,0M813.76,1469.50a8.30,8.30 0 1,0 16.60,0a8.30,8.30 0 1,0 -16.60,0M827.35,1480.50a8.30,8.30 0 1,0 16.60,0a8.30,8.30 0 1,0 -16.60,0M839.95,1490.50a8.30,8.30 0 1,0 16.60,0a8.30,8.30 0 1,0 -16.60,0M851.69,1498.41a8.30,8.30 0 1,0 16.60,0a8.30,8.30 0 1,0 -16.60,0M862.68,1506.56a8.30,8.30 0 1,0 16.60,0a8.30,8.30 0 1,0 -16.60,0M873.01,1514.00a8.30,8.30 0 1,0 16.60,0a8.30,8.30 0 1,0 -16.60,0M882.76,1520.79a8.30,8.30 0 1,0 16.60,0a8.30,8.30 0 1,0 -16.60,0M891.99,1527.00a8.30,8.30 0 1,0 16.60,0a8.30,8.30 0 1,0 -16.60,0M900.75,1532.71a8.30,8.30 0 1,0 16.60,0a8.30,8.30 0 1,0 -16.60,0M909.08,1537.99a8.30,8.30 0 1,0 16.60,0a8.30,8.30 0 1,0 -16.60,0M917.03,1542.89a8.30,8.30 0 1,0 16.60,0a8.30,8.30 0 1,0 -16.60,0M924.63,1547.45a8.30,8.30 0 1,0 16.60,0a8.30,8.30 0 1,0 -16.60,0M931.91,1551.72a8.30,8.30 0 1,0 16.60,0a8.30,8.30 0 1,0 -16.60,0M938.90,1555.71a8.30,8.30 0 1,0 16.60,0a8.30,8.30 0 1,0 -16.60,0M945.61,1559.46a8.30,8.30 0 1,0 16.60,0a8.30,8.30 0 1,0 -16.60,0M952.07,1563.00a8.30,8.30 0 1,0 16.60,0a8.30,8.30 0 1,0 -16.60,0M958.30,1566.35a8.30,8.30 0 1,0 16.60,0a8.30,8.30 0 1,0 -16.60,0M964.31,1569.51a8.30,8.30 0 1,0 16.60,0a8.30,8.30 0 1,0 -16.60,0M970.12,1572.52a8.30,8.30 0 1,0 16.60,0a8.30,8.30 0 1,0 -16.60,0M975.74,1575.38a8.30,8.30 0 1,0 16.60,0a8.30,8.30 0 1,0 -16.60,0M981.18,1578.10a8.30,8.30 0 1,0 16.60,0a8.30,8.30 0 1,0 -16.60,0M986.46,1580.70a8.30,8.30 0 1,0 16.60,0a8.30,8.30 0 1,0 -16.60,0M991.58,1583.19a8.30,8.30 0 1,0 16.60,0a8.30,8.30 0 1,0 -16.60,0M996.55,1585.57a8.30,8.30 0 1,0 16.60,0a8.30,8.30 0 1,0 -16.60,0M1001.38,1587.86a8.30,8.30 0 1,0 16.60,0a8.30,8.30 0 1,0 -16.60,0M1006.08,1590.06a8.30,8.30 0 1,0 16.60,0a8.30,8.30 0 1,0 -16.60,0M1010.66,1592.17a8.30,8.30 0 1,0 16.60,0a8.30,8.30 0 1,0 -16.60,0M1015.11,1594.21a8.30,8.30 0 1,0 16.60,0a8.30,8.30 0 1,0 -16.60,0M1019.46,1596.18a8.30,8.30 0 1,0 16.60,0a8.30,8.30 0 1,0 -16.60,0M1023.70,1598.07a8.30,8.30 0 1,0 16.60,0a8.30,8.30 0 1,0 -16.60,0M1027.84,1599.91a8.30,8.30 0 1,0 16.60,0a8.30,8.30 0 1,0 -16.60,0M1031.88,1601.69a8.30,8.30 0 1,0 16.60,0a8.30,8.30 0 1,0 -16.60,0M1035.82,1603.41a8.30,8.30 0 1,0 16.60,0a8.30,8.30 0 1,0 -16.60,0M1039.68,1605.08a8.30,8.30 0 1,0 16.60,0a8.30,8.30 0 1,0 -16.60,0M1043.46,1606.71a8.30,8.30 0 1,0 16.60,0a8.30,8.30 0 1,0 -16.60,0M1047.15,1608.28a8.30,8.30 0 1,0 16.60,0a8.30,8.30 0 1,0 -16.60,0M1050.77,1609.82a8.30,8.30 0 1,0 16.60,0a8.30,8.30 0 1,0 -16.60,0M1054.31,1611.31a8.30,8.30 0 1,0 16.60,0a8.30,8.30 0 1,0 -16.60,0M1057.78,1612.77a8.30,8.30 0 1,0 16.60,0a8.30,8.30 0 1,0 -16.60,0M1061.18,1614.19a8.30,8.30 0 1,0 16.60,0a8.30,8.30 0 1,0 -16.60,0M1064.52,1615.57a8.30,8.30 0 1,0 16.60,0a8.30,8.30 0 1,0 -16.60,0M1067.79,1616.92a8.30,8.30 0 1,0 16.60,0a8.30,8.30 0 1,0 -16.60,0M1071.01,1618.25a8.30,8.30 0 1,0 16.60,0a8.30,8.30 0 1,0 -16.60,0M1074.16,1619.54a8.30,8.30 0 1,0 16.60,0a8.30,8.30 0 1,0 -16.60,0M1077.26,1620.80a8.30,8.30 0 1,0 16.60,0a8.30,8.30 0 1,0 -16.60,0M1080.30,1622.04a8.30,8.30 0 1,0 16.60,0a8.30,8.30 0 1,0 -16.60,0M1083.29,1623.25a8.30,8.30 0 1,0 16.60,0a8.30,8.30 0 1,0 -16.60,0M1086.23,1624.44a8.30,8.30 0 1,0 16.60,0a8.30,8.30 0 1,0 -16.60,0M1089.12,1625.61a8.30,8.30 0 1,0 16.60,0a8.30,8.30 0 1,0 -16.60,0M1091.96,1626.75a8.30,8.30 0 1,0 16.60,0a8.30,8.30 0 1,0 -16.60,0M1094.76,1627.88a8.30,8.30 0 1,0 16.60,0a8.30,8.30 0 1,0 -16.60,0M1097.51,1628.98a8.30,8.30 0 1,0 16.60,0a8.30,8.30 0 1,0 -16.60,0M1100.21,1630.07a8.30,8.30 0 1,0 16.60,0a8.30,8.30 0 1,0 -16.60,0M1102.88,1631.13a8.30,8.30 0 1,0 16.60,0a8.30,8.30 0 1,0 -16.60,0M1105.51,1632.18a8.30,8.30 0 1,0 16.60,0a8.30,8.30 0 1,0 -16.60,0M1108.09,1633.21a8.30,8.30 0 1,0 16.60,0a8.30,8.30 0 1,0 -16.60,0M1110.64,1634.23a8.30,8.30 0 1,0 16.60,0a8.30,8.30 0 1,0 -16.60,0M1113.15,1635.23a8.30,8.30 0 1,0 16.60,0a8.30,8.30 0 1,0 -16.60,0M1115.63,1636.21a8.30,8.30 0 1,0 16.60,0a8.30,8.30 0 1,0 -16.60,0M1118.07,1637.18a8.30,8.30 0 1,0 16.60,0a8.30,8.30 0 1,0 -16.60,0M1120.47,1638.14a8.30,8.30 0 1,0 16.60,0a8.30,8.30 0 1,0 -16.60,0M1122.85,1639.09a8.30,8.30 0 1,0 16.60,0a8.30,8.30 0 1,0 -16.60,0M1125.19,1640.02a8.30,8.30 0 1,0 16.60,0a8.30,8.30 0 1,0 -16.60,0M1127.50,1640.94a8.30,8.30 0 1,0 16.60,0a8.30,8.30 0 1,0 -16.60,0M1129.77,1641.84a8.30,8.30 0 1,0 16.60,0a8.30,8.30 0 1,0 -16.60,0M1132.02,1642.74a8.30,8.30 0 1,0 16.60,0a8.30,8.30 0 1,0 -16.60,0M1134.24,1643.62a8.30,8.30 0 1,0 16.60,0a8.30,8.30 0 1,0 -16.60,0M1136.44,1644.50a8.30,8.30 0 1,0 16.60,0a8.30,8.30 0 1,0 -16.60,0M1138.60,1645.36a8.30,8.30 0 1,0 16.60,0a8.30,8.30 0 1,0 -16.60,0M1140.74,1646.22a8.30,8.30 0 1,0 16.60,0a8.30,8.30 0 1,0 -16.60,0M1142.85,1647.06a8.30,8.30 0 1,0 16.60,0a8.30,8.30 0 1,0 -16.60,0M1144.93,1647.90a8.30,8.30 0 1,0 16.60,0a8.30,8.30 0 1,0 -16.60,0M1147.00,1648.72a8.30,8.30 0 1,0 16.60,0a8.30,8.30 0 1,0 -16.60,0M1149.03,1649.54a8.30,8.30 0 1,0 16.60,0a8.30,8.30 0 1,0 -16.60,0M1151.05,1650.35a8.30,8.30 0 1,0 16.60,0a8.30,8.30 0 1,0 -16.60,0M1153.03,1651.15a8.30,8.30 0 1,0 16.60,0a8.30,8.30 0 1,0 -16.60,0M1155.00,1651.94a8.30,8.30 0 1,0 16.60,0a8.30,8.30 0 1,0 -16.60,0M1156.95,1652.73a8.30,8.30 0 1,0 16.60,0a8.30,8.30 0 1,0 -16.60,0M1158.87,1653.51a8.30,8.30 0 1,0 16.60,0a8.30,8.30 0 1,0 -16.60,0M1160.77,1654.28a8.30,8.30 0 1,0 16.60,0a8.30,8.30 0 1,0 -16.60,0M1162.65,1655.04a8.30,8.30 0 1,0 16.60,0a8.30,8.30 0 1,0 -16.60,0M1164.51,1655.80a8.30,8.30 0 1,0 16.60,0a8.30,8.30 0 1,0 -16.60,0M1166.35,1656.55a8.30,8.30 0 1,0 16.60,0a8.30,8.30 0 1,0 -16.60,0M1168.18,1657.29a8.30,8.30 0 1,0 16.60,0a8.30,8.30 0 1,0 -16.60,0M1169.98,1658.03a8.30,8.30 0 1,0 16.60,0a8.30,8.30 0 1,0 -16.60,0M1171.76,1658.76a8.30,8.30 0 1,0 16.60,0a8.30,8.30 0 1,0 -16.60,0M1173.53,1659.48a8.30,8.30 0 1,0 16.60,0a8.30,8.30 0 1,0 -16.60,0M1175.28,1660.20a8.30,8.30 0 1,0 16.60,0a8.30,8.30 0 1,0 -16.60,0M1177.01,1660.91a8.30,8.30 0 1,0 16.60,0a8.30,8.30 0 1,0 -16.60,0M1178.72,1661.62a8.30,8.30 0 1,0 16.60,0a8.30,8.30 0 1,0 -16.60,0M1180.42,1662.31a8.30,8.30 0 1,0 16.60,0a8.30,8.30 0 1,0 -16.60,0M1182.10,1663.01a8.30,8.30 0 1,0 16.60,0a8.30,8.30 0 1,0 -16.60,0M1183.76,1663.70a8.30,8.30 0 1,0 16.60,0a8.30,8.30 0 1,0 -16.60,0M1185.41,1664.38a8.30,8.30 0 1,0 16.60,0a8.30,8.30 0 1,0 -16.60,0M1187.04,1665.05a8.30,8.30 0 1,0 16.60,0a8.30,8.30 0 1,0 -16.60,0M1188.66,1665.72a8.30,8.30 0 1,0 16.60,0a8.30,8.30 0 1,0 -16.60,0M1190.26,1666.39a8.30,8.30 0 1,0 16.60,0a8.30,8.30 0 1,0 -16.60,0M1191.84,1667.05a8.30,8.30 0 1,0 16.60,0a8.30,8.30 0 1,0 -16.60,0M1193.42,1667.70a8.30,8.30 0 1,0 16.60,0a8.30,8.30 0 1,0 -16.60,0M1194.97,1668.35a8.30,8.30 0 1,0 16.60,0a8.30,8.30 0 1,0 -16.60,0M1196.52,1668.99a8.30,8.30 0 1,0 16.60,0a8.30,8.30 0 1,0 -16.60,0M1198.05,1669.63a8.30,8.30 0 1,0 16.60,0a8.30,8.30 0 1,0 -16.60,0M1199.57,1670.27a8.30,8.30 0 1,0 16.60,0a8.30,8.30 0 1,0 -16.60,0M1201.07,1670.89a8.30,8.30 0 1,0 16.60,0a8.30,8.30 0 1,0 -16.60,0M1202.56,1671.52a8.30,8.30 0 1,0 16.60,0a8.30,8.30 0 1,0 -16.60,0M1204.04,1672.14a8.30,8.30 0 1,0 16.60,0a8.30,8.30 0 1,0 -16.60,0M1205.51,1672.75a8.30,8.30 0 1,0 16.60,0a8.30,8.30 0 1,0 -16.60,0M1206.96,1673.36a8.30,8.30 0 1,0 16.60,0a8.30,8.30 0 1,0 -16.60,0M1208.40,1673.96a8.30,8.30 0 1,0 16.60,0a8.30,8.30 0 1,0 -16.60,0M1209.83,1674.57a8.30,8.30 0 1,0 16.60,0a8.30,8.30 0 1,0 -16.60,0M1211.25,1675.16a8.30,8.30 0 1,0 16.60,0a8.30,8.30 0 1,0 -16.60,0M1212.65,1675.75a8.30,8.30 0 1,0 16.60,0a8.30,8.30 0 1,0 -16.60,0M1214.05,1676.34a8.30,8.30 0 1,0 16.60,0a8.30,8.30 0 1,0 -16.60,0M1215.43,1676.92a8.30,8.30 0 1,0 16.60,0a8.30,8.30 0 1,0 -16.60,0M1216.80,1677.50a8.30,8.30 0 1,0 16.60,0a8.30,8.30 0 1,0 -16.60,0M1218.16,1678.07a8.30,8.30 0 1,0 16.60,0a8.30,8.30 0 1,0 -16.60,0M1219.51,1678.64a8.30,8.30 0 1,0 16.60,0a8.30,8.30 0 1,0 -16.60,0M1220.86,1679.21a8.30,8.30 0 1,0 16.60,0a8.30,8.30 0 1,0 -16.60,0M1222.19,1679.77a8.30,8.30 0 1,0 16.60,0a8.30,8.30 0 1,0 -16.60,0M1223.51,1680.33a8.30,8.30 0 1,0 16.60,0a8.30,8.30 0 1,0 -16.60,0M1224.81,1680.88a8.30,8.30 0 1,0 16.60,0a8.30,8.30 0 1,0 -16.60,0M1226.11,1681.43a8.30,8.30 0 1,0 16.60,0a8.30,8.30 0 1,0 -16.60,0M1227.41,1681.98a8.30,8.30 0 1,0 16.60,0a8.30,8.30 0 1,0 -16.60,0M1228.69,1682.52a8.30,8.30 0 1,0 16.60,0a8.30,8.30 0 1,0 -16.60,0M1229.96,1683.06a8.30,8.30 0 1,0 16.60,0a8.30,8.30 0 1,0 -16.60,0M1231.22,1683.60a8.30,8.30 0 1,0 16.60,0a8.30,8.30 0 1,0 -16.60,0M1232.47,1684.13a8.30,8.30 0 1,0 16.60,0a8.30,8.30 0 1,0 -16.60,0M1233.72,1684.66a8.30,8.30 0 1,0 16.60,0a8.30,8.30 0 1,0 -16.60,0M1234.95,1685.18a8.30,8.30 0 1,0 16.60,0a8.30,8.30 0 1,0 -16.60,0M1236.18,1685.70a8.30,8.30 0 1,0 16.60,0a8.30,8.30 0 1,0 -16.60,0M1237.39,1686.22a8.30,8.30 0 1,0 16.60,0a8.30,8.30 0 1,0 -16.60,0M1238.60,1686.73a8.30,8.30 0 1,0 16.60,0a8.30,8.30 0 1,0 -16.60,0M1239.80,1687.24a8.30,8.30 0 1,0 16.60,0a8.30,8.30 0 1,0 -16.60,0M1240.99,1687.75a8.30,8.30 0 1,0 16.60,0a8.30,8.30 0 1,0 -16.60,0M1242.18,1688.25a8.30,8.30 0 1,0 16.60,0a8.30,8.30 0 1,0 -16.60,0M1243.35,1688.75a8.30,8.30 0 1,0 16.60,0a8.30,8.30 0 1,0 -16.60,0M1244.52,1689.25a8.30,8.30 0 1,0 16.60,0a8.30,8.30 0 1,0 -16.60,0M1245.68,1689.75a8.30,8.30 0 1,0 16.60,0a8.30,8.30 0 1,0 -16.60,0M1246.84,1690.24a8.30,8.30 0 1,0 16.60,0a8.30,8.30 0 1,0 -16.60,0M1247.98,1690.72a8.30,8.30 0 1,0 16.60,0a8.30,8.30 0 1,0 -16.60,0M1249.12,1691.21a8.30,8.30 0 1,0 16.60,0a8.30,8.30 0 1,0 -16.60,0M1250.25,1691.69a8.30,8.30 0 1,0 16.60,0a8.30,8.30 0 1,0 -16.60,0M1251.37,1692.17a8.30,8.30 0 1,0 16.60,0a8.30,8.30 0 1,0 -16.60,0M1252.48,1692.64a8.30,8.30 0 1,0 16.60,0a8.30,8.30 0 1,0 -16.60,0M1253.59,1693.12a8.30,8.30 0 1,0 16.60,0a8.30,8.30 0 1,0 -16.60,0M1254.69,1693.59a8.30,8.30 0 1,0 16.60,0a8.30,8.30 0 1,0 -16.60,0M1255.79,1694.05a8.30,8.30 0 1,0 16.60,0a8.30,8.30 0 1,0 -16.60,0M1256.87,1694.52a8.30,8.30 0 1,0 16.60,0a8.30,8.30 0 1,0 -16.60,0M1257.95,1694.98a8.30,8.30 0 1,0 16.60,0a8.30,8.30 0 1,0 -16.60,0M1259.03,1695.44a8.30,8.30 0 1,0 16.60,0a8.30,8.30 0 1,0 -16.60,0M1260.09,1695.89a8.30,8.30 0 1,0 16.60,0a8.30,8.30 0 1,0 -16.60,0M1261.15,1696.35a8.30,8.30 0 1,0 16.60,0a8.30,8.30 0 1,0 -16.60,0M1262.21,1696.80a8.30,8.30 0 1,0 16.60,0a8.30,8.30 0 1,0 -16.60,0M1263.26,1697.24a8.30,8.30 0 1,0 16.60,0a8.30,8.30 0 1,0 -16.60,0M1264.30,1697.69a8.30,8.30 0 1,0 16.60,0a8.30,8.30 0 1,0 -16.60,0M1265.33,1698.13a8.30,8.30 0 1,0 16.60,0a8.30,8.30 0 1,0 -16.60,0M1266.36,1698.57a8.30,8.30 0 1,0 16.60,0a8.30,8.30 0 1,0 -16.60,0M1267.38,1699.01a8.30,8.30 0 1,0 16.60,0a8.30,8.30 0 1,0 -16.60,0M1268.40,1699.44a8.30,8.30 0 1,0 16.60,0a8.30,8.30 0 1,0 -16.60,0M1269.41,1699.88a8.30,8.30 0 1,0 16.60,0a8.30,8.30 0 1,0 -16.60,0M1270.41,1700.30a8.30,8.30 0 1,0 16.60,0a8.30,8.30 0 1,0 -16.60,0M1271.41,1700.73a8.30,8.30 0 1,0 16.60,0a8.30,8.30 0 1,0 -16.60,0M1272.41,1701.16a8.30,8.30 0 1,0 16.60,0a8.30,8.30 0 1,0 -16.60,0M1273.39,1701.58a8.30,8.30 0 1,0 16.60,0a8.30,8.30 0 1,0 -16.60,0M1274.38,1702.00a8.30,8.30 0 1,0 16.60,0a8.30,8.30 0 1,0 -16.60,0M1275.35,1702.42a8.30,8.30 0 1,0 16.60,0a8.30,8.30 0 1,0 -16.60,0M1276.32,1702.83a8.30,8.30 0 1,0 16.60,0a8.30,8.30 0 1,0 -16.60,0M1277.29,1703.24a8.30,8.30 0 1,0 16.60,0a8.30,8.30 0 1,0 -16.60,0M1278.25,1703.65a8.30,8.30 0 1,0 16.60,0a8.30,8.30 0 1,0 -16.60,0M1279.20,1704.06a8.30,8.30 0 1,0 16.60,0a8.30,8.30 0 1,0 -16.60,0M1280.15,1704.47a8.30,8.30 0 1,0 16.60,0a8.30,8.30 0 1,0 -16.60,0M1281.10,1704.87a8.30,8.30 0 1,0 16.60,0a8.30,8.30 0 1,0 -16.60,0M1282.03,1705.27a8.30,8.30 0 1,0 16.60,0a8.30,8.30 0 1,0 -16.60,0M1282.97,1705.67a8.30,8.30 0 1,0 16.60,0a8.30,8.30 0 1,0 -16.60,0M1283.90,1706.07a8.30,8.30 0 1,0 16.60,0a8.30,8.30 0 1,0 -16.60,0M1284.82,1706.47a8.30,8.30 0 1,0 16.60,0a8.30,8.30 0 1,0 -16.60,0M1285.74,1706.86a8.30,8.30 0 1,0 16.60,0a8.30,8.30 0 1,0 -16.60,0M1286.65,1707.25a8.30,8.30 0 1,0 16.60,0a8.30,8.30 0 1,0 -16.60,0M1287.56,1707.64a8.30,8.30 0 1,0 16.60,0a8.30,8.30 0 1,0 -16.60,0M1288.47,1708.03a8.30,8.30 0 1,0 16.60,0a8.30,8.30 0 1,0 -16.60,0M1289.37,1708.41a8.30,8.30 0 1,0 16.60,0a8.30,8.30 0 1,0 -16.60,0M1290.26,1708.79a8.30,8.30 0 1,0 16.60,0a8.30,8.30 0 1,0 -16.60,0M1291.15,1709.17a8.30,8.30 0 1,0 16.60,0a8.30,8.30 0 1,0 -16.60,0M1292.04,1709.55a8.30,8.30 0 1,0 16.60,0a8.30,8.30 0 1,0 -16.60,0M1292.92,1709.93a8.30,8.30 0 1,0 16.60,0a8.30,8.30 0 1,0 -16.60,0M1293.80,1710.30a8.30,8.30 0 1,0 16.60,0a8.30,8.30 0 1,0 -16.60,0M1294.67,1710.68a8.30,8.30 0 1,0 16.60,0a8.30,8.30 0 1,0 -16.60,0M1295.54,1711.05a8.30,8.30 0 1,0 16.60,0a8.30,8.30 0 1,0 -16.60,0M1296.40,1711.42a8.30,8.30 0 1,0 16.60,0a8.30,8.30 0 1,0 -16.60,0M1297.26,1711.78a8.30,8.30 0 1,0 16.60,0a8.30,8.30 0 1,0 -16.60,0M1298.12,1712.15a8.30,8.30 0 1,0 16.60,0a8.30,8.30 0 1,0 -16.60,0M1298.97,1712.51a8.30,8.30 0 1,0 16.60,0a8.30,8.30 0 1,0 -16.60,0M1299.82,1712.88a8.30,8.30 0 1,0 16.60,0a8.30,8.30 0 1,0 -16.60,0M1300.66,1713.24a8.30,8.30 0 1,0 16.60,0a8.30,8.30 0 1,0 -16.60,0M1301.50,1713.59a8.30,8.30 0 1,0 16.60,0a8.30,8.30 0 1,0 -16.60,0M1302.33,1713.95a8.30,8.30 0 1,0 16.60,0a8.30,8.30 0 1,0 -16.60,0M1303.16,1714.30a8.30,8.30 0 1,0 16.60,0a8.30,8.30 0 1,0 -16.60,0M1303.99,1714.66a8.30,8.30 0 1,0 16.60,0a8.30,8.30 0 1,0 -16.60,0M1304.81,1715.01a8.30,8.30 0 1,0 16.60,0a8.30,8.30 0 1,0 -16.60,0M1305.63,1715.36a8.30,8.30 0 1,0 16.60,0a8.30,8.30 0 1,0 -16.60,0M1306.45,1715.70a8.30,8.30 0 1,0 16.60,0a8.30,8.30 0 1,0 -16.60,0M1307.26,1716.05a8.30,8.30 0 1,0 16.60,0a8.30,8.30 0 1,0 -16.60,0M1308.06,1716.39a8.30,8.30 0 1,0 16.60,0a8.30,8.30 0 1,0 -16.60,0M1308.87,1716.74a8.30,8.30 0 1,0 16.60,0a8.30,8.30 0 1,0 -16.60,0M1309.67,1717.08a8.30,8.30 0 1,0 16.60,0a8.30,8.30 0 1,0 -16.60,0M1310.46,1717.42a8.30,8.30 0 1,0 16.60,0a8.30,8.30 0 1,0 -16.60,0M1311.25,1717.76a8.30,8.30 0 1,0 16.60,0a8.30,8.30 0 1,0 -16.60,0M1312.04,1718.09a8.30,8.30 0 1,0 16.60,0a8.30,8.30 0 1,0 -16.60,0M1312.83,1718.43a8.30,8.30 0 1,0 16.60,0a8.30,8.30 0 1,0 -16.60,0M1313.61,1718.76a8.30,8.30 0 1,0 16.60,0a8.30,8.30 0 1,0 -16.60,0M1314.39,1719.09a8.30,8.30 0 1,0 16.60,0a8.30,8.30 0 1,0 -16.60,0M1315.16,1719.42a8.30,8.30 0 1,0 16.60,0a8.30,8.30 0 1,0 -16.60,0M1315.93,1719.75a8.30,8.30 0 1,0 16.60,0a8.30,8.30 0 1,0 -16.60,0M1316.70,1720.07a8.30,8.30 0 1,0 16.60,0a8.30,8.30 0 1,0 -16.60,0M1317.47,1720.40a8.30,8.30 0 1,0 16.60,0a8.30,8.30 0 1,0 -16.60,0M1318.23,1720.72a8.30,8.30 0 1,0 16.60,0a8.30,8.30 0 1,0 -16.60,0M1318.98,1721.05a8.30,8.30 0 1,0 16.60,0a8.30,8.30 0 1,0 -16.60,0M1319.74,1721.37a8.30,8.30 0 1,0 16.60,0a8.30,8.30 0 1,0 -16.60,0M1320.49,1721.69a8.30,8.30 0 1,0 16.60,0a8.30,8.30 0 1,0 -16.60,0M1321.24,1722.00a8.30,8.30 0 1,0 16.60,0a8.30,8.30 0 1,0 -16.60,0M1321.98,1722.32a8.30,8.30 0 1,0 16.60,0a8.30,8.30 0 1,0 -16.60,0M1322.72,1722.63a8.30,8.30 0 1,0 16.60,0a8.30,8.30 0 1,0 -16.60,0M1323.46,1722.95a8.30,8.30 0 1,0 16.60,0a8.30,8.30 0 1,0 -16.60,0M1324.20,1723.26a8.30,8.30 0 1,0 16.60,0a8.30,8.30 0 1,0 -16.60,0M1324.93,1723.57a8.30,8.30 0 1,0 16.60,0a8.30,8.30 0 1,0 -16.60,0M1325.66,1723.88a8.30,8.30 0 1,0 16.60,0a8.30,8.30 0 1,0 -16.60,0M1326.38,1724.19a8.30,8.30 0 1,0 16.60,0a8.30,8.30 0 1,0 -16.60,0M1327.11,1724.49a8.30,8.30 0 1,0 16.60,0a8.30,8.30 0 1,0 -16.60,0M1327.83,1724.80a8.30,8.30 0 1,0 16.60,0a8.30,8.30 0 1,0 -16.60,0M1328.54,1725.10a8.30,8.30 0 1,0 16.60,0a8.30,8.30 0 1,0 -16.60,0M1329.26,1725.41a8.30,8.30 0 1,0 16.60,0a8.30,8.30 0 1,0 -16.60,0M1329.97,1725.71a8.30,8.30 0 1,0 16.60,0a8.30,8.30 0 1,0 -16.60,0M1330.67,1726.01a8.30,8.30 0 1,0 16.60,0a8.30,8.30 0 1,0 -16.60,0M1331.38,1726.30a8.30,8.30 0 1,0 16.60,0a8.30,8.30 0 1,0 -16.60,0M1332.08,1726.60a8.30,8.30 0 1,0 16.60,0a8.30,8.30 0 1,0 -16.60,0M1332.78,1726.90a8.30,8.30 0 1,0 16.60,0a8.30,8.30 0 1,0 -16.60,0M1333.48,1727.19a8.30,8.30 0 1,0 16.60,0a8.30,8.30 0 1,0 -16.60,0M1334.17,1727.49a8.30,8.30 0 1,0 16.60,0a8.30,8.30 0 1,0 -16.60,0M1334.86,1727.78a8.30,8.30 0 1,0 16.60,0a8.30,8.30 0 1,0 -16.60,0M1335.55,1728.07a8.30,8.30 0 1,0 16.60,0a8.30,8.30 0 1,0 -16.60,0M1336.23,1728.36a8.30,8.30 0 1,0 16.60,0a8.30,8.30 0 1,0 -16.60,0M1336.92,1728.65a8.30,8.30 0 1,0 16.60,0a8.30,8.30 0 1,0 -16.60,0M1337.60,1728.93a8.30,8.30 0 1,0 16.60,0a8.30,8.30 0 1,0 -16.60,0M1338.27,1729.22a8.30,8.30 0 1,0 16.60,0a8.30,8.30 0 1,0 -16.60,0M1338.95,1729.51a8.30,8.30 0 1,0 16.60,0a8.30,8.30 0 1,0 -16.60,0M1339.62,1729.79a8.30,8.30 0 1,0 16.60,0a8.30,8.30 0 1,0 -16.60,0M1340.29,1730.07a8.30,8.30 0 1,0 16.60,0a8.30,8.30 0 1,0 -16.60,0M1340.96,1730.35a8.30,8.30 0 1,0 16.60,0a8.30,8.30 0 1,0 -16.60,0M1341.62,1730.63a8.30,8.30 0 1,0 16.60,0a8.30,8.30 0 1,0 -16.60,0M1342.28,1730.91a8.30,8.30 0 1,0 16.60,0a8.30,8.30 0 1,0 -16.60,0M1342.94,1731.19a8.30,8.30 0 1,0 16.60,0a8.30,8.30 0 1,0 -16.60,0M1343.60,1731.47a8.30,8.30 0 1,0 16.60,0a8.30,8.30 0 1,0 -16.60,0M1344.25,1731.74a8.30,8.30 0 1,0 16.60,0a8.30,8.30 0 1,0 -16.60,0M1344.91,1732.02a8.30,8.30 0 1,0 16.60,0a8.30,8.30 0 1,0 -16.60,0M1345.55,1732.29a8.30,8.30 0 1,0 16.60,0a8.30,8.30 0 1,0 -16.60,0M1346.20,1732.56a8.30,8.30 0 1,0 16.60,0a8.30,8.30 0 1,0 -16.60,0M1346.85,1732.83a8.30,8.30 0 1,0 16.60,0a8.30,8.30 0 1,0 -16.60,0M1347.49,1733.10a8.30,8.30 0 1,0 16.60,0a8.30,8.30 0 1,0 -16.60,0M1348.13,1733.37a8.30,8.30 0 1,0 16.60,0a8.30,8.30 0 1,0 -16.60,0M1348.76,1733.64a8.30,8.30 0 1,0 16.60,0a8.30,8.30 0 1,0 -16.60,0M1349.40,1733.90a8.30,8.30 0 1,0 16.60,0a8.30,8.30 0 1,0 -16.60,0M1350.03,1734.17a8.30,8.30 0 1,0 16.60,0a8.30,8.30 0 1,0 -16.60,0M1350.66,1734.43a8.30,8.30 0 1,0 16.60,0a8.30,8.30 0 1,0 -16.60,0M1351.29,1734.70a8.30,8.30 0 1,0 16.60,0a8.30,8.30 0 1,0 -16.60,0M1351.92,1734.96a8.30,8.30 0 1,0 16.60,0a8.30,8.30 0 1,0 -16.60,0M1352.54,1735.22a8.30,8.30 0 1,0 16.60,0a8.30,8.30 0 1,0 -16.60,0M1353.16,1735.48a8.30,8.30 0 1,0 16.60,0a8.30,8.30 0 1,0 -16.60,0M1353.78,1735.74a8.30,8.30 0 1,0 16.60,0a8.30,8.30 0 1,0 -16.60,0M1354.40,1736.00a8.30,8.30 0 1,0 16.60,0a8.30,8.30 0 1,0 -16.60,0M1355.01,1736.26a8.30,8.30 0 1,0 16.60,0a8.30,8.30 0 1,0 -16.60,0M1355.62,1736.51a8.30,8.30 0 1,0 16.60,0a8.30,8.30 0 1,0 -16.60,0M1356.23,1736.77a8.30,8.30 0 1,0 16.60,0a8.30,8.30 0 1,0 -16.60,0M1356.84,1737.02a8.30,8.30 0 1,0 16.60,0a8.30,8.30 0 1,0 -16.60,0M1357.45,1737.28a8.30,8.30 0 1,0 16.60,0a8.30,8.30 0 1,0 -16.60,0M1358.05,1737.53a8.30,8.30 0 1,0 16.60,0a8.30,8.30 0 1,0 -16.60,0M1358.65,1737.78a8.30,8.30 0 1,0 16.60,0a8.30,8.30 0 1,0 -16.60,0M1359.25,1738.03a8.30,8.30 0 1,0 16.60,0a8.30,8.30 0 1,0 -16.60,0M1359.85,1738.28a8.30,8.30 0 1,0 16.60,0a8.30,8.30 0 1,0 -16.60,0M1360.45,1738.53a8.30,8.30 0 1,0 16.60,0a8.30,8.30 0 1,0 -16.60,0M1361.04,1738.78a8.30,8.30 0 1,0 16.60,0a8.30,8.30 0 1,0 -16.60,0M1361.63,1739.02a8.30,8.30 0 1,0 16.60,0a8.30,8.30 0 1,0 -16.60,0M1362.22,1739.27a8.30,8.30 0 1,0 16.60,0a8.30,8.30 0 1,0 -16.60,0M1362.81,1739.51a8.30,8.30 0 1,0 16.60,0a8.30,8.30 0 1,0 -16.60,0M1363.39,1739.76a8.30,8.30 0 1,0 16.60,0a8.30,8.30 0 1,0 -16.60,0M1363.98,1740.00a8.30,8.30 0 1,0 16.60,0a8.30,8.30 0 1,0 -16.60,0M1364.56,1740.24a8.30,8.30 0 1,0 16.60,0a8.30,8.30 0 1,0 -16.60,0M1365.14,1740.48a8.30,8.30 0 1,0 16.60,0a8.30,8.30 0 1,0 -16.60,0M1365.71,1740.72a8.30,8.30 0 1,0 16.60,0a8.30,8.30 0 1,0 -16.60,0M1366.29,1740.96a8.30,8.30 0 1,0 16.60,0a8.30,8.30 0 1,0 -16.60,0M1366.86,1741.20a8.30,8.30 0 1,0 16.60,0a8.30,8.30 0 1,0 -16.60,0M1367.43,1741.44a8.30,8.30 0 1,0 16.60,0a8.30,8.30 0 1,0 -16.60,0M1368.00,1741.68a8.30,8.30 0 1,0 16.60,0a8.30,8.30 0 1,0 -16.60,0M1368.57,1741.91a8.30,8.30 0 1,0 16.60,0a8.30,8.30 0 1,0 -16.60,0M1369.14,1742.15a8.30,8.30 0 1,0 16.60,0a8.30,8.30 0 1,0 -16.60,0M1369.70,1742.38a8.30,8.30 0 1,0 16.60,0a8.30,8.30 0 1,0 -16.60,0M1370.27,1742.61a8.30,8.30 0 1,0 16.60,0a8.30,8.30 0 1,0 -16.60,0M1370.83,1742.85a8.30,8.30 0 1,0 16.60,0a8.30,8.30 0 1,0 -16.60,0M1371.38,1743.08a8.30,8.30 0 1,0 16.60,0a8.30,8.30 0 1,0 -16.60,0M1371.94,1743.31a8.30,8.30 0 1,0 16.60,0a8.30,8.30 0 1,0 -16.60,0M1372.50,1743.54a8.30,8.30 0 1,0 16.60,0a8.30,8.30 0 1,0 -16.60,0M1373.05,1743.77a8.30,8.30 0 1,0 16.60,0a8.30,8.30 0 1,0 -16.60,0M1373.60,1743.99a8.30,8.30 0 1,0 16.60,0a8.30,8.30 0 1,0 -16.60,0M1374.15,1744.22a8.30,8.30 0 1,0 16.60,0a8.30,8.30 0 1,0 -16.60,0M1374.70,1744.45a8.30,8.30 0 1,0 16.60,0a8.30,8.30 0 1,0 -16.60,0M1375.25,1744.67a8.30,8.30 0 1,0 16.60,0a8.30,8.30 0 1,0 -16.60,0M1375.79,1744.90a8.30,8.30 0 1,0 16.60,0a8.30,8.30 0 1,0 -16.60,0M1376.33,1745.12a8.30,8.30 0 1,0 16.60,0a8.30,8.30 0 1,0 -16.60,0M1376.88,1745.35a8.30,8.30 0 1,0 16.60,0a8.30,8.30 0 1,0 -16.60,0M1377.42,1745.57a8.30,8.30 0 1,0 16.60,0a8.30,8.30 0 1,0 -16.60,0M1377.95,1745.79a8.30,8.30 0 1,0 16.60,0a8.30,8.30 0 1,0 -16.60,0M1378.49,1746.01a8.30,8.30 0 1,0 16.60,0a8.30,8.30 0 1,0 -16.60,0M1379.02,1746.23a8.30,8.30 0 1,0 16.60,0a8.30,8.30 0 1,0 -16.60,0M1379.56,1746.45a8.30,8.30 0 1,0 16.60,0a8.30,8.30 0 1,0 -16.60,0M1380.09,1746.67a8.30,8.30 0 1,0 16.60,0a8.30,8.30 0 1,0 -16.60,0M1380.62,1746.89a8.30,8.30 0 1,0 16.60,0a8.30,8.30 0 1,0 -16.60,0M1381.15,1747.11a8.30,8.30 0 1,0 16.60,0a8.30,8.30 0 1,0 -16.60,0M1381.67,1747.32a8.30,8.30 0 1,0 16.60,0a8.30,8.30 0 1,0 -16.60,0M1382.20,1747.54a8.30,8.30 0 1,0 16.60,0a8.30,8.30 0 1,0 -16.60,0M1382.72,1747.75a8.30,8.30 0 1,0 16.60,0a8.30,8.30 0 1,0 -16.60,0M1383.24,1747.97a8.30,8.30 0 1,0 16.60,0a8.30,8.30 0 1,0 -16.60,0M1383.76,1748.18a8.30,8.30 0 1,0 16.60,0a8.30,8.30 0 1,0 -16.60,0M1384.28,1748.39a8.30,8.30 0 1,0 16.60,0a8.30,8.30 0 1,0 -16.60,0M1384.80,1748.61a8.30,8.30 0 1,0 16.60,0a8.30,8.30 0 1,0 -16.60,0M1385.31,1748.82a8.30,8.30 0 1,0 16.60,0a8.30,8.30 0 1,0 -16.60,0M1385.83,1749.03a8.30,8.30 0 1,0 16.60,0a8.30,8.30 0 1,0 -16.60,0M1386.34,1749.24a8.30,8.30 0 1,0 16.60,0a8.30,8.30 0 1,0 -16.60,0M1386.85,1749.45a8.30,8.30 0 1,0 16.60,0a8.30,8.30 0 1,0 -16.60,0M1387.36,1749.66a8.30,8.30 0 1,0 16.60,0a8.30,8.30 0 1,0 -16.60,0M1387.87,1749.86a8.30,8.30 0 1,0 16.60,0a8.30,8.30 0 1,0 -16.60,0M1388.37,1750.07a8.30,8.30 0 1,0 16.60,0a8.30,8.30 0 1,0 -16.60,0M1388.88,1750.28a8.30,8.30 0 1,0 16.60,0a8.30,8.30 0 1,0 -16.60,0M1389.38,1750.48a8.30,8.30 0 1,0 16.60,0a8.30,8.30 0 1,0 -16.60,0M1389.88,1750.69a8.30,8.30 0 1,0 16.60,0a8.30,8.30 0 1,0 -16.60,0M1390.38,1750.89a8.30,8.30 0 1,0 16.60,0a8.30,8.30 0 1,0 -16.60,0M1390.88,1751.09a8.30,8.30 0 1,0 16.60,0a8.30,8.30 0 1,0 -16.60,0M1391.38,1751.30a8.30,8.30 0 1,0 16.60,0a8.30,8.30 0 1,0 -16.60,0M1391.88,1751.50a8.30,8.30 0 1,0 16.60,0a8.30,8.30 0 1,0 -16.60,0M1392.37,1751.70a8.30,8.30 0 1,0 16.60,0a8.30,8.30 0 1,0 -16.60,0M1392.86,1751.90a8.30,8.30 0 1,0 16.60,0a8.30,8.30 0 1,0 -16.60,0M1393.36,1752.10a8.30,8.30 0 1,0 16.60,0a8.30,8.30 0 1,0 -16.60,0M1393.85,1752.30a8.30,8.30 0 1,0 16.60,0a8.30,8.30 0 1,0 -16.60,0M1394.34,1752.50a8.30,8.30 0 1,0 16.60,0a8.30,8.30 0 1,0 -16.60,0M1394.82,1752.70a8.30,8.30 0 1,0 16.60,0a8.30,8.30 0 1,0 -16.60,0M1395.31,1752.90a8.30,8.30 0 1,0 16.60,0a8.30,8.30 0 1,0 -16.60,0M1395.79,1753.09a8.30,8.30 0 1,0 16.60,0a8.30,8.30 0 1,0 -16.60,0M1396.28,1753.29a8.30,8.30 0 1,0 16.60,0a8.30,8.30 0 1,0 -16.60,0M1396.76,1753.49a8.30,8.30 0 1,0 16.60,0a8.30,8.30 0 1,0 -16.60,0M1397.24,1753.68a8.30,8.30 0 1,0 16.60,0a8.30,8.30 0 1,0 -16.60,0M1397.72,1753.88a8.30,8.30 0 1,0 16.60,0a8.30,8.30 0 1,0 -16.60,0M1398.20,1754.07a8.30,8.30 0 1,0 16.60,0a8.30,8.30 0 1,0 -16.60,0M1398.68,1754.26a8.30,8.30 0 1,0 16.60,0a8.30,8.30 0 1,0 -16.60,0M1399.15,1754.46a8.30,8.30 0 1,0 16.60,0a8.30,8.30 0 1,0 -16.60,0M1399.63,1754.65a8.30,8.30 0 1,0 16.60,0a8.30,8.30 0 1,0 -16.60,0M1400.10,1754.84a8.30,8.30 0 1,0 16.60,0a8.30,8.30 0 1,0 -16.60,0M1400.57,1755.03a8.30,8.30 0 1,0 16.60,0a8.30,8.30 0 1,0 -16.60,0M1401.04,1755.22a8.30,8.30 0 1,0 16.60,0a8.30,8.30 0 1,0 -16.60,0M1401.51,1755.41a8.30,8.30 0 1,0 16.60,0a8.30,8.30 0 1,0 -16.60,0M1401.98,1755.60a8.30,8.30 0 1,0 16.60,0a8.30,8.30 0 1,0 -16.60,0M1402.44,1755.79a8.30,8.30 0 1,0 16.60,0a8.30,8.30 0 1,0 -16.60,0M1402.91,1755.98a8.30,8.30 0 1,0 16.60,0a8.30,8.30 0 1,0 -16.60,0M1403.37,1756.16a8.30,8.30 0 1,0 16.60,0a8.30,8.30 0 1,0 -16.60,0M1403.84,1756.35a8.30,8.30 0 1,0 16.60,0a8.30,8.30 0 1,0 -16.60,0M1404.30,1756.54a8.30,8.30 0 1,0 16.60,0a8.30,8.30 0 1,0 -16.60,0M1404.76,1756.72a8.30,8.30 0 1,0 16.60,0a8.30,8.30 0 1,0 -16.60,0M1405.22,1756.91a8.30,8.30 0 1,0 16.60,0a8.30,8.30 0 1,0 -16.60,0M1405.68,1757.09a8.30,8.30 0 1,0 16.60,0a8.30,8.30 0 1,0 -16.60,0M1406.13,1757.27a8.30,8.30 0 1,0 16.60,0a8.30,8.30 0 1,0 -16.60,0M1406.59,1757.46a8.30,8.30 0 1,0 16.60,0a8.30,8.30 0 1,0 -16.60,0M1407.04,1757.64a8.30,8.30 0 1,0 16.60,0a8.30,8.30 0 1,0 -16.60,0M1407.50,1757.82a8.30,8.30 0 1,0 16.60,0a8.30,8.30 0 1,0 -16.60,0M1407.95,1758.00a8.30,8.30 0 1,0 16.60,0a8.30,8.30 0 1,0 -16.60,0M1408.40,1758.18a8.30,8.30 0 1,0 16.60,0a8.30,8.30 0 1,0 -16.60,0M1408.85,1758.36a8.30,8.30 0 1,0 16.60,0a8.30,8.30 0 1,0 -16.60,0M1409.30,1758.54a8.30,8.30 0 1,0 16.60,0a8.30,8.30 0 1,0 -16.60,0M1409.74,1758.72a8.30,8.30 0 1,0 16.60,0a8.30,8.30 0 1,0 -16.60,0M1410.19,1758.90a8.30,8.30 0 1,0 16.60,0a8.30,8.30 0 1,0 -16.60,0M1410.63,1759.08a8.30,8.30 0 1,0 16.60,0a8.30,8.30 0 1,0 -16.60,0M1411.08,1759.26a8.30,8.30 0 1,0 16.60,0a8.30,8.30 0 1,0 -16.60,0M1411.52,1759.43a8.30,8.30 0 1,0 16.60,0a8.30,8.30 0 1,0 -16.60,0M1411.96,1759.61a8.30,8.30 0 1,0 16.60,0a8.30,8.30 0 1,0 -16.60,0M1412.40,1759.79a8.30,8.30 0 1,0 16.60,0a8.30,8.30 0 1,0 -16.60,0M1412.84,1759.96a8.30,8.30 0 1,0 16.60,0a8.30,8.30 0 1,0 -16.60,0M1413.28,1760.14a8.30,8.30 0 1,0 16.60,0a8.30,8.30 0 1,0 -16.60,0M1413.72,1760.31a8.30,8.30 0 1,0 16.60,0a8.30,8.30 0 1,0 -16.60,0M1414.15,1760.49a8.30,8.30 0 1,0 16.60,0a8.30,8.30 0 1,0 -16.60,0M1414.59,1760.66a8.30,8.30 0 1,0 16.60,0a8.30,8.30 0 1,0 -16.60,0M1415.02,1760.83a8.30,8.30 0 1,0 16.60,0a8.30,8.30 0 1,0 -16.60,0M1415.45,1761.01a8.30,8.30 0 1,0 16.60,0a8.30,8.30 0 1,0 -16.60,0M1432.24,1772.24a8.30,8.30 0 1,0 16.60,0a8.30,8.30 0 1,0 -16.60,0M1447.25,1778.59a8.30,8.30 0 1,0 16.60,0a8.30,8.30 0 1,0 -16.60,0M1461.06,1785.53a8.30,8.30 0 1,0 16.60,0a8.30,8.30 0 1,0 -16.60,0M1473.84,1791.94a8.30,8.30 0 1,0 16.60,0a8.30,8.30 0 1,0 -16.60,0M1485.74,1796.97a8.30,8.30 0 1,0 16.60,0a8.30,8.30 0 1,0 -16.60,0M1496.88,1801.26a8.30,8.30 0 1,0 16.60,0a8.30,8.30 0 1,0 -16.60,0M1507.33,1805.19a8.30,8.30 0 1,0 16.60,0a8.30,8.30 0 1,0 -16.60,0M1517.19,1809.03a8.30,8.30 0 1,0 16.60,0a8.30,8.30 0 1,0 -16.60,0M1526.52,1812.82a8.30,8.30 0 1,0 16.60,0a8.30,8.30 0 1,0 -16.60,0M1535.37,1816.42a8.30,8.30 0 1,0 16.60,0a8.30,8.30 0 1,0 -16.60,0M1543.79,1819.86a8.30,8.30 0 1,0 16.60,0a8.30,8.30 0 1,0 -16.60,0M1551.81,1823.18a8.30,8.30 0 1,0 16.60,0a8.30,8.30 0 1,0 -16.60,0M1559.48,1826.39a8.30,8.30 0 1,0 16.60,0a8.30,8.30 0 1,0 -16.60,0M1566.82,1829.52a8.30,8.30 0 1,0 16.60,0a8.30,8.30 0 1,0 -16.60,0M1573.86,1832.58a8.30,8.30 0 1,0 16.60,0a8.30,8.30 0 1,0 -16.60,0M1580.63,1835.60a8.30,8.30 0 1,0 16.60,0a8.30,8.30 0 1,0 -16.60,0M1587.14,1838.57a8.30,8.30 0 1,0 16.60,0a8.30,8.30 0 1,0 -16.60,0M1593.41,1841.51a8.30,8.30 0 1,0 16.60,0a8.30,8.30 0 1,0 -16.60,0M1599.46,1844.46a8.30,8.30 0 1,0 16.60,0a8.30,8.30 0 1,0 -16.60,0M1605.31,1847.40a8.30,8.30 0 1,0 16.60,0a8.30,8.30 0 1,0 -16.60,0M1610.97,1850.32a8.30,8.30 0 1,0 16.60,0a8.30,8.30 0 1,0 -16.60,0M1616.45,1853.20a8.30,8.30 0 1,0 16.60,0a8.30,8.30 0 1,0 -16.60,0M1621.75,1856.03a8.30,8.30 0 1,0 16.60,0a8.30,8.30 0 1,0 -16.60,0M1626.90,1858.81a8.30,8.30 0 1,0 16.60,0a8.30,8.30 0 1,0 -16.60,0M1631.90,1861.51a8.30,8.30 0 1,0 16.60,0a8.30,8.30 0 1,0 -16.60,0M1636.76,1864.15a8.30,8.30 0 1,0 16.60,0a8.30,8.30 0 1,0 -16.60,0M1641.49,1866.71a8.30,8.30 0 1,0 16.60,0a8.30,8.30 0 1,0 -16.60,0M1646.09,1869.19a8.30,8.30 0 1,0 16.60,0a8.30,8.30 0 1,0 -16.60,0M1650.57,1871.58a8.30,8.30 0 1,0 16.60,0a8.30,8.30 0 1,0 -16.60,0M1654.94,1873.89a8.30,8.30 0 1,0 16.60,0a8.30,8.30 0 1,0 -16.60,0M1659.20,1876.09a8.30,8.30 0 1,0 16.60,0a8.30,8.30 0 1,0 -16.60,0M1663.35,1878.22a8.30,8.30 0 1,0 16.60,0a8.30,8.30 0 1,0 -16.60,0M1667.41,1880.29a8.30,8.30 0 1,0 16.60,0a8.30,8.30 0 1,0 -16.60,0M1671.38,1882.33a8.30,8.30 0 1,0 16.60,0a8.30,8.30 0 1,0 -16.60,0M1675.26,1884.35a8.30,8.30 0 1,0 16.60,0a8.30,8.30 0 1,0 -16.60,0M1679.05,1886.36a8.30,8.30 0 1,0 16.60,0a8.30,8.30 0 1,0 -16.60,0M1682.76,1888.37a8.30,8.30 0 1,0 16.60,0a8.30,8.30 0 1,0 -16.60,0M1686.39,1890.40a8.30,8.30 0 1,0 16.60,0a8.30,8.30 0 1,0 -16.60,0M1689.95,1892.46a8.30,8.30 0 1,0 16.60,0a8.30,8.30 0 1,0 -16.60,0M1693.43,1894.55a8.30,8.30 0 1,0 16.60,0a8.30,8.30 0 1,0 -16.60,0M1696.85,1896.66a8.30,8.30 0 1,0 16.60,0a8.30,8.30 0 1,0 -16.60,0M1700.20,1898.78a8.30,8.30 0 1,0 16.60,0a8.30,8.30 0 1,0 -16.60,0M1703.48,1900.91a8.30,8.30 0 1,0 16.60,0a8.30,8.30 0 1,0 -16.60,0M1706.71,1903.05a8.30,8.30 0 1,0 16.60,0a8.30,8.30 0 1,0 -16.60,0M1709.87,1905.19a8.30,8.30 0 1,0 16.60,0a8.30,8.30 0 1,0 -16.60,0M1712.98,1907.32a8.30,8.30 0 1,0 16.60,0a8.30,8.30 0 1,0 -16.60,0M1716.03,1909.45a8.30,8.30 0 1,0 16.60,0a8.30,8.30 0 1,0 -16.60,0M1719.03,1911.57a8.30,8.30 0 1,0 16.60,0a8.30,8.30 0 1,0 -16.60,0M1721.98,1913.68a8.30,8.30 0 1,0 16.60,0a8.30,8.30 0 1,0 -16.60,0M1724.88,1915.77a8.30,8.30 0 1,0 16.60,0a8.30,8.30 0 1,0 -16.60,0M1727.73,1917.85a8.30,8.30 0 1,0 16.60,0a8.30,8.30 0 1,0 -16.60,0M1730.54,1919.90a8.30,8.30 0 1,0 16.60,0a8.30,8.30 0 1,0 -16.60,0M1733.30,1921.94a8.30,8.30 0 1,0 16.60,0a8.30,8.30 0 1,0 -16.60,0M1736.01,1923.96a8.30,8.30 0 1,0 16.60,0a8.30,8.30 0 1,0 -16.60,0M1738.69,1925.95a8.30,8.30 0 1,0 16.60,0a8.30,8.30 0 1,0 -16.60,0M1741.32,1927.92a8.30,8.30 0 1,0 16.60,0a8.30,8.30 0 1,0 -16.60,0M1743.92,1929.86a8.30,8.30 0 1,0 16.60,0a8.30,8.30 0 1,0 -16.60,0M1746.47,1931.78a8.30,8.30 0 1,0 16.60,0a8.30,8.30 0 1,0 -16.60,0M1748.99,1933.68a8.30,8.30 0 1,0 16.60,0a8.30,8.30 0 1,0 -16.60,0M1751.47,1935.56a8.30,8.30 0 1,0 16.60,0a8.30,8.30 0 1,0 -16.60,0M1753.92,1937.42a8.30,8.30 0 1,0 16.60,0a8.30,8.30 0 1,0 -16.60,0M1756.33,1939.28a8.30,8.30 0 1,0 16.60,0a8.30,8.30 0 1,0 -16.60,0M1758.71,1941.13a8.30,8.30 0 1,0 16.60,0a8.30,8.30 0 1,0 -16.60,0M1761.06,1942.98a8.30,8.30 0 1,0 16.60,0a8.30,8.30 0 1,0 -16.60,0M1763.37,1944.82a8.30,8.30 0 1,0 16.60,0a8.30,8.30 0 1,0 -16.60,0M1765.66,1946.66a8.30,8.30 0 1,0 16.60,0a8.30,8.30 0 1,0 -16.60,0M1767.91,1948.51a8.30,8.30 0 1,0 16.60,0a8.30,8.30 0 1,0 -16.60,0M1770.14,1950.36a8.30,8.30 0 1,0 16.60,0a8.30,8.30 0 1,0 -16.60,0M1772.34,1952.21a8.30,8.30 0 1,0 16.60,0a8.30,8.30 0 1,0 -16.60,0M1774.51,1954.08a8.30,8.30 0 1,0 16.60,0a8.30,8.30 0 1,0 -16.60,0M1776.65,1955.95a8.30,8.30 0 1,0 16.60,0a8.30,8.30 0 1,0 -16.60,0M1778.77,1957.83a8.30,8.30 0 1,0 16.60,0a8.30,8.30 0 1,0 -16.60,0M1780.86,1959.73a8.30,8.30 0 1,0 16.60,0a8.30,8.30 0 1,0 -16.60,0M1782.92,1961.64a8.30,8.30 0 1,0 16.60,0a8.30,8.30 0 1,0 -16.60,0M1784.97,1963.62a8.30,8.30 0 1,0 16.60,0a8.30,8.30 0 1,0 -16.60,0M1786.98,1965.65a8.30,8.30 0 1,0 16.60,0a8.30,8.30 0 1,0 -16.60,0M1788.98,1967.71a8.30,8.30 0 1,0 16.60,0a8.30,8.30 0 1,0 -16.60,0M1790.95,1969.79a8.30,8.30 0 1,0 16.60,0a8.30,8.30 0 1,0 -16.60,0M1792.90,1971.86a8.30,8.30 0 1,0 16.60,0a8.30,8.30 0 1,0 -16.60,0M1794.83,1973.93a8.30,8.30 0 1,0 16.60,0a8.30,8.30 0 1,0 -16.60,0M1796.73,1975.97a8.30,8.30 0 1,0 16.60,0a8.30,8.30 0 1,0 -16.60,0M1798.62,1977.98a8.30,8.30 0 1,0 16.60,0a8.30,8.30 0 1,0 -16.60,0M1800.48,1979.97a8.30,8.30 0 1,0 16.60,0a8.30,8.30 0 1,0 -16.60,0M1802.33,1981.96a8.30,8.30 0 1,0 16.60,0a8.30,8.30 0 1,0 -16.60,0M1804.15,1983.95a8.30,8.30 0 1,0 16.60,0a8.30,8.30 0 1,0 -16.60,0M1805.96,1985.92a8.30,8.30 0 1,0 16.60,0a8.30,8.30 0 1,0 -16.60,0M1807.75,1987.89a8.30,8.30 0 1,0 16.60,0a8.30,8.30 0 1,0 -16.60,0M1809.51,1989.86a8.30,8.30 0 1,0 16.60,0a8.30,8.30 0 1,0 -16.60,0M1811.27,1991.81a8.30,8.30 0 1,0 16.60,0a8.30,8.30 0 1,0 -16.60,0M1813.00,1993.76a8.30,8.30 0 1,0 16.60,0a8.30,8.30 0 1,0 -16.60,0M1845.20,2026.60a8.30,8.30 0 1,0 16.60,0a8.30,8.30 0 1,0 -16.60,0M1871.50,2071.70a8.30,8.30 0 1,0 16.60,0a8.30,8.30 0 1,0 -16.60,0M1894.70,2109.30a8.30,8.30 0 1,0 16.60,0a8.30,8.30 0 1,0 -16.60,0M1914.90,2144.00a8.30,8.30 0 1,0 16.60,0a8.30,8.30 0 1,0 -16.60,0M1933.50,2188.00a8.30,8.30 0 1,0 16.60,0a8.30,8.30 0 1,0 -16.60,0M1949.90,2241.40a8.30,8.30 0 1,0 16.60,0a8.30,8.30 0 1,0 -16.60,0M1964.00,2280.00a8.30,8.30 0 1,0 16.60,0a8.30,8.30 0 1,0 -16.60,0M1978.30,2325.60a8.30,8.30 0 1,0 16.60,0a8.30,8.30 0 1,0 -16.60,0M1990.60,2388.00a8.30,8.30 0 1,0 16.60,0a8.30,8.30 0 1,0 -16.60,0" fill="#0000ff"/>
<rect x="445.0" y="677.0" width="446.5" height="194.5" fill="#fff" stroke="#7f7f7f" stroke-width="2.6"/>
<ellipse cx="470.1" cy="735.8" rx="9.3" ry="13" fill="#ff0000"/>
<ellipse cx="471.5" cy="831" rx="9.6" ry="13.4" fill="#0000ff"/>
<text x="507.5" y="743.7" font-size="43.3">No depression filling</text>
<text x="521.5" y="841.2" font-size="43.3">Depression filling</text>
<rect x="532.2" y="1831.8" width="446.8" height="194.0" fill="#fff" stroke="#7f7f7f" stroke-width="2.6"/>
<ellipse cx="557.4" cy="1890.5" rx="9.3" ry="13" fill="#ff0000"/>
<ellipse cx="558.7" cy="1985.2" rx="9.6" ry="13.4" fill="#0000ff"/>
<text x="594.8" y="1897.9" font-size="43.3">No depression filling</text>
<text x="608.7" y="1995.4" font-size="43.3">Depression filling</text>
<g font-family="'Liberation Serif', 'Times New Roman', serif" fill="#000">
<text x="140.3" y="81.3" font-size="53">10<tspan dx="-1.5" dy="-20.5" font-size="36">0</tspan></text>
<text x="130.6" y="337.0" font-size="53">10<tspan dx="-1.5" dy="-20.5" font-size="36" letter-spacing="-1.5">-1</tspan></text>
<text x="130.6" y="616.0" font-size="53">10<tspan dx="-1.5" dy="-20.5" font-size="36" letter-spacing="-1.5">-2</tspan></text>
<text x="126.9" y="882.0" font-size="53">10<tspan dx="-1.5" dy="-20.5" font-size="36" letter-spacing="-1.5">-3</tspan></text>
<text x="123.6" y="1157.5" font-size="53">10<tspan dx="-1.5" dy="-20.5" font-size="36" letter-spacing="-1.5">-4</tspan></text>
<text x="143.6" y="1349.8" font-size="53">10<tspan dx="-1.5" dy="-20.5" font-size="36">0</tspan></text>
<text x="133.6" y="1615.6" font-size="53">10<tspan dx="-1.5" dy="-20.5" font-size="36" letter-spacing="-1.5">-1</tspan></text>
<text x="133.6" y="1885.3" font-size="53">10<tspan dx="-1.5" dy="-20.5" font-size="36" letter-spacing="-1.5">-2</tspan></text>
<text x="126.9" y="2151.0" font-size="53">10<tspan dx="-1.5" dy="-20.5" font-size="36" letter-spacing="-1.5">-3</tspan></text>
<text x="123.6" y="2426.5" font-size="53">10<tspan dx="-1.5" dy="-20.5" font-size="36" letter-spacing="-1.5">-4</tspan></text>
<text x="194.3" y="1208.3" font-size="53">10<tspan dx="-1.5" dy="-20.5" font-size="36" letter-spacing="-1.5">-4</tspan></text>
<text x="591.9" y="1208.5" font-size="53">10<tspan dx="-1.5" dy="-20.5" font-size="36" letter-spacing="-1.5">-3</tspan></text>
<text x="1001.7" y="1195.1" font-size="53">10<tspan dx="-1.5" dy="-20.5" font-size="36" letter-spacing="-1.5">-2</tspan></text>
<text x="1382.1" y="1198.2" font-size="53">10<tspan dx="-1.5" dy="-20.5" font-size="36" letter-spacing="-1.5">-1</tspan></text>
<text x="1779.4" y="1198.2" font-size="53">10<tspan dx="-1.5" dy="-20.5" font-size="36">0</tspan></text>
<text x="2186.7" y="1201.7" font-size="53">10<tspan dx="-1.5" dy="-20.5" font-size="36">1</tspan></text>
<text x="194.3" y="2493.9" font-size="53">10<tspan dx="-1.5" dy="-20.5" font-size="36" letter-spacing="-1.5">-4</tspan></text>
<text x="595.0" y="2493.8" font-size="53">10<tspan dx="-1.5" dy="-20.5" font-size="36" letter-spacing="-1.5">-3</tspan></text>
<text x="1002.1" y="2480.4" font-size="53">10<tspan dx="-1.5" dy="-20.5" font-size="36" letter-spacing="-1.5">-2</tspan></text>
<text x="1385.6" y="2484.0" font-size="53">10<tspan dx="-1.5" dy="-20.5" font-size="36" letter-spacing="-1.5">-1</tspan></text>
<text x="1783.0" y="2484.0" font-size="53">10<tspan dx="-1.5" dy="-20.5" font-size="36">0</tspan></text>
<text x="2189.5" y="2486.9" font-size="53">10<tspan dx="-1.5" dy="-20.5" font-size="36">1</tspan></text>
<text transform="translate(30.2,616.9) scale(0.87,1)" font-size="79" font-style="italic">A</text>
<text transform="translate(75.5,590.5) scale(0.88,1.1)" font-size="54">*</text>
<text transform="translate(30.2,1885.5) scale(0.87,1)" font-size="79" font-style="italic">A</text>
<text transform="translate(77.9,1858.9) scale(0.88,1.1)" font-size="54">*</text>
<text x="1161.2" y="1265.7" font-size="79" font-style="italic">h</text>
<text transform="translate(1197.1,1278.8) scale(1.15,1)" font-size="46" font-style="italic">s</text>
<text x="1221.9" y="1252.7" font-size="53">(m)</text>
<text x="1144.2" y="2544.2" font-size="79" font-style="italic">h</text>
<text transform="translate(1180.6,2557.8) scale(1.15,1)" font-size="46" font-style="italic">s</text>
<text x="1205.5" y="2531.2" font-size="53">(m)</text>
<text x="1974.6" y="154.5" font-size="77">(a)</text>
<text x="1964.6" y="1419.5" font-size="77">(b)</text>
<text x="1812.0" y="412.8" font-size="57.3">Simulation</text>
<text x="1812.0" y="484.6" font-size="57.3">Spadola - 1</text>
<text x="1765.1" y="1636.7" font-size="57.3">Simulation</text>
<text x="1765.1" y="1706.9" font-size="57.3">Spadola - 2</text>
</g>
</g>
</svg>
</body></html>
